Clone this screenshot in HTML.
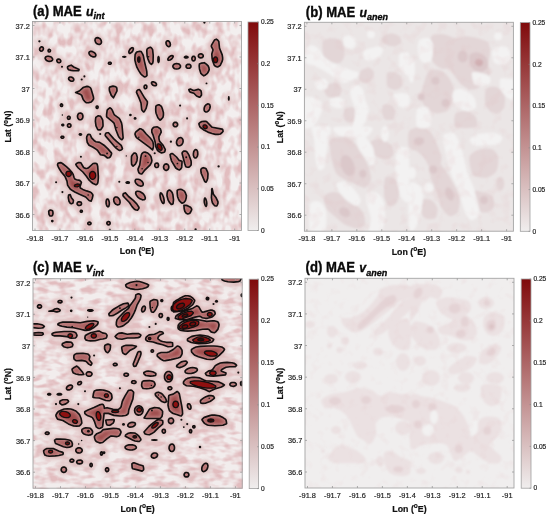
<!DOCTYPE html><html><head><meta charset="utf-8"><style>
html,body{margin:0;padding:0;background:#fff;width:550px;height:518px;overflow:hidden}
svg{display:block} .tk{font-family:"Liberation Sans", Arial, sans-serif;font-size:7.4px;fill:#1e1e1e;stroke:#1e1e1e;stroke-width:0.18px} .al{font-family:"Liberation Sans", Arial, sans-serif;font-size:8.8px;font-weight:bold;fill:#111;stroke:#111;stroke-width:0.2px} .ti{font-family:"Liberation Sans", Arial, sans-serif;font-size:13.8px;font-weight:bold;fill:#0a0a0a;stroke:#0a0a0a;stroke-width:0.35px}
</style></head><body>
<svg width="550" height="518" viewBox="0 0 550 518">
<defs><linearGradient id="cbg" x1="0" y1="1" x2="0" y2="0"><stop offset="0" stop-color="#f0eeee"/><stop offset="1" stop-color="#800a0b"/></linearGradient>
<filter id="bl1" x="-20%" y="-20%" width="140%" height="140%"><feGaussianBlur stdDeviation="2.2"/></filter>
<filter id="bl2" x="-20%" y="-20%" width="140%" height="140%"><feGaussianBlur stdDeviation="3.5"/></filter><filter id="bl3" x="-20%" y="-20%" width="140%" height="140%"><feGaussianBlur stdDeviation="1.2"/></filter><filter id="bl4" x="-5%" y="-5%" width="110%" height="110%"><feGaussianBlur stdDeviation="1.3"/></filter>
<filter id="motpa" color-interpolation-filters="sRGB" x="0" y="0" width="100%" height="100%"><feTurbulence type="fractalNoise" baseFrequency="0.13 0.085" numOctaves="2" seed="11"/><feColorMatrix type="matrix" values="0 0 0 0 0.885  0 0 0 0 0.74  0 0 0 0 0.75  3 0 0 0 -1.200"/></filter>
<filter id="motpc" color-interpolation-filters="sRGB" x="0" y="0" width="100%" height="100%"><feTurbulence type="fractalNoise" baseFrequency="0.085 0.17" numOctaves="2" seed="3"/><feColorMatrix type="matrix" values="0 0 0 0 0.885  0 0 0 0 0.74  0 0 0 0 0.75  3 0 0 0 -1.200"/></filter>
<filter id="motpb" color-interpolation-filters="sRGB" x="0" y="0" width="100%" height="100%"><feTurbulence type="fractalNoise" baseFrequency="0.09 0.09" numOctaves="2" seed="5"/><feColorMatrix type="matrix" values="0 0 0 0 0.885  0 0 0 0 0.74  0 0 0 0 0.75  4 0 0 0 -2.000"/></filter>
<filter id="motpd" color-interpolation-filters="sRGB" x="0" y="0" width="100%" height="100%"><feTurbulence type="fractalNoise" baseFrequency="0.1 0.1" numOctaves="2" seed="9"/><feColorMatrix type="matrix" values="0 0 0 0 0.885  0 0 0 0 0.74  0 0 0 0 0.75  4 0 0 0 -2.080"/></filter>
</defs>
<rect width="550" height="518" fill="#fff"/>
<clipPath id="clipa"><rect x="32.5" y="21.5" width="209.0" height="209.0"/></clipPath>
<rect x="32.5" y="21.5" width="209.0" height="209.0" fill="#f3efef"/>
<rect x="32.5" y="21.5" width="209.0" height="209.0" filter="url(#motpa)" opacity="1"/>
<g clip-path="url(#clipa)"><path d="M225.5 97.1 225.6 100.5 226.9 102.5 229.3 103.1 231.3 101.8 232.1 100.0 232.2 97.7 231.7 95.5 230.7 94.3 229.0 93.7 227.2 94.2 226.1 95.2ZM198.0 129.6 201.7 132.4 206.6 135.0 212.4 137.0 215.8 137.6 220.3 137.3 222.4 136.5 225.4 133.6 226.3 131.2 225.6 128.4 224.2 126.6 221.9 125.8 213.7 124.4 208.6 119.2 205.3 118.2 200.6 118.6 198.2 119.9 196.3 121.8 195.8 123.2 195.9 125.1ZM170.7 63.2 169.7 66.1 170.6 69.2 173.2 71.5 176.6 72.2 180.8 71.2 182.2 70.0 183.3 68.4 184.5 70.0 186.6 71.2 188.9 71.5 190.9 71.1 192.6 69.9 193.8 68.1 194.1 66.1 193.6 64.1 196.3 63.3 196.2 68.8 198.1 75.1 200.2 77.3 202.1 78.6 203.8 79.0 205.3 78.7 208.4 76.7 210.4 74.6 212.3 70.7 212.2 67.6 215.8 69.9 218.5 70.0 222.5 67.5 224.9 63.0 225.7 60.4 225.6 56.1 224.9 53.1 222.6 47.4 221.7 40.3 220.5 38.3 218.6 36.7 215.7 36.0 213.5 36.9 211.9 38.1 209.1 42.9 208.3 44.9 208.2 46.8 209.7 50.2 208.7 53.0 208.6 55.1 209.1 59.9 210.1 63.4 207.3 60.8 204.8 59.6 205.9 58.2 206.4 56.3 206.3 54.6 205.5 53.0 203.5 51.3 200.9 50.7 197.9 51.4 195.7 53.6 192.9 53.1 190.1 54.6 188.2 53.5 185.9 53.2 182.7 54.2 181.7 55.4 181.2 56.9 181.4 58.6 182.3 59.8 184.9 61.1 187.1 61.2 189.0 60.6 189.2 61.1 185.6 61.8 183.3 64.2 182.0 62.4 179.9 61.0 177.2 60.4 174.5 60.7 175.8 58.6 176.4 56.5 176.0 54.7 175.0 53.3 172.5 52.3 169.7 52.9 167.8 54.0 166.0 55.8 164.9 57.9 164.7 59.9 165.3 61.7 166.6 62.9 168.5 63.5ZM198.7 60.8 198.3 60.9 198.0 61.1 198.2 60.6ZM208.2 196.9 206.8 195.3 204.9 194.8 202.9 195.5 201.7 197.1 201.1 199.6 201.2 202.9 202.0 206.1 203.4 208.4 205.5 209.6 207.7 209.1 209.2 207.6 209.9 204.8 212.3 207.8 214.2 209.0 217.1 209.2 219.2 208.1 220.9 204.4 221.1 201.0 218.9 196.3 216.3 193.0 214.9 187.0 213.3 185.5 210.8 185.5 208.7 187.7ZM213.4 106.8 212.8 103.6 211.1 101.5 208.5 100.6 205.8 101.1 203.2 103.1 201.5 105.9 200.8 109.3 201.4 112.2 202.6 113.8 204.4 114.9 206.4 115.2 208.4 114.7 210.3 113.4 211.9 111.5 213.0 109.1ZM198.3 174.6 201.7 182.5 202.8 184.0 205.5 185.3 207.0 185.2 208.4 184.5 210.7 179.3 211.2 173.9 210.5 170.6 208.3 166.5 205.9 165.0 203.4 164.5 201.7 164.8 199.4 166.2 198.1 167.8 197.7 169.3ZM188.8 95.0 192.2 96.0 194.5 98.4 196.9 99.7 198.8 100.4 200.5 100.3 202.9 98.5 204.5 95.9 204.7 93.5 204.2 90.1 202.8 88.0 199.7 86.4 197.6 86.2 194.1 87.3 190.5 85.9 188.5 86.1 186.3 87.5 185.6 89.8 187.0 93.4ZM110.8 197.6 108.9 196.1 106.7 195.8 104.8 196.8 103.4 199.0 102.8 202.1 103.3 205.5 104.4 207.9 106.3 209.6 108.3 210.0 110.3 209.3 111.7 207.5 112.4 205.3 114.1 206.9 116.2 207.9 118.2 208.1 120.2 207.6 121.6 206.6 122.7 204.9 123.2 200.8 127.0 204.6 129.6 208.5 132.7 211.9 136.2 213.3 139.0 213.0 141.1 210.8 142.2 207.8 141.8 205.8 139.3 202.1 142.4 203.0 145.2 202.7 147.4 201.3 148.5 198.6 148.2 196.0 147.0 193.4 145.0 191.2 142.2 189.2 144.2 188.4 145.5 187.3 146.3 185.6 146.5 183.9 145.1 180.1 141.7 177.2 144.1 176.1 147.2 172.3 152.0 167.5 153.6 169.6 156.0 170.7 158.4 170.4 160.6 168.9 162.4 172.0 164.0 173.1 165.8 173.5 167.9 173.3 170.0 172.0 171.2 170.4 172.0 168.0 174.2 170.8 176.9 172.5 179.1 173.1 181.8 172.2 184.3 169.4 187.4 170.4 190.0 170.2 192.2 168.6 194.0 166.2 194.3 161.1 197.4 160.7 199.0 159.5 200.1 157.7 201.1 153.1 200.0 149.0 197.8 146.8 194.8 146.5 192.2 148.1 190.5 151.5 188.9 149.3 187.5 148.4 184.5 147.8 182.3 148.1 184.1 146.6 185.6 144.4 186.2 141.8 186.1 139.4 185.3 137.2 184.0 135.6 182.2 134.6 179.8 134.4 177.2 135.3 175.2 137.1 173.9 139.4 173.3 142.3 174.0 145.6 175.9 147.9 178.8 149.0 181.9 148.4 179.2 151.5 178.9 153.0 179.2 155.2 173.3 150.5 170.6 150.5 168.0 152.1 168.5 149.8 168.0 147.7 165.7 143.7 162.3 139.1 162.0 137.4 164.0 133.6 164.4 131.5 163.5 128.1 162.1 126.1 157.9 123.8 155.0 123.8 152.3 124.4 150.7 125.7 149.1 128.0 148.6 129.6 148.6 131.8 145.5 128.0 143.5 126.6 140.7 125.6 138.1 126.1 134.9 128.4 132.9 130.6 131.8 133.4 132.2 136.2 134.5 140.0 146.9 149.3 144.6 148.9 142.8 149.1 140.8 150.4 139.0 152.3 136.9 150.4 133.5 149.8 131.6 150.8 129.7 153.1 128.6 154.9 128.2 157.0 128.6 165.2 129.9 167.4 131.6 168.9 133.2 169.3 134.8 168.9 135.8 173.7 137.8 175.9 135.5 176.2 133.6 177.2 132.4 178.7 131.9 180.6 130.7 179.5 129.1 178.8 127.1 178.7 125.3 179.2 123.6 180.4 122.9 182.6 124.0 185.2 127.1 186.5 130.5 185.9 131.7 184.8 132.4 183.5 134.2 186.1 136.7 188.0 134.2 189.2 132.8 191.1 132.5 193.6 133.2 196.2 127.6 190.6 124.9 189.7 122.9 190.3 121.1 191.5 120.2 192.9 119.8 195.0 117.3 193.8 114.6 193.8 112.2 195.2ZM155.1 160.1 154.0 155.5 152.5 153.1 154.8 152.1 157.2 154.3 161.5 156.1 164.7 155.5 166.9 154.1 168.2 161.1 166.4 160.7 164.5 160.9 162.9 161.8 161.5 163.3 160.5 161.7 158.9 160.4 157.1 159.9ZM164.1 191.5 162.3 190.1 160.0 189.8 158.1 190.9 157.0 193.2 156.9 196.2 157.6 200.2 159.1 203.6 160.9 205.7 162.6 206.6 164.2 206.6 165.8 205.7 166.9 204.2 169.7 207.3 172.4 207.6 174.2 206.9 175.5 205.7 176.5 202.2 178.8 204.9 180.7 206.1 181.9 212.6 184.7 216.1 186.3 217.0 188.3 217.0 191.0 216.3 192.3 215.3 194.6 211.2 194.9 208.6 194.1 206.8 192.6 204.9 188.0 202.5 189.1 199.5 189.5 195.1 187.9 190.8 186.1 188.3 182.3 186.3 179.8 186.1 175.6 187.5 174.1 189.8 171.5 187.3 169.1 186.9 165.5 188.7ZM180.0 121.6 178.6 120.1 176.6 119.2 174.5 119.1 172.5 119.9 171.0 121.3 170.1 123.3 170.0 125.4 170.8 127.4 172.2 128.9 174.2 129.8 176.3 129.9 178.3 129.1 179.8 127.7 180.7 125.7 180.8 123.6ZM171.5 39.3 169.4 37.9 167.0 37.6 164.8 38.5 163.4 40.3 162.8 42.7 163.2 45.4 164.5 47.7 166.5 49.3 168.3 49.8 170.1 49.6 171.7 48.8 173.0 47.1 173.5 45.2 173.5 43.1 172.7 41.0ZM153.0 114.0 155.0 119.2 157.7 122.4 159.0 123.1 160.4 123.3 163.0 121.9 165.8 118.6 166.6 114.3 165.7 108.7 163.6 104.2 161.3 102.4 159.1 101.6 156.7 102.0 154.0 103.5 153.0 104.7 152.6 106.5ZM122.3 60.1 124.5 60.3 126.7 59.9 128.5 58.4 128.9 56.4 131.8 56.1 132.0 61.8 133.7 67.6 135.3 71.1 139.3 77.0 142.7 79.5 144.9 80.1 148.3 78.8 150.0 76.5 150.1 72.7 149.0 66.6 150.6 67.4 152.7 67.3 154.4 66.1 155.7 64.2 157.7 65.6 160.1 65.3 161.8 63.0 162.3 59.1 162.0 56.6 161.1 54.7 159.0 53.3 157.4 53.5 156.3 54.1 155.8 49.5 155.1 47.5 152.6 44.8 150.3 44.1 147.9 44.7 145.7 45.9 144.4 47.5 143.7 49.7 142.5 48.7 141.0 48.3 136.6 48.7 135.7 46.1 133.6 44.7 131.6 44.6 129.7 45.3 127.8 46.8 126.4 49.0 125.7 51.2 125.8 53.4 122.2 53.6 121.0 54.2 120.0 55.5 120.0 58.1 121.0 59.4ZM133.3 92.4 137.9 103.8 138.9 111.2 142.0 114.7 143.4 115.2 144.9 115.0 146.8 113.5 149.0 109.7 150.6 102.0 150.0 99.7 144.8 91.9 146.8 91.7 148.5 90.8 149.7 89.0 150.1 87.1 151.9 88.3 154.0 89.0 156.1 88.9 157.7 88.3 159.5 85.9 159.4 82.8 158.0 80.7 155.9 79.2 153.5 78.6 151.2 78.9 149.1 80.5 148.3 82.8 146.2 81.9 143.8 82.2 141.7 84.0 140.9 86.7 138.5 86.4 135.3 87.8 133.9 89.7ZM92.2 121.5 93.0 127.0 95.1 131.4 96.3 132.5 98.5 133.1 101.0 133.0 102.7 132.2 102.0 135.3 102.6 137.2 113.8 150.4 117.1 152.9 119.5 153.7 122.1 153.1 124.6 151.2 125.5 149.7 125.4 147.5 124.4 144.6 123.0 142.7 125.3 140.9 126.2 138.5 124.9 123.0 122.2 117.1 120.8 115.5 116.8 112.9 115.1 108.6 112.9 105.9 111.3 104.8 109.9 104.6 108.3 105.0 105.9 106.7 104.1 109.3 103.4 114.8 101.6 113.3 98.8 112.6 97.0 112.9 94.6 114.3 92.8 116.7ZM114.3 134.5 111.3 130.9 109.6 129.7 107.1 129.5 104.1 130.6 106.1 126.6 106.0 120.5 111.2 124.8ZM106.4 91.4 108.1 96.2 109.6 98.5 112.2 100.7 114.6 100.7 116.3 99.2 119.9 92.3 120.2 89.7 119.7 86.5 118.3 84.6 115.2 83.2 112.9 82.9 109.8 83.6 107.9 84.5 106.6 85.9 106.1 88.1ZM83.4 137.3 84.1 143.1 86.3 146.9 87.7 148.2 94.8 152.2 98.6 157.3 100.2 158.0 102.9 158.4 105.5 160.6 107.3 161.2 110.3 160.6 113.1 158.6 114.7 154.0 114.6 152.3 113.4 150.2 105.3 142.2 100.7 139.3 96.7 138.6 94.3 136.1 92.9 133.0 92.0 131.9 90.2 131.2 87.6 131.3 85.8 132.1 84.6 133.6 83.6 131.8 81.6 130.8 79.2 130.8 77.2 131.9 76.1 134.3 76.3 135.7 77.2 137.1 80.2 138.3 81.9 138.1ZM113.6 60.7 112.4 59.7 110.7 59.0 108.9 59.0 107.3 59.6 106.0 60.7 105.3 62.1 105.2 63.5 105.7 65.2 106.9 66.5 108.5 67.3 110.5 67.4 112.3 66.8 113.7 65.6 114.4 64.0 114.4 62.4ZM112.3 220.2 110.9 219.0 109.1 218.4 107.2 218.5 105.5 219.4 104.3 220.8 103.7 222.6 103.8 224.5 104.7 226.2 106.1 227.4 107.9 228.0 109.8 227.9 111.5 227.0 112.7 225.6 113.3 223.8 113.2 221.9ZM100.0 35.0 97.2 34.4 94.7 35.1 92.7 36.8 91.8 39.2 92.0 42.0 93.3 44.5 95.6 46.6 98.2 47.5 100.5 47.4 102.5 46.4 103.8 45.0 104.6 42.8 104.5 40.6 103.6 38.2 102.0 36.3ZM75.9 170.1 80.6 174.2 86.9 182.5 91.5 186.3 94.6 187.7 96.5 187.9 98.7 186.9 100.3 185.1 101.0 183.1 101.5 178.3 101.0 167.4 100.1 163.2 98.3 160.8 95.2 160.0 92.1 160.5 86.4 165.3 85.8 165.1 83.9 161.4 82.4 160.0 79.6 159.3 76.7 159.7 73.7 161.8 72.6 164.1 73.1 166.2ZM100.8 105.0 99.7 103.7 98.2 102.9 96.5 102.8 94.8 103.4 93.6 104.6 92.9 106.2 92.9 108.2 93.6 109.8 94.8 111.0 96.4 111.6 99.4 111.0 100.6 109.8 101.2 108.3 101.3 106.5ZM99.0 54.0 98.1 52.1 96.6 50.3 94.2 48.8 91.9 48.2 89.8 48.2 87.8 49.0 86.4 50.4 85.7 52.3 86.0 54.8 87.6 57.4 90.1 59.1 92.9 60.0 95.6 59.8 97.8 58.5 98.9 56.6ZM77.3 88.4 73.1 90.5 72.4 92.2 72.7 93.7 74.1 95.3 79.2 97.4 80.4 101.1 83.1 104.4 85.2 105.7 87.9 105.9 92.4 105.0 94.5 103.3 96.5 100.1 96.8 97.5 94.3 88.5 92.7 85.4 88.9 83.4 85.7 83.4 81.7 84.7ZM54.3 165.1 56.4 170.3 62.4 178.3 63.9 182.0 64.7 186.5 68.4 191.7 66.2 193.1 65.3 195.1 65.3 199.0 66.5 203.3 69.3 206.6 71.8 206.8 74.5 206.0 75.8 207.6 78.0 208.6 77.2 210.2 77.1 211.9 77.7 213.5 78.8 214.7 81.0 215.5 83.4 215.0 84.9 213.5 85.5 211.6 84.9 209.1 83.0 207.4 84.7 204.5 84.2 201.4 82.8 199.6 80.7 198.6 78.4 198.5 76.4 199.3 73.8 195.0 83.9 199.7 88.0 203.5 91.4 204.3 93.7 202.9 95.6 198.2 96.1 195.3 95.1 192.4 92.7 189.7 83.5 186.2 84.6 182.4 83.3 179.4 81.1 177.5 77.1 176.5 75.5 171.9 73.4 169.1 70.3 165.8 63.6 160.5 60.7 159.4 56.8 160.5 55.0 162.2ZM93.4 220.9 92.2 219.7 90.6 219.0 88.7 218.9 87.0 219.5 85.6 220.6 84.7 222.1 84.6 223.7 85.1 225.5 86.4 226.9 88.0 227.7 90.0 227.9 91.8 227.3 93.2 226.2 94.1 224.5 94.2 222.6ZM85.3 113.0 83.6 110.9 81.3 109.9 78.8 110.0 76.6 111.1 74.9 113.3 74.3 115.9 74.6 118.7 75.9 121.0 77.6 122.4 79.8 123.0 81.9 122.8 83.8 121.7 85.2 120.0 86.0 117.7 86.1 115.3ZM64.4 68.6 65.4 70.9 66.8 72.4 72.3 73.7 79.5 73.7 81.4 72.3 82.2 69.9 81.9 68.2 81.0 66.9 71.5 62.0 68.9 62.5 65.3 64.5 64.3 66.2ZM76.7 77.9 75.6 76.1 73.9 74.7 72.0 74.0 69.9 73.8 68.1 74.3 66.6 75.4 65.7 76.9 65.4 79.0 66.2 81.3 67.8 83.0 70.1 84.2 72.5 84.4 74.5 83.8 76.2 82.3 77.0 80.1ZM65.1 128.3 67.2 130.0 69.8 130.4 72.5 129.2 73.9 127.1 73.9 123.9 71.9 121.3 73.2 119.3 73.3 116.6 72.2 114.6 70.3 113.3 67.1 113.4 64.7 115.5 64.2 118.4 64.8 120.3 66.1 121.7 65.6 122.1 63.7 121.1 61.6 121.2 59.8 122.2 58.8 123.9 58.9 126.4 60.4 128.2 62.7 128.9ZM65.9 134.4 62.9 133.0 61.1 133.1 59.6 133.8 58.3 135.1 57.8 136.5 57.8 138.0 58.5 139.6 59.9 140.8 61.7 141.4 63.5 141.3 65.2 140.6 66.5 139.2 67.0 137.5 66.9 136.0ZM65.3 102.9 64.2 101.6 62.6 100.8 60.8 100.7 59.1 101.4 57.9 102.7 57.2 104.5 57.3 106.3 58.0 107.8 59.2 109.1 60.8 109.7 62.2 109.7 63.9 109.0 65.0 107.8 65.7 106.3 65.8 104.5ZM45.2 52.5 45.7 53.4 42.9 55.4 41.9 58.1 42.7 60.9 45.1 63.3 47.3 64.2 50.0 64.6 52.4 64.1 54.2 63.0 56.2 65.1 59.0 65.9 61.4 65.4 63.3 63.7 63.9 62.2 63.9 60.4 63.4 58.8 62.2 57.3 60.5 56.3 58.6 55.9 56.9 56.2 55.3 57.0 54.1 55.5 52.3 54.1 53.4 52.5 53.7 50.6 53.2 48.5 52.0 47.1 49.1 46.2 46.4 47.3 45.0 44.9 42.5 43.7 40.1 43.9 38.2 45.1 37.0 46.7 36.4 48.9 36.7 51.1 37.7 52.8 39.5 54.1 41.4 54.4 43.4 53.9ZM45.9 214.9 46.8 217.2 48.3 218.7 51.0 219.2 53.6 218.7 55.2 216.9 56.2 214.0 56.0 211.3 55.2 208.9 54.0 207.8 51.5 206.9 49.8 206.8 47.9 207.6 46.3 209.1 45.6 210.5Z" fill="#e2c6c6" filter="url(#bl2)"/><path d="M227.7 96.4 227.4 99.1 227.8 100.5 228.5 101.1 229.4 100.9 229.9 100.3 230.2 98.9 229.8 96.3 229.2 95.8 228.3 95.8ZM199.6 128.3 202.7 130.7 207.4 133.2 215.2 135.6 218.1 135.5 220.9 135.1 223.4 132.9 224.3 131.3 223.9 129.3 223.1 128.3 212.8 126.2 208.0 121.3 206.8 120.4 205.9 120.2 201.5 120.4 199.5 121.5 198.2 122.6 197.8 123.4 197.9 124.7 198.8 127.2ZM210.2 46.7 211.8 50.1 210.7 53.2 210.6 54.8 211.1 59.5 212.2 63.3 213.0 65.4 213.9 66.5 216.5 68.1 217.9 68.1 220.0 67.0 221.2 65.9 223.1 62.2 223.8 59.6 223.3 54.7 220.6 47.8 220.1 42.0 219.6 40.4 217.9 38.7 216.8 38.0 215.6 38.1 214.3 38.7 213.0 40.0 210.9 43.7 210.3 45.2ZM210.6 188.4 210.3 197.6 211.3 203.2 212.7 205.2 214.2 206.8 215.4 207.2 217.3 207.1 218.1 206.3 218.8 204.6 219.2 202.8 219.1 201.5 217.2 197.2 214.5 193.8 213.2 188.1 212.5 187.4 211.5 187.4ZM211.4 106.6 210.9 104.4 209.7 103.0 207.9 102.6 206.1 103.2 204.3 104.9 203.1 107.2 202.8 109.7 203.5 111.8 204.3 112.7 205.5 113.2 206.8 113.1 208.1 112.6 209.3 111.6 210.4 110.1 211.1 108.6ZM198.3 69.1 199.9 74.1 202.3 76.4 203.8 77.0 205.4 76.4 208.3 74.1 209.6 72.0 210.4 69.6 210.0 67.4 209.0 65.2 206.2 62.5 204.3 61.5 200.3 62.3 198.5 63.3 198.0 65.8ZM200.2 173.9 203.9 182.2 205.3 183.2 206.9 183.1 208.7 179.4 209.2 174.9 208.9 172.3 207.0 168.0 205.7 167.1 203.2 166.5 202.3 166.7 200.7 167.8 199.9 168.7 199.7 169.5ZM207.0 198.8 205.9 197.2 204.7 196.8 203.7 197.6 203.1 199.7 203.1 202.1 203.7 204.9 204.8 206.9 206.0 207.6 206.6 207.5 207.3 206.9 207.9 204.7 207.8 201.9ZM203.8 54.1 203.0 53.3 201.8 52.8 200.4 52.7 199.1 53.0 198.0 53.8 197.3 54.9 197.2 56.0 197.5 57.2 198.3 58.3 199.7 59.0 201.2 59.1 202.5 58.8 203.8 57.8 204.4 56.6 204.4 55.3ZM189.7 93.2 193.3 94.3 195.9 96.9 199.2 98.4 200.0 98.3 200.9 97.7 202.6 95.2 202.6 92.7 202.1 90.2 200.5 88.9 198.7 88.2 194.0 89.3 190.2 87.9 188.6 88.2 187.7 89.0 187.6 90.0 188.7 92.4ZM198.8 151.2 197.8 149.3 196.4 148.4 194.7 148.7 193.2 150.2 192.3 152.5 192.2 155.0 192.8 157.3 194.1 158.9 195.1 159.2 196.2 159.1 197.2 158.4 198.0 157.4 199.0 154.6ZM196.1 56.7 195.2 55.7 194.0 55.1 192.8 55.2 191.6 56.0 190.9 57.2 190.7 58.9 191.0 60.3 191.9 61.5 193.7 62.1 194.7 61.9 195.6 61.2 196.5 59.2ZM182.7 206.1 183.6 211.3 184.2 212.5 186.1 214.6 187.3 215.1 189.4 214.8 190.7 214.1 192.0 212.0 192.9 209.7 192.4 207.9 191.3 206.4 187.7 204.5 185.8 204.1 183.7 204.2 182.9 204.7ZM170.4 161.2 174.9 168.8 177.1 170.3 179.1 171.1 180.7 170.6 182.4 168.6 182.9 167.1 183.2 162.7 184.7 167.1 185.5 167.9 187.0 168.3 188.6 168.5 189.7 168.1 191.8 166.0 192.4 164.6 192.2 160.8 190.2 154.9 187.4 150.7 185.2 149.9 183.8 149.8 182.8 150.2 181.4 151.6 180.9 152.7 181.1 154.5 182.6 160.1 179.9 159.4 177.8 156.7 172.9 152.5 171.3 152.4 169.8 153.1 168.9 154.2 168.9 155.2ZM191.5 64.5 190.7 63.7 189.5 63.2 188.1 63.1 186.8 63.4 185.7 64.2 185.0 65.3 184.9 66.4 185.2 67.6 186.0 68.7 187.4 69.4 188.9 69.5 190.2 69.2 191.5 68.2 192.1 67.0 192.1 65.7ZM188.5 55.8 186.7 55.2 184.7 55.4 183.4 56.4 183.2 57.7 183.8 58.5 184.9 59.1 186.4 59.2 187.7 59.0 188.7 58.3 189.2 57.5 189.1 56.6ZM176.5 196.9 177.3 199.3 178.6 201.8 180.8 204.0 182.4 204.2 184.6 203.4 186.5 201.0 187.4 198.1 187.5 195.4 186.6 192.7 185.2 190.2 182.4 188.5 180.1 188.1 177.5 188.7 176.1 189.9 175.9 192.0ZM184.2 139.7 183.4 137.9 181.7 136.6 179.8 136.4 177.8 137.3 176.4 138.9 175.4 141.3 175.4 143.7 176.2 145.5 177.5 146.6 178.7 147.0 180.2 146.9 181.8 146.1 182.9 145.0 183.9 143.2 184.3 141.6ZM180.9 64.1 179.8 63.2 178.1 62.5 176.2 62.4 174.4 62.8 172.9 63.7 172.0 64.8 171.7 66.2 171.9 67.4 172.9 68.9 174.8 70.0 176.7 70.2 179.0 69.8 180.6 68.8 181.6 67.2 181.7 65.6ZM178.3 122.6 177.4 121.7 176.1 121.1 174.8 121.1 173.5 121.6 172.6 122.5 172.0 123.8 172.0 125.1 172.5 126.4 173.4 127.3 174.7 127.9 176.0 127.9 177.3 127.4 178.2 126.5 178.8 125.2 178.8 123.9ZM165.8 196.0 167.4 201.2 170.1 205.1 170.8 205.6 171.5 205.7 173.7 204.8 174.3 203.7 174.6 200.7 174.1 194.6 173.3 192.1 170.8 189.3 170.0 188.9 168.9 189.0 167.5 189.7 166.5 190.6 166.0 192.3ZM171.9 54.3 169.4 55.3 167.4 57.3 166.6 59.5 166.9 60.5 167.6 61.2 168.9 61.5 170.6 61.1 172.3 60.0 173.6 58.5 174.3 56.9 174.2 55.5 173.3 54.6ZM170.0 40.7 168.7 39.8 167.2 39.6 165.8 40.3 165.0 41.7 164.9 43.6 165.5 45.5 166.6 47.0 168.0 47.7 169.1 47.8 170.0 47.5 170.8 46.8 171.4 45.7 171.4 43.0ZM169.2 164.4 168.0 163.2 166.3 162.7 164.7 163.0 163.4 164.0 162.5 165.8 162.4 167.6 162.9 169.5 164.0 170.7 165.1 171.4 166.5 171.5 167.8 171.2 169.0 170.2 169.8 168.8 170.0 167.5 169.9 165.8ZM133.8 134.1 134.6 136.8 135.8 138.5 148.3 147.8 151.9 150.9 152.8 151.0 153.6 150.4 154.6 146.6 156.5 151.1 159.1 153.0 160.8 153.9 162.0 154.1 164.7 153.3 165.6 152.5 166.4 150.0 166.3 148.7 164.1 144.8 160.7 140.7 160.2 138.9 160.0 137.0 162.3 132.4 162.1 130.2 161.3 128.2 158.9 126.4 156.8 125.7 153.3 126.2 152.1 127.1 150.7 129.3 150.7 132.4 152.1 135.8 153.5 140.5 151.1 137.2 147.1 133.2 144.1 129.5 143.1 128.6 141.1 127.7 139.4 127.7 136.3 129.9 134.6 131.6ZM163.6 194.2 162.1 192.3 160.5 191.8 159.3 192.7 158.8 195.0 159.2 198.3 160.4 201.7 161.8 203.8 163.4 204.7 164.1 204.5 164.8 203.9 165.4 201.4 165.0 198.0ZM155.0 113.5 156.9 118.4 159.4 121.2 160.2 121.3 161.0 121.0 164.1 117.7 164.5 116.1 164.6 113.3 163.8 109.3 162.6 106.1 160.1 104.0 158.9 103.6 157.5 103.8 155.9 104.5 154.8 105.6 154.5 109.1ZM157.0 57.0 156.7 59.5 157.0 62.0 157.7 63.4 158.8 63.7 159.6 63.0 160.2 61.3 160.3 59.1 160.0 57.0 159.4 55.7 158.6 55.3 157.6 55.7ZM159.4 163.5 158.4 162.4 157.3 161.9 156.0 161.9 154.7 162.6 153.9 163.7 153.6 165.0 153.8 166.5 154.4 167.7 155.4 168.4 156.4 168.7 157.6 168.6 158.7 168.0 159.4 167.1 159.8 165.9 159.8 164.6ZM157.6 83.7 156.1 81.7 153.7 80.6 152.5 80.6 151.4 81.0 150.6 81.8 150.3 82.6 150.5 84.1 151.3 85.4 152.8 86.5 154.3 87.0 155.9 86.9 157.1 86.2 157.7 85.1ZM145.6 50.7 146.0 56.3 147.7 61.8 148.5 63.2 150.0 64.8 151.0 65.5 151.9 65.4 153.7 63.8 154.2 62.2 154.4 56.1 153.7 49.1 151.8 46.7 150.9 46.1 150.1 46.1 146.7 47.7 145.9 49.1ZM138.7 164.1 136.8 169.1 137.6 172.9 138.1 173.7 139.1 174.4 141.6 175.2 142.8 174.6 145.7 170.9 151.2 165.4 153.0 161.8 153.0 159.4 151.9 155.6 148.8 152.3 146.9 151.4 143.9 150.9 142.5 151.5 140.9 153.0 140.0 155.6ZM135.3 92.4 139.9 103.4 140.6 110.2 142.6 112.7 143.5 113.2 144.3 113.1 145.8 111.4 147.2 108.8 148.6 102.8 148.4 100.9 145.7 97.4 142.0 91.1 140.1 88.6 138.5 88.5 136.4 89.5 135.6 90.9ZM133.9 54.6 133.7 58.2 133.9 61.2 135.5 66.9 137.1 70.1 140.0 74.8 142.2 76.8 144.4 78.1 146.5 77.6 147.7 76.6 148.1 75.8 148.0 71.6 144.5 55.5 143.5 53.1 142.5 51.5 141.4 50.4 138.1 50.4 136.7 50.8 135.6 51.6 134.3 53.3ZM147.8 85.3 147.0 84.4 146.0 83.9 144.9 83.9 143.8 84.5 143.1 85.6 142.9 86.9 143.1 88.1 143.7 89.2 145.4 89.9 147.2 89.3 148.1 87.4ZM146.3 196.8 145.7 195.1 144.2 193.2 142.7 191.8 140.6 190.6 138.8 190.0 136.8 190.1 135.5 190.7 134.7 191.7 134.6 193.8 135.7 196.4 137.7 198.7 140.4 200.4 143.2 201.0 145.1 200.6 146.3 199.1ZM144.3 183.1 143.7 181.6 142.4 180.1 140.6 178.8 139.0 178.2 137.1 177.9 135.8 178.2 134.7 178.9 134.0 180.1 134.1 182.1 135.0 184.0 137.0 185.9 139.4 187.0 141.7 187.2 143.5 186.5 144.4 185.1ZM121.8 195.9 123.1 197.7 128.5 203.3 131.2 207.3 133.6 210.1 134.6 210.7 136.8 211.3 137.9 211.3 138.7 210.8 139.8 209.0 140.2 207.7 139.1 205.3 136.4 201.9 133.5 199.0 129.5 195.6 126.5 192.2 125.1 191.7 122.7 192.7 122.0 194.0ZM130.2 160.0 130.3 163.9 130.7 165.1 132.4 167.1 133.7 167.2 136.4 164.7 138.1 160.7 138.4 157.0 137.6 154.1 136.9 152.7 135.9 152.1 134.2 151.8 133.4 152.0 132.5 152.9 130.5 155.7ZM134.5 49.7 134.4 48.0 133.7 46.9 132.3 46.5 130.7 47.0 129.2 48.3 128.0 50.3 127.6 52.1 128.0 53.5 129.4 54.5 131.5 54.0 133.4 52.2ZM130.0 181.4 128.4 180.7 126.4 180.8 125.1 181.8 124.9 183.1 125.5 183.8 126.4 184.4 129.0 184.4 129.9 183.8 130.5 183.1 130.5 182.2ZM123.0 58.2 124.6 58.3 126.0 58.0 126.8 57.3 126.8 56.3 126.2 55.7 125.2 55.3 122.6 55.6 121.8 56.2 121.7 57.0 122.1 57.7ZM105.7 117.4 106.8 118.6 112.9 123.7 115.2 131.3 117.2 136.4 118.1 137.9 120.9 140.7 121.8 140.9 122.8 140.6 124.0 139.1 124.3 137.5 123.2 125.3 122.7 122.4 120.2 117.7 115.3 114.2 113.4 109.6 110.8 106.8 109.9 106.6 108.7 107.1 107.1 108.3 106.1 109.6 105.4 114.7ZM104.0 135.6 105.4 137.6 113.8 147.5 116.4 150.0 118.7 151.5 119.7 151.7 121.8 151.0 123.2 149.8 123.5 149.1 123.4 147.9 122.1 144.7 114.5 137.7 109.2 131.7 107.6 131.5 105.1 132.3 104.2 133.9ZM118.9 196.8 116.8 195.7 114.9 195.8 113.3 197.0 112.6 198.8 112.6 201.1 113.6 203.5 115.3 205.3 117.1 206.1 118.7 206.0 119.9 205.4 120.7 204.4 121.2 203.0 121.3 201.6 120.9 199.7 120.1 198.2ZM108.4 91.1 109.6 94.6 110.6 96.5 112.7 98.7 113.9 98.9 114.7 98.0 118.0 91.7 118.2 89.7 117.8 87.2 116.8 86.1 113.6 84.9 112.2 84.9 109.8 85.7 108.6 86.5 108.2 87.2ZM85.4 138.2 86.1 142.5 87.9 145.7 89.0 146.6 96.0 150.6 99.8 155.7 103.7 156.5 107.3 159.2 109.4 158.8 111.3 157.6 112.3 155.6 112.8 153.7 112.4 152.3 111.2 150.7 105.1 144.6 101.2 141.9 99.8 141.1 96.2 140.6 95.4 140.1 92.6 137.2 90.8 133.5 88.9 133.2 87.0 133.7 85.7 136.2ZM112.0 61.9 110.5 61.0 108.6 61.2 107.3 62.4 107.3 64.0 107.9 64.8 108.9 65.3 111.0 65.2 111.9 64.6 112.4 63.7 112.4 62.8ZM110.7 221.4 109.9 220.7 108.8 220.4 107.7 220.5 106.7 221.0 106.0 221.8 105.7 222.9 105.8 224.0 106.3 225.0 107.1 225.7 108.2 226.0 109.3 225.9 110.3 225.4 111.0 224.6 111.3 223.5 111.2 222.4ZM109.7 199.7 108.6 198.2 107.3 197.8 106.0 198.4 105.1 200.1 104.8 202.6 105.2 205.0 106.1 206.9 107.5 208.0 108.3 208.0 109.1 207.7 110.3 205.7 110.5 202.7ZM94.2 121.4 94.9 126.3 96.7 130.2 97.4 130.8 98.6 131.1 100.1 131.1 101.5 130.7 103.5 127.7 104.2 125.2 103.8 119.8 101.8 116.0 100.8 115.1 98.7 114.6 97.5 114.9 95.9 115.8 94.7 117.3ZM99.1 36.8 97.3 36.4 95.4 36.9 94.2 38.2 93.8 40.2 94.2 42.0 95.4 43.9 97.0 45.1 99.0 45.6 100.4 45.4 101.6 44.6 102.4 43.4 102.6 41.8 102.4 40.4 101.6 38.8 100.6 37.7ZM77.4 168.8 81.5 172.3 85.5 176.9 88.3 181.0 91.9 184.1 93.7 185.2 96.0 185.9 96.9 185.7 98.2 184.5 98.8 183.5 99.2 181.8 99.5 175.8 98.8 166.3 98.3 164.0 97.3 162.5 95.1 162.0 92.6 162.4 87.6 166.8 86.3 167.3 84.5 166.6 81.6 161.8 79.7 161.3 77.7 161.5 75.4 163.0 74.6 164.3 75.2 165.9ZM99.0 105.9 98.3 105.1 97.5 104.8 95.8 105.2 94.9 106.9 95.4 108.8 96.8 109.6 98.4 109.2 99.3 107.7ZM97.0 54.4 96.5 53.2 95.3 51.8 93.7 50.8 92.0 50.2 90.6 50.1 89.2 50.5 88.2 51.3 87.7 52.4 87.9 54.2 88.9 55.7 90.6 57.2 92.8 58.0 94.6 58.0 96.2 57.3 97.0 56.0ZM74.7 93.2 80.8 96.1 82.2 100.2 84.4 102.8 85.8 103.8 88.8 103.8 91.8 103.1 93.6 101.2 94.7 99.3 94.8 98.4 94.5 96.3 91.9 87.7 90.9 86.6 88.3 85.3 86.1 85.3 82.8 86.4 78.7 89.9 74.9 91.5 74.4 92.3ZM56.3 165.0 58.2 169.3 64.2 177.4 65.9 181.5 66.5 185.5 69.3 189.9 74.3 193.0 85.0 198.0 88.9 201.7 90.7 202.3 91.9 201.9 92.9 200.1 94.0 196.3 94.0 194.8 93.3 193.3 92.3 192.0 91.2 191.2 84.4 188.8 81.2 187.1 82.6 182.8 82.1 181.2 80.2 179.3 75.7 178.1 73.8 172.9 69.7 168.0 63.1 162.5 61.2 161.5 59.8 161.6 57.4 162.5 56.7 163.4ZM91.8 222.0 90.2 220.9 88.0 221.2 86.7 222.6 86.6 223.5 86.8 224.5 87.5 225.3 88.5 225.8 89.7 225.9 90.8 225.6 91.7 224.9 92.2 224.0 92.2 222.9ZM83.5 113.9 82.4 112.5 80.7 111.8 79.1 111.9 77.6 112.9 76.6 114.6 76.3 116.4 76.7 118.5 77.7 120.0 79.0 120.8 80.3 121.0 81.7 120.7 82.8 119.9 83.7 118.6 84.1 117.2 84.1 115.5ZM83.2 210.1 81.8 209.1 80.1 209.4 79.1 210.8 79.4 212.5 80.8 213.5 82.5 213.2 83.5 211.8ZM82.2 201.9 81.4 201.1 80.2 200.6 78.9 200.5 77.7 200.8 76.6 201.6 76.0 202.6 75.9 203.7 76.2 204.9 76.9 205.9 78.3 206.6 79.7 206.7 80.9 206.4 82.1 205.4 82.7 204.3 82.7 203.0ZM82.3 133.4 81.0 132.7 79.3 132.9 78.2 133.8 78.1 135.0 79.4 136.2 81.5 136.1 82.7 135.0 82.7 134.2ZM66.4 68.1 67.1 69.9 67.9 70.7 71.8 71.7 78.8 71.8 79.8 71.1 80.2 69.9 80.1 69.0 79.6 68.4 74.3 65.9 72.4 64.5 71.3 64.0 69.7 64.4 66.8 65.8 66.3 66.7ZM74.8 78.6 73.2 76.6 70.7 75.8 69.4 75.9 68.4 76.5 67.7 77.4 67.4 78.5 67.6 79.8 68.6 81.1 70.2 82.1 71.7 82.4 73.3 82.1 74.5 81.3 75.0 80.1ZM67.1 197.5 67.9 201.7 69.7 204.4 70.4 204.8 71.3 204.9 73.6 204.1 74.4 202.2 74.5 200.1 72.5 197.2 71.0 193.7 69.7 193.4 67.8 194.3 67.3 195.3ZM71.7 123.9 70.9 123.1 69.8 122.6 68.7 122.6 67.6 123.0 66.8 123.8 66.3 124.9 66.3 126.0 66.7 127.1 67.5 127.9 68.6 128.4 69.7 128.4 70.8 128.0 71.6 127.2 72.1 126.1 72.1 125.0ZM70.9 116.1 70.0 115.4 69.0 115.1 68.0 115.2 67.1 115.7 66.2 117.6 66.3 118.8 66.9 119.7 67.7 120.3 68.7 120.5 70.5 119.9 71.4 118.1ZM64.4 135.8 62.8 135.0 60.9 135.3 59.9 136.6 60.0 138.2 60.7 138.9 61.7 139.4 63.9 139.1 64.7 138.4 65.0 137.5 64.9 136.6ZM64.6 123.9 63.3 123.1 61.8 123.3 60.8 124.3 60.9 125.8 62.1 126.9 63.8 126.7 64.9 125.5ZM63.5 103.9 62.8 103.1 61.9 102.7 61.0 102.7 60.1 103.1 59.5 103.9 59.2 104.9 59.7 106.8 61.2 107.7 62.9 107.3 63.8 105.7ZM62.0 60.9 61.0 58.9 60.0 58.2 58.8 57.9 57.5 58.0 56.6 58.5 56.0 59.3 55.6 60.5 55.8 61.7 56.5 62.8 57.6 63.6 58.8 63.9 60.2 63.7 61.2 63.1 61.8 62.0ZM47.9 214.5 48.6 216.2 49.4 217.0 51.5 217.2 52.8 216.8 53.7 215.5 54.2 213.8 54.0 211.8 53.4 209.9 52.3 209.2 50.6 208.8 49.7 208.9 48.6 209.6 47.5 211.0ZM53.5 57.9 52.6 56.8 51.2 55.8 49.4 55.2 47.9 55.0 46.3 55.3 45.1 56.0 44.2 57.0 43.9 58.3 44.4 59.8 45.8 61.3 47.5 62.2 49.9 62.6 51.9 62.1 53.3 61.1 53.9 59.6ZM51.4 49.3 50.6 48.6 49.7 48.2 47.9 48.6 46.9 50.3 46.9 51.4 47.4 52.3 49.0 53.2 50.7 52.8 51.7 51.2ZM44.6 48.2 44.1 46.9 43.2 46.0 42.0 45.6 40.6 45.8 39.5 46.5 38.7 47.7 38.4 49.2 38.6 50.6 39.3 51.6 40.3 52.2 41.3 52.4 42.4 52.2 44.1 50.6 44.5 49.4Z" fill="#dcb8b8" filter="url(#bl1)"/><g fill="#dcb8b8" filter="url(#bl1)"><circle cx="39.4" cy="41.3" r="3.0"/><circle cx="62" cy="66.7" r="2.9"/><circle cx="84.4" cy="76.4" r="2.9"/><circle cx="81.7" cy="79.5" r="2.9"/><circle cx="148.6" cy="56.8" r="2.5"/><circle cx="206.5" cy="83.4" r="2.8"/><circle cx="204.4" cy="22.6" r="3.0"/><circle cx="62.4" cy="115" r="2.5"/><circle cx="107.1" cy="153.4" r="2.8"/><circle cx="100.2" cy="134" r="2.9"/><circle cx="80.9" cy="156.8" r="2.9"/><circle cx="116.9" cy="127.5" r="2.5"/><circle cx="130.4" cy="115" r="3.1"/><circle cx="135.1" cy="118.4" r="3.2"/><circle cx="116.9" cy="146.4" r="2.5"/><circle cx="138.8" cy="137.2" r="2.5"/><circle cx="154.7" cy="153.2" r="2.9"/><circle cx="145.5" cy="156.1" r="2.8"/><circle cx="142.1" cy="168.8" r="2.5"/><circle cx="148" cy="162.6" r="2.5"/><circle cx="170.9" cy="141.7" r="3.0"/><circle cx="126.3" cy="155.9" r="2.5"/><circle cx="180.1" cy="105.6" r="2.9"/><circle cx="187.1" cy="118.4" r="2.9"/><circle cx="186.2" cy="157.2" r="2.8"/><circle cx="177.4" cy="163.5" r="2.6"/><circle cx="88.1" cy="195.1" r="2.5"/><circle cx="56.1" cy="182.2" r="2.9"/><circle cx="62.4" cy="192.1" r="2.9"/><circle cx="52.3" cy="221.1" r="3.2"/><circle cx="119.3" cy="181.7" r="2.9"/><circle cx="109.8" cy="229.9" r="2.9"/><circle cx="218.6" cy="166.4" r="3.0"/><circle cx="195.6" cy="229.4" r="3.0"/></g><path d="M98.6 37.9 97.3 37.6 96.0 38.0 95.2 39.0 95.0 40.5 95.6 42.2 96.5 43.4 97.8 44.1 99.4 44.4 100.2 44.2 101.0 43.5 101.4 42.4 101.4 41.5 101.0 40.1 100.4 39.2 99.6 38.4ZM43.4 48.3 43.1 47.6 42.4 47.0 41.6 46.8 40.9 47.0 40.1 47.8 39.7 48.6 39.6 49.5 39.9 50.4 40.9 51.2 42.1 51.0 43.2 49.8ZM50.3 49.9 49.5 49.4 48.9 49.4 48.5 49.6 48.1 50.2 48.1 50.7 48.4 51.7 49.2 52.0 50.1 51.8 50.5 50.8ZM95.8 54.7 95.3 53.6 94.5 52.7 92.5 51.6 91.4 51.3 90.2 51.4 89.5 51.7 89.0 52.4 89.0 53.5 89.5 54.6 90.9 55.9 92.3 56.6 93.7 56.9 95.1 56.6 95.8 55.8ZM52.4 58.4 51.6 57.4 50.6 56.8 48.4 56.2 47.3 56.3 46.1 56.7 45.4 57.4 45.1 58.2 45.6 59.4 46.5 60.4 47.9 61.1 49.4 61.4 50.9 61.2 52.1 60.6 52.7 59.6ZM60.8 60.9 60.5 60.2 60.0 59.6 58.7 59.1 57.5 59.4 57.0 59.9 56.8 60.5 57.0 61.4 57.4 62.0 58.1 62.5 58.9 62.7 59.6 62.6 60.3 62.3 60.7 61.6ZM67.5 67.8 68.0 68.9 68.6 69.7 71.1 70.4 73.3 70.6 78.0 70.7 78.7 70.6 79.0 69.8 79.0 69.5 78.6 69.2 73.7 67.0 71.2 65.2 69.3 65.8 67.6 66.7ZM73.7 78.9 73.1 78.1 72.5 77.6 71.0 77.0 70.2 77.0 69.3 77.3 68.8 77.8 68.6 78.5 68.8 79.5 69.5 80.3 70.4 80.9 71.4 81.2 72.5 81.2 73.4 80.7 73.8 79.9ZM75.6 92.5 80.7 94.6 81.7 95.4 83.2 99.5 84.6 101.3 86.2 102.7 88.7 102.6 91.2 102.0 92.7 100.4 93.5 99.0 93.6 98.4 93.3 96.5 91.0 88.8 90.3 87.6 88.5 86.6 87.0 86.4 83.8 87.2 82.8 87.8 79.3 91.0ZM62.4 104.4 61.6 103.9 60.7 104.2 60.4 105.2 60.8 106.3 61.6 106.5 62.3 106.2 62.6 105.3ZM98.0 106.5 97.2 106.0 96.4 106.3 96.1 107.2 96.5 108.2 97.2 108.4 97.8 108.1 98.1 107.3ZM82.5 114.4 81.7 113.5 80.5 113.0 79.2 113.2 78.3 113.9 77.6 115.4 77.5 116.7 77.8 118.1 78.7 119.3 79.4 119.7 80.5 119.8 81.5 119.5 82.1 118.9 82.7 117.8 82.9 116.7 82.9 115.7ZM69.9 116.8 68.9 116.3 68.3 116.4 67.8 116.7 67.4 117.8 67.8 118.9 68.8 119.3 69.8 118.9 70.2 117.8ZM95.4 121.3 96.0 125.9 97.7 129.5 97.9 129.7 98.7 129.9 99.9 129.9 100.7 129.7 101.9 128.1 102.8 126.5 103.0 125.9 103.0 124.2 102.7 120.1 101.7 118.1 100.6 116.4 99.5 116.0 98.3 115.8 96.2 117.1 95.8 117.6 95.6 118.8ZM63.6 124.6 63.1 124.3 62.4 124.3 61.9 124.7 61.9 125.2 62.4 125.7 63.2 125.7 63.7 125.2ZM70.7 124.5 70.2 124.0 69.5 123.8 68.9 123.8 68.2 124.0 67.7 124.5 67.5 125.2 67.5 125.8 67.7 126.5 68.2 127.0 68.9 127.2 69.5 127.2 70.2 127.0 70.7 126.5 70.9 125.8 70.9 125.2ZM81.4 134.2 80.9 133.9 80.1 133.9 79.5 134.1 79.3 134.5 79.8 135.0 80.7 135.1 81.5 134.7ZM63.6 136.6 62.7 136.2 61.8 136.2 61.1 136.8 61.0 137.5 61.8 138.2 63.0 138.2 63.8 137.5 63.8 137.0ZM86.6 138.2 87.2 142.2 88.9 145.0 89.6 145.6 93.1 147.3 96.7 149.6 97.8 150.7 100.5 154.7 104.3 155.4 107.5 158.0 109.0 157.7 110.4 156.8 111.4 154.4 111.6 153.3 111.4 152.9 107.9 148.9 104.0 145.2 99.7 142.4 95.9 141.7 94.7 141.1 91.6 137.9 90.1 134.5 88.9 134.4 87.8 134.6 86.8 136.6ZM78.3 168.0 82.9 172.0 86.4 176.2 89.2 180.2 91.1 182.0 93.1 183.5 95.4 184.6 96.3 184.7 97.3 183.8 97.7 183.1 98.0 181.7 98.3 178.2 98.3 175.9 97.7 166.5 97.2 164.5 96.6 163.5 95.0 163.2 93.1 163.5 88.4 167.8 87.6 168.3 86.2 168.5 84.7 168.1 83.6 167.5 80.9 162.8 79.6 162.5 78.1 162.6 76.6 163.5 75.8 164.4 76.7 166.0ZM57.5 165.0 58.4 167.1 59.6 169.3 61.5 172.2 64.4 175.6 65.2 176.9 67.0 181.1 67.6 185.1 68.8 187.1 70.2 189.0 72.0 190.3 74.8 192.0 79.5 194.3 85.7 197.0 89.1 200.5 90.4 201.0 91.1 201.1 92.2 198.5 92.9 195.5 92.7 194.5 91.5 192.9 90.7 192.3 86.6 190.9 82.8 189.4 80.8 188.3 80.2 187.8 80.0 186.7 81.4 182.6 81.1 181.9 79.7 180.4 76.5 179.7 74.8 179.0 74.0 177.3 73.0 174.1 72.3 172.9 68.8 168.8 66.4 166.7 62.4 163.5 61.0 162.6 59.4 162.9 58.0 163.4 57.7 164.1ZM68.3 197.5 69.0 201.3 70.2 203.2 70.9 203.7 71.8 203.6 72.8 203.2 73.2 201.9 73.4 200.3 71.4 197.8 70.2 194.6 68.6 195.1ZM81.2 202.5 80.6 202.0 79.7 201.7 78.2 201.9 77.7 202.2 77.2 202.9 77.1 203.6 77.2 204.3 77.8 205.1 78.6 205.5 79.5 205.5 80.4 205.3 81.1 204.8 81.5 204.1 81.5 203.2ZM82.2 210.7 81.5 210.3 80.7 210.4 80.3 211.1 80.4 211.9 81.1 212.3 81.9 212.2 82.3 211.5ZM49.0 214.3 49.9 215.9 51.0 216.0 52.0 215.9 52.6 215.0 53.0 213.6 52.9 212.0 52.5 210.7 51.4 210.2 50.3 210.0 49.1 210.8 48.7 211.4ZM90.8 222.7 89.9 222.1 88.7 222.2 87.9 222.8 87.8 223.8 88.2 224.3 88.7 224.6 90.1 224.6 90.6 224.3 91.0 223.8 91.0 223.2ZM133.3 49.4 133.3 48.3 132.7 47.7 131.8 47.8 130.6 48.6 129.7 49.6 129.0 51.0 128.8 52.1 129.1 53.0 129.5 53.3 130.2 53.3 131.6 52.4 132.6 51.2ZM146.8 50.8 147.1 56.0 148.0 59.1 149.4 62.4 150.3 63.5 151.4 64.3 152.7 63.1 153.1 61.0 153.2 55.2 152.6 49.6 151.6 48.1 150.7 47.4 150.3 47.3 148.5 48.0 147.5 48.6 147.0 49.4ZM123.3 57.0 124.6 57.1 125.7 56.8 124.3 56.5 122.9 56.8ZM158.1 57.4 157.9 60.2 158.1 61.6 158.5 62.5 159.0 61.4 159.1 59.5 159.0 57.6 158.5 56.5ZM111.0 62.7 110.3 62.2 109.3 62.2 108.6 62.7 108.4 63.4 109.1 64.1 110.3 64.2 111.2 63.6 111.2 63.1ZM135.1 54.9 134.9 58.2 134.9 60.1 135.8 63.7 137.0 67.4 138.9 70.9 140.9 74.0 142.1 75.2 144.3 76.8 144.7 76.9 145.4 76.8 146.4 76.1 147.0 75.5 146.8 71.7 146.2 68.7 144.5 61.6 143.3 55.7 142.8 54.4 141.2 51.7 140.9 51.5 139.9 51.4 137.6 51.8 136.8 52.1 135.7 53.4ZM156.4 84.0 155.9 83.2 155.3 82.6 153.8 81.9 153.1 81.8 152.2 81.9 151.8 82.2 151.5 82.7 151.6 83.6 152.1 84.4 153.1 85.3 154.2 85.7 155.2 85.8 156.1 85.5 156.5 84.9ZM146.7 85.8 146.3 85.3 145.6 85.1 145.0 85.2 144.4 85.7 144.1 86.5 144.1 87.3 144.3 88.0 144.9 88.6 145.8 88.7 146.6 88.1 146.9 86.9ZM109.5 90.9 111.3 95.4 113.4 97.8 117.0 90.9 116.9 89.0 116.6 87.4 115.0 86.5 113.0 86.1 110.3 86.9 109.7 87.1 109.4 87.6 109.3 88.9ZM136.5 92.4 139.1 98.1 141.0 103.0 141.7 109.7 142.9 111.3 143.8 112.0 144.8 110.7 146.1 108.4 147.3 103.7 147.4 101.9 147.3 101.4 144.7 98.1 141.0 91.8 139.4 89.6 138.3 89.8 137.2 90.4 136.7 91.3ZM156.1 113.2 157.9 117.7 159.6 119.8 160.0 120.1 160.3 120.0 161.5 119.0 163.0 117.2 163.4 115.1 163.4 112.7 162.6 109.6 161.6 106.8 160.8 105.9 159.1 104.8 158.4 104.8 157.2 105.2 155.9 106.1 155.7 109.1 155.8 111.7ZM106.6 116.6 107.6 117.7 112.5 121.6 114.0 123.1 114.7 125.2 116.0 130.0 118.3 135.9 119.1 137.2 120.3 138.6 121.5 139.6 121.7 139.7 122.1 139.6 122.9 138.6 123.1 137.5 122.0 125.4 121.5 122.8 120.1 119.8 119.2 118.4 114.4 114.9 113.6 113.4 112.3 110.2 111.1 108.6 110.1 107.8 108.7 108.6 107.2 110.1 106.6 114.7ZM135.0 134.2 135.7 136.3 136.5 137.6 149.6 147.4 152.5 149.9 153.0 148.6 153.5 146.4 153.3 144.1 152.9 141.9 151.7 139.9 150.2 138.0 146.2 134.0 142.8 129.9 140.7 128.8 139.9 128.7 139.5 129.0 135.9 131.9 135.2 133.1ZM151.8 132.1 153.2 135.4 155.0 141.4 155.9 146.9 157.5 150.3 158.9 151.5 161.6 152.9 162.5 152.8 164.2 152.2 164.6 151.9 165.0 150.9 165.3 149.8 165.1 149.1 163.1 145.4 159.6 141.3 159.0 139.1 158.9 136.7 161.2 132.1 160.9 130.4 160.4 128.9 158.9 127.8 157.3 126.9 155.4 127.0 153.7 127.3 152.6 128.4 151.8 129.7ZM105.2 135.4 106.3 136.9 114.7 146.7 116.4 148.4 118.7 150.1 119.6 150.5 121.2 149.9 122.2 149.1 122.4 148.7 122.3 148.1 121.2 145.4 116.5 141.4 113.6 138.6 108.5 132.7 107.1 132.8 105.8 133.3 105.3 134.3ZM131.4 160.0 131.6 164.2 132.4 165.5 133.1 166.1 135.4 164.1 136.5 161.9 137.0 160.4 137.3 157.3 136.5 154.5 135.9 153.4 135.1 153.1 134.0 153.0 132.3 155.0 131.5 156.5ZM140.7 158.1 139.7 165.2 138.1 168.8 138.0 169.6 138.3 171.1 138.9 172.8 140.3 173.7 141.5 174.0 142.0 173.8 142.4 173.2 144.8 170.1 150.2 164.8 151.6 162.1 151.9 160.4 151.0 156.7 150.0 155.1 147.7 153.0 145.0 152.1 143.7 152.2 141.9 153.7 141.3 155.1ZM158.3 164.0 157.8 163.4 156.9 163.1 156.0 163.2 155.3 163.7 154.9 164.4 154.8 165.3 154.9 166.2 155.5 167.1 156.2 167.5 156.9 167.5 157.6 167.3 158.1 166.9 158.6 165.5ZM129.2 182.3 128.4 181.9 127.3 181.9 126.4 182.2 126.1 182.6 126.8 183.2 128.1 183.3 129.2 182.9 129.3 182.6ZM143.2 183.4 142.4 181.9 141.5 180.9 140.4 180.1 139.1 179.5 137.9 179.2 136.5 179.2 135.7 179.6 135.2 180.4 135.2 181.8 136.0 183.3 137.6 184.9 139.3 185.7 140.9 186.1 142.5 185.8 143.2 184.8ZM145.3 197.8 144.6 195.7 143.7 194.4 142.5 193.2 141.0 192.2 139.6 191.5 137.8 191.2 136.8 191.3 135.9 192.0 135.7 192.9 135.7 193.6 136.4 195.3 138.1 197.4 140.0 198.8 142.4 199.8 143.2 199.8 144.2 199.7 144.7 199.4 145.2 198.7ZM162.5 194.8 161.4 193.2 160.8 192.9 160.4 193.1 160.1 194.2 160.0 195.4 160.3 197.5 160.7 199.2 161.9 202.0 162.8 203.2 163.4 203.5 163.9 203.1 164.1 202.2 164.1 200.0 163.5 197.2ZM118.1 197.7 116.8 197.0 115.4 197.0 114.3 197.8 113.7 199.3 113.9 201.3 114.6 202.9 116.0 204.3 117.6 204.9 118.4 204.8 119.4 204.3 119.8 203.5 120.1 202.5 120.0 200.9 119.6 199.7 118.9 198.6ZM123.0 195.7 124.5 197.5 129.4 202.5 132.1 206.6 134.4 209.2 135.1 209.6 136.3 210.0 137.4 210.2 137.7 210.0 138.8 208.5 139.0 207.6 138.9 207.3 136.7 203.9 133.3 200.4 128.6 196.5 125.4 192.9 124.3 193.2 123.3 193.8 123.0 194.7ZM108.7 200.2 107.9 199.1 107.1 199.0 106.5 199.8 106.1 201.4 106.1 203.0 106.5 205.0 107.2 206.4 107.9 206.8 108.4 206.7 108.8 206.2 109.3 204.4 109.3 202.3ZM109.8 222.2 109.3 221.7 108.7 221.6 108.0 221.6 107.5 221.9 107.0 222.4 106.9 223.0 106.9 223.7 107.2 224.2 107.7 224.7 108.3 224.8 109.0 224.8 109.5 224.5 110.0 224.0 110.1 223.4 110.1 222.7ZM169.2 41.5 168.1 40.8 167.2 40.8 166.4 41.4 166.0 42.6 166.2 44.1 166.7 45.2 167.7 46.3 168.7 46.6 169.4 46.5 169.9 46.1 170.4 44.8 170.1 43.0ZM211.4 46.6 212.6 48.8 213.0 50.1 211.8 54.1 212.1 58.2 212.6 60.8 214.3 65.3 215.2 66.0 216.5 66.8 217.6 67.0 219.3 66.0 220.2 65.3 222.0 61.7 222.6 59.5 222.6 57.6 222.2 54.9 219.5 48.1 218.8 41.5 217.6 40.0 216.3 39.2 215.0 39.7 214.3 40.3 211.7 44.8 211.4 45.8ZM202.9 54.8 202.2 54.2 201.5 53.9 200.8 53.9 199.8 54.0 199.2 54.3 198.6 55.0 198.4 55.7 198.4 56.5 199.0 57.3 199.8 57.8 200.8 57.9 201.8 57.8 202.6 57.3 203.2 56.5 203.2 55.5ZM187.7 56.8 186.8 56.4 185.8 56.4 184.8 56.7 184.4 57.2 184.7 57.6 185.2 57.9 186.6 58.0 187.9 57.5 188.0 57.2ZM172.0 55.5 170.3 56.1 168.8 57.4 167.9 58.9 167.9 59.7 168.1 60.1 168.8 60.3 170.1 60.0 171.2 59.3 172.2 58.4 172.9 57.4 173.2 56.3 172.8 55.7ZM195.0 57.2 194.5 56.6 193.8 56.3 193.0 56.4 192.3 57.1 191.9 58.1 191.9 59.1 192.2 60.0 192.8 60.7 193.9 60.9 194.9 60.1 195.3 58.6ZM179.9 64.8 178.9 64.0 177.9 63.7 176.7 63.6 175.2 63.8 174.2 64.2 173.3 65.1 172.9 65.8 172.9 66.8 173.7 68.0 174.8 68.7 176.7 69.0 178.2 68.8 179.5 68.2 180.4 67.1 180.5 65.8ZM190.6 65.2 189.9 64.6 189.2 64.3 188.5 64.3 187.5 64.4 186.9 64.7 186.3 65.4 186.1 66.1 186.1 66.9 186.7 67.7 187.5 68.2 188.5 68.3 189.5 68.2 190.3 67.7 190.9 66.9 190.9 65.9ZM199.5 68.9 200.9 73.4 202.4 74.9 203.8 75.8 205.5 74.9 207.4 73.3 208.5 71.5 209.2 69.6 208.9 67.7 208.1 65.9 206.3 64.1 204.3 62.7 201.7 63.1 199.4 64.0 199.2 65.8ZM190.3 92.1 193.9 93.2 196.6 96.0 199.4 97.2 199.8 97.1 200.6 96.3 201.5 95.0 201.4 92.8 201.0 90.8 199.9 89.9 198.8 89.4 198.1 89.4 194.0 90.5 192.5 90.1 190.3 89.1 189.5 89.2 188.8 89.7 189.5 91.3ZM228.8 96.9 228.6 98.8 228.8 99.9 229.0 98.4ZM210.2 106.6 209.8 104.9 208.9 104.0 207.6 103.9 206.1 104.7 204.8 106.3 204.2 108.0 204.1 110.0 204.7 111.4 205.5 111.9 206.3 112.0 207.2 111.7 208.1 111.1 208.9 110.2 209.6 109.1 210.0 107.8ZM177.3 123.3 176.6 122.6 175.8 122.3 175.0 122.3 174.2 122.6 173.5 123.3 173.2 124.1 173.2 124.9 173.5 125.7 174.2 126.4 175.0 126.7 175.8 126.7 176.6 126.4 177.3 125.7 177.6 124.9 177.6 124.1ZM200.5 127.5 203.4 129.7 207.9 132.1 212.0 133.5 215.3 134.4 218.0 134.4 220.4 134.0 222.0 132.7 223.1 131.3 222.8 129.8 222.4 129.3 222.0 129.1 212.2 127.3 211.2 126.4 207.2 122.2 206.3 121.5 205.8 121.4 204.1 121.3 201.9 121.5 200.1 122.5 199.1 123.4 198.9 123.8 199.3 125.3 199.9 126.7ZM183.0 139.9 182.2 138.4 181.0 137.6 179.4 137.8 178.2 138.5 177.0 140.2 176.5 141.9 176.6 143.5 177.4 145.0 178.1 145.6 179.2 145.8 180.5 145.5 181.4 144.9 182.2 143.9 182.8 142.8 183.1 141.5ZM197.6 151.5 196.9 150.1 196.3 149.7 195.8 149.6 194.8 150.1 193.8 151.5 193.4 153.6 193.4 155.3 194.0 157.1 194.9 157.9 195.6 158.0 196.2 157.7 196.8 157.0 197.4 156.1 197.8 154.0ZM182.1 153.5 184.7 163.5 185.7 166.5 186.1 166.8 187.3 167.2 188.4 167.3 189.0 167.1 190.0 166.3 191.1 164.9 191.2 163.2 191.1 161.1 189.1 155.4 187.8 153.2 186.6 151.5 185.1 151.1 183.7 151.0 182.4 152.3 182.1 153.1ZM171.5 160.8 175.8 168.0 177.6 169.2 179.4 169.9 180.0 169.6 181.0 168.6 181.6 167.6 181.7 166.9 182.0 162.9 182.0 161.2 179.2 160.4 176.5 157.0 173.6 154.5 172.8 153.8 172.0 153.5 171.0 153.8 170.1 154.6 170.6 157.5ZM168.2 165.0 167.4 164.2 166.2 163.9 165.0 164.2 164.2 165.0 163.6 166.4 163.6 167.8 164.0 168.9 165.0 170.0 165.7 170.3 166.7 170.3 167.6 169.8 168.2 169.2 168.7 168.1 168.8 167.1 168.7 166.1ZM201.3 173.5 204.8 181.6 205.3 181.9 206.1 182.2 206.9 180.6 207.7 178.5 208.0 173.9 207.5 171.8 206.1 168.8 204.6 168.0 203.2 167.7 201.9 168.3 201.1 169.1 200.9 169.6 200.9 171.0ZM177.6 196.7 178.4 198.8 179.3 200.6 181.5 202.9 182.2 203.1 183.9 202.5 185.5 200.4 186.2 197.8 186.4 195.6 185.5 193.2 184.4 191.1 181.9 189.6 180.3 189.3 178.0 189.8 177.2 190.4 177.2 193.3ZM211.8 191.5 211.4 197.5 211.8 200.2 212.4 202.7 213.6 204.5 214.9 205.8 216.0 206.0 216.8 206.0 217.3 205.0 217.9 203.4 218.0 202.2 217.9 201.7 216.1 197.8 213.4 194.3 212.1 188.5 211.7 189.1ZM167.0 195.9 168.2 200.2 169.3 202.1 171.3 204.5 172.6 204.1 173.0 203.7 173.1 203.4 173.5 199.7 172.9 194.8 172.2 192.7 171.2 191.3 169.8 190.0 168.6 190.4 167.5 191.3 167.1 193.4ZM205.9 199.2 205.3 198.3 204.8 198.0 204.4 199.1 204.2 201.0 204.4 202.8 204.9 204.5 205.4 205.7 206.1 206.4 206.6 205.3 206.8 203.4 206.5 201.2ZM184.2 208.7 184.9 211.5 186.4 213.4 187.3 213.9 189.1 213.6 189.8 213.3 190.9 211.5 191.7 209.6 191.4 208.4 190.5 207.3 187.9 205.9 186.3 205.4 183.9 205.3Z" fill="#c28585"/><path d="M200.2 124.0 201.1 126.5 202.9 128.0 207.5 130.5 211.1 131.9 215.4 133.2 217.9 133.2 219.9 132.9 221.9 131.0 221.7 130.3 213.7 128.9 211.7 128.4 210.3 127.3 205.8 122.6 204.1 122.5 202.2 122.7ZM212.6 46.2 214.0 48.9 214.2 50.0 214.1 51.1 213.0 54.3 213.6 59.8 214.4 62.5 215.3 64.6 217.3 65.8 218.6 65.1 219.5 64.1 221.2 60.4 221.4 58.6 221.0 55.3 218.3 48.4 217.6 41.9 216.3 40.4 215.4 40.9 215.0 41.4 213.0 44.8ZM212.7 195.5 212.7 198.0 213.5 202.2 215.4 204.7 216.1 204.8 216.8 202.6 216.5 201.4 215.1 198.4ZM209.0 106.6 208.8 105.4 208.3 105.0 207.4 105.3 206.5 106.1 205.7 107.2 205.3 108.6 205.3 109.8 205.6 110.7 206.0 110.8 206.6 110.6 207.7 109.7 208.6 108.2ZM200.4 64.8 200.5 68.0 201.4 71.6 202.1 73.1 203.8 74.5 205.6 73.4 206.7 72.2 208.0 69.6 207.7 68.1 207.2 66.9 206.8 66.3 204.2 64.0 203.0 64.0ZM202.1 169.8 202.3 172.8 205.6 180.5 206.5 178.2 206.7 176.8 206.8 174.0 206.4 172.2 205.1 169.5 203.3 168.9ZM201.9 55.5 201.4 55.1 200.5 55.1 199.8 55.5 199.6 56.0 200.1 56.6 201.1 56.7 202.0 56.2ZM190.4 90.5 190.7 91.0 194.5 92.2 197.3 95.0 198.7 95.7 199.3 96.0 200.2 94.7 200.2 92.9 200.0 91.4 198.9 90.7 198.3 90.6 195.1 91.6 194.0 91.7 192.9 91.5ZM195.3 156.8 195.8 156.3 196.2 155.6 196.6 153.9 196.5 152.1 196.3 151.3 195.9 150.8 195.4 151.3 195.0 152.0 194.6 153.7 194.7 155.5 194.9 156.3ZM194.0 57.8 193.6 57.5 193.1 58.2 193.1 59.2 193.6 59.7 194.1 59.0ZM185.1 206.5 185.6 209.3 186.1 211.2 187.5 212.7 189.0 212.4 190.5 209.6 190.1 208.6 189.5 208.1 187.4 207.0 186.4 206.6ZM183.3 153.2 186.6 165.6 187.0 165.8 188.4 166.1 190.0 164.4 190.0 163.2 189.7 160.8 188.3 156.6 187.3 154.7 185.8 152.5 184.1 152.2ZM189.6 65.9 189.1 65.5 188.2 65.5 187.5 65.9 187.3 66.4 187.8 67.0 188.8 67.1 189.7 66.6ZM178.3 191.0 178.8 196.4 179.8 199.0 180.5 200.2 182.1 201.9 183.1 201.5 184.4 199.8 185.0 197.6 185.2 195.7 184.4 193.7 183.5 191.9 181.4 190.7 180.4 190.5ZM181.8 140.2 181.3 139.2 180.6 138.8 179.7 139.0 178.6 139.9 178.0 141.0 177.7 142.3 177.9 143.5 178.4 144.3 178.9 144.6 179.5 144.6 180.4 144.2 181.0 143.5 181.7 142.0ZM171.3 155.0 172.4 159.7 173.2 161.5 176.5 167.0 177.5 167.7 179.2 168.6 180.4 167.2 180.8 162.1 179.5 161.9 178.5 161.4 176.1 158.4 173.8 156.2 172.0 154.7ZM179.0 65.6 177.9 64.9 176.1 64.8 174.6 65.4 174.2 65.9 174.1 66.4 174.5 67.1 175.3 67.6 176.4 67.8 177.3 67.8 178.4 67.5 179.0 67.0 179.3 66.3ZM176.3 123.9 175.6 123.5 174.8 123.6 174.4 124.3 174.5 125.1 175.2 125.5 176.0 125.4 176.4 124.7ZM169.2 59.0 170.7 58.2 171.8 56.8 170.3 57.6ZM168.2 195.8 168.8 198.0 169.6 200.2 171.7 203.2 171.9 203.1 172.0 202.4 172.3 199.7 171.7 195.1 171.2 193.3 169.5 191.3 168.5 192.0ZM168.3 42.3 167.9 42.0 167.5 42.0 167.3 42.6 167.2 43.3 167.8 44.8 168.3 45.3 168.8 45.4 169.1 45.0 169.2 44.1 168.9 43.2ZM167.2 165.7 166.7 165.2 166.1 165.1 165.5 165.3 165.0 166.0 164.8 166.9 164.8 167.8 165.3 168.7 165.9 169.1 166.8 169.0 167.4 168.2 167.6 166.9ZM153.0 131.8 154.3 135.0 155.4 138.4 156.4 142.0 157.1 146.6 158.2 149.1 158.9 150.1 161.6 151.6 162.3 151.6 163.6 151.2 164.1 149.7 163.7 148.9 162.1 146.1 158.6 141.9 157.8 139.3 157.6 137.5 157.7 136.4 160.0 131.9 159.5 129.8 158.3 128.8 157.0 128.1 154.3 128.3 153.0 130.1ZM161.2 194.9 161.3 196.3 161.7 198.3 162.3 200.2 163.0 201.5 162.9 200.1 162.5 198.1 161.9 196.2ZM157.0 106.7 157.0 110.4 157.3 112.9 158.7 116.6 160.1 118.6 161.3 117.5 162.0 116.4 162.2 113.4 161.8 111.1 161.1 108.8 160.4 107.2 158.6 106.0ZM157.3 164.6 156.6 164.3 156.1 164.7 156.0 165.7 156.5 166.3 156.9 166.3 157.3 165.9 157.4 165.3ZM152.7 83.0 153.0 83.7 153.7 84.3 154.6 84.6 155.3 84.6 155.0 83.9 154.3 83.3 153.4 83.0ZM136.2 134.1 136.8 135.8 137.4 136.7 148.8 145.2 151.9 147.8 152.3 146.3 152.2 145.1 151.9 142.7 151.6 142.0 149.3 138.7 145.3 134.8 142.1 130.9 140.9 130.2 140.1 130.0 136.8 132.7ZM148.1 50.1 148.1 54.0 148.5 56.5 150.1 61.4 151.4 62.8 151.8 61.9 152.1 57.0 151.8 52.8 151.4 50.0 150.2 48.5 148.4 49.4ZM141.3 172.7 143.9 169.3 149.2 164.0 150.2 162.3 150.7 160.9 150.2 157.9 149.5 156.4 147.1 154.0 144.8 153.3 144.3 153.2 144.0 153.4 142.7 154.9 141.9 158.3 140.9 165.5 139.2 169.3 139.9 172.1ZM137.7 92.2 139.4 95.7 141.9 101.7 142.4 103.9 142.8 108.9 143.0 109.5 143.6 110.3 144.7 108.5 145.2 107.3 146.1 103.5 146.2 102.1 143.7 98.7 138.9 90.9 138.1 91.2ZM136.3 55.0 136.1 60.0 137.0 63.4 138.1 66.9 139.9 70.3 141.9 73.3 143.7 74.9 144.9 75.7 145.8 75.0 145.4 70.8 143.3 61.9 142.1 56.0 141.7 54.9 140.6 52.9 140.4 52.6 140.0 52.6 137.6 53.0 136.7 54.0ZM145.5 86.3 145.3 86.9 145.5 87.5 145.7 86.9ZM144.0 197.3 143.6 196.3 142.8 195.2 140.9 193.5 139.6 192.8 138.4 192.4 137.5 192.4 137.0 192.6 137.0 193.7 137.7 195.1 138.9 196.6 140.1 197.5 141.8 198.4 143.2 198.6 144.0 198.4ZM142.0 183.7 141.0 182.1 139.4 180.9 137.4 180.3 136.8 180.4 136.4 180.7 136.4 181.5 136.9 182.5 138.0 183.6 139.0 184.3 140.4 184.8 141.4 184.8 142.0 184.5ZM124.2 195.3 130.3 201.8 133.1 205.9 134.8 207.9 135.5 208.5 137.1 209.0 137.8 207.7 136.1 205.2 134.7 203.5 131.9 200.8 127.8 197.4 125.0 194.2 124.3 194.5ZM132.6 160.0 132.7 163.6 133.2 164.5 134.6 163.1 135.8 160.2 136.1 157.4 135.6 155.6 135.1 154.4 134.5 154.2 132.7 156.5ZM130.0 52.0 130.8 51.5 131.5 50.8 132.0 49.8 132.2 49.0 131.4 49.5 130.7 50.2 130.2 51.2ZM107.8 116.3 113.3 120.7 115.0 122.4 115.9 124.8 117.2 129.7 118.9 134.3 120.0 136.4 121.7 138.3 121.8 136.2 120.8 125.5 120.4 123.2 119.6 121.3 118.3 119.2 114.4 116.5 113.4 115.6 112.5 113.9 111.3 110.8 109.9 109.2 108.3 110.6 107.9 113.5ZM106.4 135.1 116.7 147.1 119.7 149.3 121.1 148.5 120.2 146.2 115.7 142.3 112.8 139.4 108.1 133.9 106.6 134.2ZM117.3 198.6 116.3 198.1 115.5 198.2 115.0 199.0 114.9 200.4 115.3 201.6 116.1 202.8 116.9 203.5 118.0 203.7 118.4 203.5 118.7 203.0 118.9 201.4 118.3 199.9ZM110.5 88.1 110.6 90.2 111.1 91.9 112.1 94.4 113.1 95.9 115.8 90.6 115.6 88.1 113.0 87.3ZM87.8 138.1 88.4 141.8 89.8 144.2 93.7 146.3 97.5 148.7 98.8 150.0 101.2 153.8 103.8 154.0 104.8 154.3 107.8 156.8 109.5 156.0 110.1 154.7 110.3 153.6 107.5 150.3 103.6 146.4 99.2 143.4 95.6 142.9 94.7 142.6 93.9 142.0 90.7 138.6 89.3 135.6 88.5 135.6 88.0 137.0ZM108.8 222.9 108.5 222.8 108.2 222.9 108.1 223.2 108.2 223.5 108.5 223.6 108.8 223.5 108.9 223.2ZM107.5 200.5 107.3 201.6 107.3 202.9 107.5 204.3 107.9 205.3 108.1 204.2 108.1 202.9 107.9 201.5ZM96.6 121.2 97.1 125.1 97.6 126.8 98.6 128.7 100.0 128.7 101.7 126.0 101.8 124.2 101.5 120.4 100.7 118.6 99.8 117.3 98.5 117.0 97.0 118.0 96.6 119.7ZM98.2 39.0 97.2 38.8 96.5 39.1 96.2 40.0 96.3 40.9 96.8 41.8 97.6 42.6 98.7 43.2 99.5 43.1 99.9 42.9 100.2 42.4 100.1 41.1 99.5 39.9ZM77.2 164.6 79.2 167.2 82.6 170.0 84.6 172.0 87.4 175.4 90.5 179.8 93.7 182.5 95.8 183.4 96.1 183.3 96.6 182.3 97.1 177.2 96.6 167.8 96.4 166.0 95.9 164.5 93.6 164.6 89.1 168.7 88.1 169.4 86.9 169.7 84.4 169.3 82.8 168.4 82.1 167.4 80.2 163.8 78.5 163.8ZM94.7 55.0 94.0 53.9 92.7 53.0 91.1 52.5 90.1 52.8 90.2 53.4 90.7 54.1 92.1 55.2 94.0 55.7 94.7 55.5ZM78.9 92.5 81.3 93.6 82.6 94.6 83.2 95.6 84.2 98.9 85.5 100.5 86.6 101.5 88.6 101.4 90.6 101.0 91.7 99.8 92.4 98.6 92.2 96.8 90.2 89.9 89.7 88.7 88.6 88.0 87.1 87.6 83.9 88.5 80.6 91.5ZM58.7 164.9 59.7 167.1 61.1 169.5 62.5 171.4 65.4 174.9 66.3 176.3 68.2 180.8 68.7 184.7 71.0 188.2 75.4 190.9 86.3 196.0 87.2 196.7 89.6 199.3 90.4 199.8 91.7 195.5 91.3 194.6 90.7 193.7 90.2 193.4 83.5 191.0 81.1 189.9 79.9 189.1 79.0 188.2 78.8 186.9 79.1 185.5 80.2 182.7 79.5 181.8 79.0 181.4 75.2 180.6 74.0 179.8 73.2 178.7 71.9 174.6 71.3 173.6 68.0 169.6 65.7 167.7 60.7 163.8 58.9 164.4ZM89.0 223.4 89.4 223.5 89.8 223.4 89.4 223.3ZM81.4 115.0 80.8 114.3 80.1 114.2 79.5 114.4 78.9 115.2 78.7 116.1 78.7 117.1 79.1 118.0 79.7 118.5 80.7 118.5 81.5 117.6 81.7 116.4ZM80.2 203.3 79.7 202.9 78.9 202.9 78.4 203.2 78.3 203.7 78.7 204.2 79.7 204.3 80.3 203.9ZM68.7 67.5 69.3 68.7 69.8 68.9 72.7 69.4 76.6 69.5 73.2 68.0 71.0 66.4ZM72.6 79.4 72.1 78.8 71.3 78.3 70.3 78.2 69.8 78.5 70.1 79.2 71.1 79.9 72.3 79.9 72.6 79.8ZM69.6 196.4 69.6 197.8 70.1 200.9 71.2 202.5 71.8 202.3 72.2 200.6 70.4 198.4ZM69.7 125.2 69.3 125.0 68.9 125.0 68.7 125.4 68.7 125.8 69.1 126.0 69.5 126.0 69.7 125.6ZM69.0 117.5 68.8 117.5 68.6 117.6 68.7 118.1 69.0 118.0ZM59.6 61.1 59.4 60.7 58.9 60.3 58.4 60.3 58.0 60.5 58.2 61.0 58.7 61.5 59.3 61.5ZM49.9 211.6 50.4 214.4 50.6 214.8 51.3 214.8 51.8 213.5 51.5 211.5 50.5 211.2ZM51.3 59.0 50.3 58.1 48.9 57.5 47.2 57.5 46.6 57.8 46.3 58.2 46.6 58.7 47.2 59.4 48.9 60.1 50.1 60.1 51.0 59.9 51.4 59.5ZM49.3 50.6 49.3 50.7 49.3 50.8 49.3 50.7ZM42.2 48.5 41.8 48.0 41.1 48.4 40.8 49.1 41.0 49.9 41.4 50.0 41.9 49.6 42.1 49.1Z" fill="#b67171" filter="url(#bl3)"/><path d="M201.6 124.4 202.1 125.8 203.6 127.0 206.0 128.4 209.6 130.2 215.6 132.0 219.4 131.8 220.1 131.2 213.5 130.1 211.2 129.5 209.5 128.2 205.4 123.8 202.7 123.8ZM213.8 46.0 215.1 48.5 215.4 49.9 215.3 51.4 214.2 54.4 214.7 58.9 215.2 61.1 216.2 63.7 217.3 64.5 218.3 63.8 218.9 62.8 220.1 60.0 220.2 58.7 219.8 55.6 217.1 48.6 216.5 42.5 216.1 41.9ZM214.1 199.0 214.6 201.7 215.5 203.0 215.6 202.4ZM206.4 109.4 207.4 108.0 207.8 106.4 206.8 107.8ZM203.5 170.2 203.2 170.4 203.5 172.4 205.5 176.9 205.6 174.8 205.5 173.3 204.3 170.5ZM201.6 65.6 201.7 67.9 202.6 71.2 202.9 72.2 203.9 73.1 205.4 72.0 206.0 71.1 206.8 69.4 206.6 68.5 205.9 67.1 203.7 65.2ZM196.6 92.4 198.0 93.9 199.0 94.5 199.1 93.9 198.9 92.1 198.4 91.8ZM186.5 207.9 187.1 210.4 187.9 211.4 188.3 211.4 189.2 209.5 188.9 209.1ZM184.6 153.4 187.4 164.1 187.6 164.8 188.0 164.8 188.8 164.0 188.6 161.1 186.7 156.0 185.1 153.5ZM179.5 191.9 180.1 196.6 181.3 199.3 182.4 200.5 183.4 199.1 183.9 196.7 183.9 195.7 182.6 192.7 180.5 191.7ZM172.9 157.0 173.9 160.3 177.2 165.9 177.6 166.4 179.0 167.2 179.3 166.5 179.6 163.1 178.3 162.7 177.5 162.2 175.2 159.2ZM179.2 143.4 179.9 143.0 180.5 142.0 180.7 140.8 180.4 140.0 179.7 140.4 179.1 141.4 178.9 142.6ZM175.4 66.3 176.7 66.6 178.0 66.3 176.7 66.0ZM169.4 195.7 170.2 198.6 171.0 200.3 171.0 198.5 170.5 195.3 170.3 194.2 169.6 193.1ZM166.2 166.3 166.0 167.1 166.2 167.9 166.4 167.1ZM154.1 130.5 154.2 131.5 155.5 134.6 156.4 137.6 156.5 136.3 156.8 135.3 158.7 131.7 158.5 130.6 158.1 130.2 156.7 129.3 154.8 129.5ZM157.8 142.8 158.2 146.3 159.5 149.0 162.0 150.4 162.7 150.3 162.8 149.8 161.1 146.8ZM158.2 107.4 158.3 112.1 159.1 114.4 160.2 116.9 160.8 116.1 160.9 115.6 161.0 113.4 160.9 112.4 159.6 108.1 158.5 107.3ZM137.4 134.1 138.1 135.7 138.6 136.2 151.0 145.4 150.6 142.8 149.7 141.3 148.0 139.1 144.4 135.6 141.3 131.8 140.4 131.3 138.0 133.2ZM149.3 50.3 149.5 55.6 150.8 59.7 150.8 55.3 150.3 50.4 149.9 49.9ZM140.4 169.5 140.9 171.3 143.0 168.5 148.3 163.3 149.4 161.2 149.5 160.8 149.4 160.0 148.7 157.3 147.7 156.1 146.4 155.0 144.6 154.5 143.8 155.3 143.1 158.5 142.1 165.8ZM137.5 55.2 137.3 59.8 138.9 65.6 140.2 68.4 142.4 72.0 143.1 72.9 144.6 74.1 144.1 70.1 142.1 62.2 140.8 55.8 139.8 53.8 138.2 54.1ZM141.2 96.7 143.4 102.5 143.9 107.5 145.0 102.3 142.8 99.5ZM138.2 193.6 138.9 194.7 140.1 196.0 141.5 197.0 142.8 197.4 142.1 196.3 140.9 195.0 139.5 194.0ZM137.7 181.6 139.0 182.9 140.7 183.6 139.4 182.3ZM133.0 203.5 134.8 206.0 136.3 207.5 134.8 205.5ZM133.8 162.0 134.6 160.2 134.8 158.8 134.9 157.5 134.5 156.1 133.9 157.0 133.8 157.4ZM109.0 115.8 114.1 119.8 116.0 121.9 117.0 124.5 118.3 129.3 120.4 134.7 119.5 124.7 118.9 122.8 117.4 120.0 113.6 117.4 112.4 116.3 111.4 114.4 110.4 111.6 109.8 110.8 109.4 111.3ZM114.8 143.1 117.5 146.2 119.7 147.9 119.0 146.7ZM116.2 199.3 116.1 200.2 116.4 201.1 116.9 202.0 117.6 202.5 117.7 201.6 117.4 200.7 116.9 199.8ZM111.7 88.9 112.0 90.8 113.0 93.4 114.6 90.5 114.5 89.0 113.0 88.5ZM89.0 137.9 89.5 141.4 90.7 143.5 94.3 145.3 98.3 147.8 99.7 149.3 101.9 152.6 105.0 153.1 106.2 153.9 108.0 155.4 108.6 155.2 109.0 153.7 106.2 150.6 102.8 147.3 98.7 144.5 95.4 144.1 93.8 143.4 92.4 142.2 90.3 140.0ZM97.8 121.2 98.3 125.3 99.4 127.6 100.5 125.5 100.6 124.2 100.3 120.7 99.1 118.3 98.7 118.3 98.0 118.7ZM97.4 40.0 97.5 40.7 97.9 41.3 98.4 41.8 99.0 42.0 98.9 41.3 98.5 40.7 98.0 40.2ZM78.9 164.9 79.7 166.0 80.3 166.6 79.4 164.9ZM85.0 170.7 88.3 174.7 91.0 178.6 94.0 181.3 95.5 182.0 95.9 177.2 95.5 169.7 95.0 165.6 94.0 165.8 90.0 169.5 88.8 170.4 87.0 170.9ZM60.1 165.2 61.0 167.0 62.7 169.6 66.3 174.1 67.3 175.7 69.3 180.5 69.9 184.2 71.9 187.3 74.1 188.8 76.8 190.3 86.9 195.0 88.0 195.9 89.9 197.8 90.5 195.6 89.8 194.5 85.0 192.9 81.8 191.5 79.5 190.3 78.5 189.4 77.8 188.3 77.6 186.6 78.0 185.0 78.9 182.9 78.6 182.5 74.7 181.7 73.2 180.7 72.1 179.2 70.6 174.6 69.1 172.7 67.1 170.5 65.8 169.3 60.9 165.4 60.5 165.1ZM81.5 92.3 82.7 93.0 83.7 94.0 84.3 95.1 85.3 98.3 87.0 100.3 89.3 100.1 90.0 99.9 90.3 99.6 91.2 98.1 90.3 94.4 88.7 89.5 87.3 88.8 84.7 89.5ZM80.2 115.4 79.9 116.4 80.2 117.4 80.5 116.4ZM70.8 67.8 70.8 67.8 71.0 67.9ZM48.4 58.7 48.9 58.8 49.4 58.9 48.9 58.8Z" fill="#aa5e5e" filter="url(#bl3)"/><path d="M203.5 125.2 205.4 126.5 206.8 127.3 204.8 125.1ZM216.7 51.5 215.6 54.6 216.1 59.2 217.3 62.7 218.8 59.5 218.8 58.7 218.5 55.9ZM203.0 66.7 203.2 68.1 204.1 71.2 204.5 70.8 205.4 69.3 204.9 68.0 203.4 66.6ZM181.0 193.4 181.4 195.9 182.2 198.1 182.6 196.1 181.5 193.7ZM177.7 164.0 177.8 164.1 178.1 164.7 178.2 164.2ZM155.6 130.8 155.5 131.1 156.4 133.1 157.3 131.5 157.2 131.2 156.4 130.7ZM138.9 134.2 139.5 135.1 148.0 141.4 147.0 140.1 143.4 136.5 140.5 132.9ZM143.4 166.1 147.2 162.4 148.1 160.6 147.4 158.0 145.8 156.3 145.0 156.0ZM139.0 55.3 138.7 59.2 139.1 61.3 140.5 65.9 142.6 69.6 140.8 62.5 139.6 56.6ZM97.9 145.8 100.2 147.6 102.7 151.3 105.3 151.8 101.6 148.2 98.2 145.9ZM88.1 172.1 89.5 174.0 92.1 177.7 94.4 179.7 94.5 176.0 94.0 167.7 90.6 170.9 89.4 171.7ZM65.3 170.7 67.9 174.0 69.1 176.1 70.7 180.1 71.2 183.8 71.5 184.3 72.9 186.3 76.4 188.5 76.2 186.4 77.0 183.7 73.9 182.8 72.5 182.0 71.9 181.4 70.8 179.7 69.4 175.3 67.3 172.7ZM83.8 92.1 84.8 93.1 85.4 94.1 86.5 97.7 86.9 98.2 87.5 98.9 89.3 98.6 89.8 98.0 87.6 90.4 87.2 90.2 85.2 90.8Z" fill="#9e4c4c" filter="url(#bl3)"/><path d="M98.6 37.9 97.3 37.6 96.0 38.0 95.2 39.0 95.0 40.5 95.6 42.2 96.5 43.4 97.8 44.1 99.4 44.4 100.2 44.2 101.0 43.5 101.4 42.4 101.4 41.5 101.0 40.1 100.4 39.2 99.6 38.4ZM43.4 48.3 43.1 47.6 42.4 47.0 41.6 46.8 40.9 47.0 40.1 47.8 39.7 48.6 39.6 49.5 39.9 50.4 40.9 51.2 42.1 51.0 43.2 49.8ZM50.3 49.9 49.5 49.4 48.9 49.4 48.5 49.6 48.1 50.2 48.1 50.7 48.4 51.7 49.2 52.0 50.1 51.8 50.5 50.8ZM95.8 54.7 95.3 53.6 94.5 52.7 92.5 51.6 91.4 51.3 90.2 51.4 89.5 51.7 89.0 52.4 89.0 53.5 89.5 54.6 90.9 55.9 92.3 56.6 93.7 56.9 95.1 56.6 95.8 55.8ZM52.4 58.4 51.6 57.4 50.6 56.8 48.4 56.2 47.3 56.3 46.1 56.7 45.4 57.4 45.1 58.2 45.6 59.4 46.5 60.4 47.9 61.1 49.4 61.4 50.9 61.2 52.1 60.6 52.7 59.6ZM60.8 60.9 60.5 60.2 60.0 59.6 58.7 59.1 57.5 59.4 57.0 59.9 56.8 60.5 57.0 61.4 57.4 62.0 58.1 62.5 58.9 62.7 59.6 62.6 60.3 62.3 60.7 61.6ZM67.5 67.8 68.0 68.9 68.6 69.7 71.1 70.4 73.3 70.6 78.0 70.7 78.7 70.6 79.0 69.8 79.0 69.5 78.6 69.2 73.7 67.0 71.2 65.2 69.3 65.8 67.6 66.7ZM73.7 78.9 73.1 78.1 72.5 77.6 71.0 77.0 70.2 77.0 69.3 77.3 68.8 77.8 68.6 78.5 68.8 79.5 69.5 80.3 70.4 80.9 71.4 81.2 72.5 81.2 73.4 80.7 73.8 79.9ZM75.6 92.5 80.7 94.6 81.7 95.4 83.2 99.5 84.6 101.3 86.2 102.7 88.7 102.6 91.2 102.0 92.7 100.4 93.5 99.0 93.6 98.4 93.3 96.5 91.0 88.8 90.3 87.6 88.5 86.6 87.0 86.4 83.8 87.2 82.8 87.8 79.3 91.0ZM62.4 104.4 61.6 103.9 60.7 104.2 60.4 105.2 60.8 106.3 61.6 106.5 62.3 106.2 62.6 105.3ZM98.0 106.5 97.2 106.0 96.4 106.3 96.1 107.2 96.5 108.2 97.2 108.4 97.8 108.1 98.1 107.3ZM82.5 114.4 81.7 113.5 80.5 113.0 79.2 113.2 78.3 113.9 77.6 115.4 77.5 116.7 77.8 118.1 78.7 119.3 79.4 119.7 80.5 119.8 81.5 119.5 82.1 118.9 82.7 117.8 82.9 116.7 82.9 115.7ZM69.9 116.8 68.9 116.3 68.3 116.4 67.8 116.7 67.4 117.8 67.8 118.9 68.8 119.3 69.8 118.9 70.2 117.8ZM95.4 121.3 96.0 125.9 97.7 129.5 97.9 129.7 98.7 129.9 99.9 129.9 100.7 129.7 101.9 128.1 102.8 126.5 103.0 125.9 103.0 124.2 102.7 120.1 101.7 118.1 100.6 116.4 99.5 116.0 98.3 115.8 96.2 117.1 95.8 117.6 95.6 118.8ZM63.6 124.6 63.1 124.3 62.4 124.3 61.9 124.7 61.9 125.2 62.4 125.7 63.2 125.7 63.7 125.2ZM70.7 124.5 70.2 124.0 69.5 123.8 68.9 123.8 68.2 124.0 67.7 124.5 67.5 125.2 67.5 125.8 67.7 126.5 68.2 127.0 68.9 127.2 69.5 127.2 70.2 127.0 70.7 126.5 70.9 125.8 70.9 125.2ZM81.4 134.2 80.9 133.9 80.1 133.9 79.5 134.1 79.3 134.5 79.8 135.0 80.7 135.1 81.5 134.7ZM63.6 136.6 62.7 136.2 61.8 136.2 61.1 136.8 61.0 137.5 61.8 138.2 63.0 138.2 63.8 137.5 63.8 137.0ZM86.6 138.2 87.2 142.2 88.9 145.0 89.6 145.6 93.1 147.3 96.7 149.6 97.8 150.7 100.5 154.7 104.3 155.4 107.5 158.0 109.0 157.7 110.4 156.8 111.4 154.4 111.6 153.3 111.4 152.9 107.9 148.9 104.0 145.2 99.7 142.4 95.9 141.7 94.7 141.1 91.6 137.9 90.1 134.5 88.9 134.4 87.8 134.6 86.8 136.6ZM78.3 168.0 82.9 172.0 86.4 176.2 89.2 180.2 91.1 182.0 93.1 183.5 95.4 184.6 96.3 184.7 97.3 183.8 97.7 183.1 98.0 181.7 98.3 178.2 98.3 175.9 97.7 166.5 97.2 164.5 96.6 163.5 95.0 163.2 93.1 163.5 88.4 167.8 87.6 168.3 86.2 168.5 84.7 168.1 83.6 167.5 80.9 162.8 79.6 162.5 78.1 162.6 76.6 163.5 75.8 164.4 76.7 166.0ZM57.5 165.0 58.4 167.1 59.6 169.3 61.5 172.2 64.4 175.6 65.2 176.9 67.0 181.1 67.6 185.1 68.8 187.1 70.2 189.0 72.0 190.3 74.8 192.0 79.5 194.3 85.7 197.0 89.1 200.5 90.4 201.0 91.1 201.1 92.2 198.5 92.9 195.5 92.7 194.5 91.5 192.9 90.7 192.3 86.6 190.9 82.8 189.4 80.8 188.3 80.2 187.8 80.0 186.7 81.4 182.6 81.1 181.9 79.7 180.4 76.5 179.7 74.8 179.0 74.0 177.3 73.0 174.1 72.3 172.9 68.8 168.8 66.4 166.7 62.4 163.5 61.0 162.6 59.4 162.9 58.0 163.4 57.7 164.1ZM68.3 197.5 69.0 201.3 70.2 203.2 70.9 203.7 71.8 203.6 72.8 203.2 73.2 201.9 73.4 200.3 71.4 197.8 70.2 194.6 68.6 195.1ZM81.2 202.5 80.6 202.0 79.7 201.7 78.2 201.9 77.7 202.2 77.2 202.9 77.1 203.6 77.2 204.3 77.8 205.1 78.6 205.5 79.5 205.5 80.4 205.3 81.1 204.8 81.5 204.1 81.5 203.2ZM82.2 210.7 81.5 210.3 80.7 210.4 80.3 211.1 80.4 211.9 81.1 212.3 81.9 212.2 82.3 211.5ZM49.0 214.3 49.9 215.9 51.0 216.0 52.0 215.9 52.6 215.0 53.0 213.6 52.9 212.0 52.5 210.7 51.4 210.2 50.3 210.0 49.1 210.8 48.7 211.4ZM90.8 222.7 89.9 222.1 88.7 222.2 87.9 222.8 87.8 223.8 88.2 224.3 88.7 224.6 90.1 224.6 90.6 224.3 91.0 223.8 91.0 223.2ZM133.3 49.4 133.3 48.3 132.7 47.7 131.8 47.8 130.6 48.6 129.7 49.6 129.0 51.0 128.8 52.1 129.1 53.0 129.5 53.3 130.2 53.3 131.6 52.4 132.6 51.2ZM146.8 50.8 147.1 56.0 148.0 59.1 149.4 62.4 150.3 63.5 151.4 64.3 152.7 63.1 153.1 61.0 153.2 55.2 152.6 49.6 151.6 48.1 150.7 47.4 150.3 47.3 148.5 48.0 147.5 48.6 147.0 49.4ZM123.3 57.0 124.6 57.1 125.7 56.8 124.3 56.5 122.9 56.8ZM158.1 57.4 157.9 60.2 158.1 61.6 158.5 62.5 159.0 61.4 159.1 59.5 159.0 57.6 158.5 56.5ZM111.0 62.7 110.3 62.2 109.3 62.2 108.6 62.7 108.4 63.4 109.1 64.1 110.3 64.2 111.2 63.6 111.2 63.1ZM135.1 54.9 134.9 58.2 134.9 60.1 135.8 63.7 137.0 67.4 138.9 70.9 140.9 74.0 142.1 75.2 144.3 76.8 144.7 76.9 145.4 76.8 146.4 76.1 147.0 75.5 146.8 71.7 146.2 68.7 144.5 61.6 143.3 55.7 142.8 54.4 141.2 51.7 140.9 51.5 139.9 51.4 137.6 51.8 136.8 52.1 135.7 53.4ZM156.4 84.0 155.9 83.2 155.3 82.6 153.8 81.9 153.1 81.8 152.2 81.9 151.8 82.2 151.5 82.7 151.6 83.6 152.1 84.4 153.1 85.3 154.2 85.7 155.2 85.8 156.1 85.5 156.5 84.9ZM146.7 85.8 146.3 85.3 145.6 85.1 145.0 85.2 144.4 85.7 144.1 86.5 144.1 87.3 144.3 88.0 144.9 88.6 145.8 88.7 146.6 88.1 146.9 86.9ZM109.5 90.9 111.3 95.4 113.4 97.8 117.0 90.9 116.9 89.0 116.6 87.4 115.0 86.5 113.0 86.1 110.3 86.9 109.7 87.1 109.4 87.6 109.3 88.9ZM136.5 92.4 139.1 98.1 141.0 103.0 141.7 109.7 142.9 111.3 143.8 112.0 144.8 110.7 146.1 108.4 147.3 103.7 147.4 101.9 147.3 101.4 144.7 98.1 141.0 91.8 139.4 89.6 138.3 89.8 137.2 90.4 136.7 91.3ZM156.1 113.2 157.9 117.7 159.6 119.8 160.0 120.1 160.3 120.0 161.5 119.0 163.0 117.2 163.4 115.1 163.4 112.7 162.6 109.6 161.6 106.8 160.8 105.9 159.1 104.8 158.4 104.8 157.2 105.2 155.9 106.1 155.7 109.1 155.8 111.7ZM106.6 116.6 107.6 117.7 112.5 121.6 114.0 123.1 114.7 125.2 116.0 130.0 118.3 135.9 119.1 137.2 120.3 138.6 121.5 139.6 121.7 139.7 122.1 139.6 122.9 138.6 123.1 137.5 122.0 125.4 121.5 122.8 120.1 119.8 119.2 118.4 114.4 114.9 113.6 113.4 112.3 110.2 111.1 108.6 110.1 107.8 108.7 108.6 107.2 110.1 106.6 114.7ZM135.0 134.2 135.7 136.3 136.5 137.6 149.6 147.4 152.5 149.9 153.0 148.6 153.5 146.4 153.3 144.1 152.9 141.9 151.7 139.9 150.2 138.0 146.2 134.0 142.8 129.9 140.7 128.8 139.9 128.7 139.5 129.0 135.9 131.9 135.2 133.1ZM151.8 132.1 153.2 135.4 155.0 141.4 155.9 146.9 157.5 150.3 158.9 151.5 161.6 152.9 162.5 152.8 164.2 152.2 164.6 151.9 165.0 150.9 165.3 149.8 165.1 149.1 163.1 145.4 159.6 141.3 159.0 139.1 158.9 136.7 161.2 132.1 160.9 130.4 160.4 128.9 158.9 127.8 157.3 126.9 155.4 127.0 153.7 127.3 152.6 128.4 151.8 129.7ZM105.2 135.4 106.3 136.9 114.7 146.7 116.4 148.4 118.7 150.1 119.6 150.5 121.2 149.9 122.2 149.1 122.4 148.7 122.3 148.1 121.2 145.4 116.5 141.4 113.6 138.6 108.5 132.7 107.1 132.8 105.8 133.3 105.3 134.3ZM131.4 160.0 131.6 164.2 132.4 165.5 133.1 166.1 135.4 164.1 136.5 161.9 137.0 160.4 137.3 157.3 136.5 154.5 135.9 153.4 135.1 153.1 134.0 153.0 132.3 155.0 131.5 156.5ZM140.7 158.1 139.7 165.2 138.1 168.8 138.0 169.6 138.3 171.1 138.9 172.8 140.3 173.7 141.5 174.0 142.0 173.8 142.4 173.2 144.8 170.1 150.2 164.8 151.6 162.1 151.9 160.4 151.0 156.7 150.0 155.1 147.7 153.0 145.0 152.1 143.7 152.2 141.9 153.7 141.3 155.1ZM158.3 164.0 157.8 163.4 156.9 163.1 156.0 163.2 155.3 163.7 154.9 164.4 154.8 165.3 154.9 166.2 155.5 167.1 156.2 167.5 156.9 167.5 157.6 167.3 158.1 166.9 158.6 165.5ZM129.2 182.3 128.4 181.9 127.3 181.9 126.4 182.2 126.1 182.6 126.8 183.2 128.1 183.3 129.2 182.9 129.3 182.6ZM143.2 183.4 142.4 181.9 141.5 180.9 140.4 180.1 139.1 179.5 137.9 179.2 136.5 179.2 135.7 179.6 135.2 180.4 135.2 181.8 136.0 183.3 137.6 184.9 139.3 185.7 140.9 186.1 142.5 185.8 143.2 184.8ZM145.3 197.8 144.6 195.7 143.7 194.4 142.5 193.2 141.0 192.2 139.6 191.5 137.8 191.2 136.8 191.3 135.9 192.0 135.7 192.9 135.7 193.6 136.4 195.3 138.1 197.4 140.0 198.8 142.4 199.8 143.2 199.8 144.2 199.7 144.7 199.4 145.2 198.7ZM162.5 194.8 161.4 193.2 160.8 192.9 160.4 193.1 160.1 194.2 160.0 195.4 160.3 197.5 160.7 199.2 161.9 202.0 162.8 203.2 163.4 203.5 163.9 203.1 164.1 202.2 164.1 200.0 163.5 197.2ZM118.1 197.7 116.8 197.0 115.4 197.0 114.3 197.8 113.7 199.3 113.9 201.3 114.6 202.9 116.0 204.3 117.6 204.9 118.4 204.8 119.4 204.3 119.8 203.5 120.1 202.5 120.0 200.9 119.6 199.7 118.9 198.6ZM123.0 195.7 124.5 197.5 129.4 202.5 132.1 206.6 134.4 209.2 135.1 209.6 136.3 210.0 137.4 210.2 137.7 210.0 138.8 208.5 139.0 207.6 138.9 207.3 136.7 203.9 133.3 200.4 128.6 196.5 125.4 192.9 124.3 193.2 123.3 193.8 123.0 194.7ZM108.7 200.2 107.9 199.1 107.1 199.0 106.5 199.8 106.1 201.4 106.1 203.0 106.5 205.0 107.2 206.4 107.9 206.8 108.4 206.7 108.8 206.2 109.3 204.4 109.3 202.3ZM109.8 222.2 109.3 221.7 108.7 221.6 108.0 221.6 107.5 221.9 107.0 222.4 106.9 223.0 106.9 223.7 107.2 224.2 107.7 224.7 108.3 224.8 109.0 224.8 109.5 224.5 110.0 224.0 110.1 223.4 110.1 222.7ZM169.2 41.5 168.1 40.8 167.2 40.8 166.4 41.4 166.0 42.6 166.2 44.1 166.7 45.2 167.7 46.3 168.7 46.6 169.4 46.5 169.9 46.1 170.4 44.8 170.1 43.0ZM211.4 46.6 212.6 48.8 213.0 50.1 211.8 54.1 212.1 58.2 212.6 60.8 214.3 65.3 215.2 66.0 216.5 66.8 217.6 67.0 219.3 66.0 220.2 65.3 222.0 61.7 222.6 59.5 222.6 57.6 222.2 54.9 219.5 48.1 218.8 41.5 217.6 40.0 216.3 39.2 215.0 39.7 214.3 40.3 211.7 44.8 211.4 45.8ZM202.9 54.8 202.2 54.2 201.5 53.9 200.8 53.9 199.8 54.0 199.2 54.3 198.6 55.0 198.4 55.7 198.4 56.5 199.0 57.3 199.8 57.8 200.8 57.9 201.8 57.8 202.6 57.3 203.2 56.5 203.2 55.5ZM187.7 56.8 186.8 56.4 185.8 56.4 184.8 56.7 184.4 57.2 184.7 57.6 185.2 57.9 186.6 58.0 187.9 57.5 188.0 57.2ZM172.0 55.5 170.3 56.1 168.8 57.4 167.9 58.9 167.9 59.7 168.1 60.1 168.8 60.3 170.1 60.0 171.2 59.3 172.2 58.4 172.9 57.4 173.2 56.3 172.8 55.7ZM195.0 57.2 194.5 56.6 193.8 56.3 193.0 56.4 192.3 57.1 191.9 58.1 191.9 59.1 192.2 60.0 192.8 60.7 193.9 60.9 194.9 60.1 195.3 58.6ZM179.9 64.8 178.9 64.0 177.9 63.7 176.7 63.6 175.2 63.8 174.2 64.2 173.3 65.1 172.9 65.8 172.9 66.8 173.7 68.0 174.8 68.7 176.7 69.0 178.2 68.8 179.5 68.2 180.4 67.1 180.5 65.8ZM190.6 65.2 189.9 64.6 189.2 64.3 188.5 64.3 187.5 64.4 186.9 64.7 186.3 65.4 186.1 66.1 186.1 66.9 186.7 67.7 187.5 68.2 188.5 68.3 189.5 68.2 190.3 67.7 190.9 66.9 190.9 65.9ZM199.5 68.9 200.9 73.4 202.4 74.9 203.8 75.8 205.5 74.9 207.4 73.3 208.5 71.5 209.2 69.6 208.9 67.7 208.1 65.9 206.3 64.1 204.3 62.7 201.7 63.1 199.4 64.0 199.2 65.8ZM190.3 92.1 193.9 93.2 196.6 96.0 199.4 97.2 199.8 97.1 200.6 96.3 201.5 95.0 201.4 92.8 201.0 90.8 199.9 89.9 198.8 89.4 198.1 89.4 194.0 90.5 192.5 90.1 190.3 89.1 189.5 89.2 188.8 89.7 189.5 91.3ZM228.8 96.9 228.6 98.8 228.8 99.9 229.0 98.4ZM210.2 106.6 209.8 104.9 208.9 104.0 207.6 103.9 206.1 104.7 204.8 106.3 204.2 108.0 204.1 110.0 204.7 111.4 205.5 111.9 206.3 112.0 207.2 111.7 208.1 111.1 208.9 110.2 209.6 109.1 210.0 107.8ZM177.3 123.3 176.6 122.6 175.8 122.3 175.0 122.3 174.2 122.6 173.5 123.3 173.2 124.1 173.2 124.9 173.5 125.7 174.2 126.4 175.0 126.7 175.8 126.7 176.6 126.4 177.3 125.7 177.6 124.9 177.6 124.1ZM200.5 127.5 203.4 129.7 207.9 132.1 212.0 133.5 215.3 134.4 218.0 134.4 220.4 134.0 222.0 132.7 223.1 131.3 222.8 129.8 222.4 129.3 222.0 129.1 212.2 127.3 211.2 126.4 207.2 122.2 206.3 121.5 205.8 121.4 204.1 121.3 201.9 121.5 200.1 122.5 199.1 123.4 198.9 123.8 199.3 125.3 199.9 126.7ZM183.0 139.9 182.2 138.4 181.0 137.6 179.4 137.8 178.2 138.5 177.0 140.2 176.5 141.9 176.6 143.5 177.4 145.0 178.1 145.6 179.2 145.8 180.5 145.5 181.4 144.9 182.2 143.9 182.8 142.8 183.1 141.5ZM197.6 151.5 196.9 150.1 196.3 149.7 195.8 149.6 194.8 150.1 193.8 151.5 193.4 153.6 193.4 155.3 194.0 157.1 194.9 157.9 195.6 158.0 196.2 157.7 196.8 157.0 197.4 156.1 197.8 154.0ZM182.1 153.5 184.7 163.5 185.7 166.5 186.1 166.8 187.3 167.2 188.4 167.3 189.0 167.1 190.0 166.3 191.1 164.9 191.2 163.2 191.1 161.1 189.1 155.4 187.8 153.2 186.6 151.5 185.1 151.1 183.7 151.0 182.4 152.3 182.1 153.1ZM171.5 160.8 175.8 168.0 177.6 169.2 179.4 169.9 180.0 169.6 181.0 168.6 181.6 167.6 181.7 166.9 182.0 162.9 182.0 161.2 179.2 160.4 176.5 157.0 173.6 154.5 172.8 153.8 172.0 153.5 171.0 153.8 170.1 154.6 170.6 157.5ZM168.2 165.0 167.4 164.2 166.2 163.9 165.0 164.2 164.2 165.0 163.6 166.4 163.6 167.8 164.0 168.9 165.0 170.0 165.7 170.3 166.7 170.3 167.6 169.8 168.2 169.2 168.7 168.1 168.8 167.1 168.7 166.1ZM201.3 173.5 204.8 181.6 205.3 181.9 206.1 182.2 206.9 180.6 207.7 178.5 208.0 173.9 207.5 171.8 206.1 168.8 204.6 168.0 203.2 167.7 201.9 168.3 201.1 169.1 200.9 169.6 200.9 171.0ZM177.6 196.7 178.4 198.8 179.3 200.6 181.5 202.9 182.2 203.1 183.9 202.5 185.5 200.4 186.2 197.8 186.4 195.6 185.5 193.2 184.4 191.1 181.9 189.6 180.3 189.3 178.0 189.8 177.2 190.4 177.2 193.3ZM211.8 191.5 211.4 197.5 211.8 200.2 212.4 202.7 213.6 204.5 214.9 205.8 216.0 206.0 216.8 206.0 217.3 205.0 217.9 203.4 218.0 202.2 217.9 201.7 216.1 197.8 213.4 194.3 212.1 188.5 211.7 189.1ZM167.0 195.9 168.2 200.2 169.3 202.1 171.3 204.5 172.6 204.1 173.0 203.7 173.1 203.4 173.5 199.7 172.9 194.8 172.2 192.7 171.2 191.3 169.8 190.0 168.6 190.4 167.5 191.3 167.1 193.4ZM205.9 199.2 205.3 198.3 204.8 198.0 204.4 199.1 204.2 201.0 204.4 202.8 204.9 204.5 205.4 205.7 206.1 206.4 206.6 205.3 206.8 203.4 206.5 201.2ZM184.2 208.7 184.9 211.5 186.4 213.4 187.3 213.9 189.1 213.6 189.8 213.3 190.9 211.5 191.7 209.6 191.4 208.4 190.5 207.3 187.9 205.9 186.3 205.4 183.9 205.3Z" fill="none" stroke="#141010" stroke-width="1.65" stroke-linejoin="round"/><path d="M140.0 59.5 139.9 58.2 139.6 57.3 139.1 56.8 138.6 56.8 137.9 57.7 137.6 59.5 137.9 61.3 138.6 62.2 139.0 62.2 139.6 61.7 139.9 60.8Z" fill="#300808" stroke="#141010" stroke-width="1.35" stroke-linejoin="round"/><path d="M217.6 59.8 217.4 58.7 217.0 57.7 216.3 57.1 215.5 56.9 214.7 57.1 214.0 57.7 213.6 58.7 213.4 59.8 213.6 60.9 214.0 61.9 214.7 62.5 215.5 62.7 216.3 62.5 217.0 61.9 217.4 60.9Z" fill="#7a0a0a" stroke="#141010" stroke-width="1.35" stroke-linejoin="round"/><path d="M161.4 146.0 160.4 144.6 158.9 143.8 157.8 143.9 157.2 144.7 157.1 146.1 157.6 147.7 158.8 149.4 160.1 150.2 160.8 150.3 161.4 150.1 162.0 149.3 162.1 147.9Z" fill="#800a0a" stroke="#141010" stroke-width="1.35" stroke-linejoin="round"/><path d="M207.0 127.9 207.2 127.2 207.1 126.5 206.7 125.8 206.0 125.2 205.2 124.9 204.4 124.9 203.7 125.2 203.2 125.7 203.0 126.4 203.1 127.1 203.5 127.8 204.2 128.4 205.0 128.7 205.8 128.7 206.5 128.4Z" fill="#800a0a" stroke="#141010" stroke-width="1.35" stroke-linejoin="round"/><path d="M71.3 173.8 71.1 172.8 70.5 171.9 69.6 171.3 68.6 171.1 67.6 171.3 66.7 171.9 66.1 172.8 65.9 173.8 66.1 174.8 66.7 175.7 67.6 176.3 68.6 176.5 69.6 176.3 70.5 175.7 71.1 174.8Z" fill="#8a0c0c" stroke="#141010" stroke-width="1.35" stroke-linejoin="round"/><path d="M80.0 184.9 79.7 184.4 79.0 184.1 77.0 184.0 75.1 184.8 74.6 185.3 74.4 185.9 74.7 186.4 75.4 186.7 77.4 186.8 79.3 186.0 79.8 185.5Z" fill="#7a0a0a" stroke="#141010" stroke-width="1.35" stroke-linejoin="round"/><path d="M95.7 175.4 95.5 173.9 94.8 172.6 93.8 171.7 92.6 171.4 91.4 171.7 90.4 172.6 89.7 173.9 89.5 175.4 89.7 176.9 90.4 178.2 91.4 179.1 92.6 179.4 93.8 179.1 94.8 178.2 95.5 176.9Z" fill="#8a0c0c" stroke="#141010" stroke-width="1.35" stroke-linejoin="round"/><g fill="#141010"><circle cx="39.4" cy="41.3" r="1.15"/><circle cx="62" cy="66.7" r="1.05"/><circle cx="84.4" cy="76.4" r="1.05"/><circle cx="81.7" cy="79.5" r="1.05"/><circle cx="148.6" cy="56.8" r="0.75"/><circle cx="206.5" cy="83.4" r="0.9500000000000001"/><circle cx="204.4" cy="22.6" r="1.15"/><circle cx="62.4" cy="115" r="0.75"/><circle cx="107.1" cy="153.4" r="0.9500000000000001"/><circle cx="100.2" cy="134" r="1.05"/><circle cx="80.9" cy="156.8" r="1.05"/><circle cx="116.9" cy="127.5" r="0.75"/><circle cx="130.4" cy="115" r="1.3499999999999999"/><circle cx="135.1" cy="118.4" r="1.45"/><circle cx="116.9" cy="146.4" r="0.75"/><circle cx="138.8" cy="137.2" r="0.75"/><circle cx="154.7" cy="153.2" r="1.05"/><circle cx="145.5" cy="156.1" r="0.9500000000000001"/><circle cx="142.1" cy="168.8" r="0.75"/><circle cx="148" cy="162.6" r="0.75"/><circle cx="170.9" cy="141.7" r="1.15"/><circle cx="126.3" cy="155.9" r="0.65"/><circle cx="180.1" cy="105.6" r="1.05"/><circle cx="187.1" cy="118.4" r="1.05"/><circle cx="186.2" cy="157.2" r="0.9500000000000001"/><circle cx="177.4" cy="163.5" r="0.85"/><circle cx="88.1" cy="195.1" r="0.75"/><circle cx="56.1" cy="182.2" r="1.05"/><circle cx="62.4" cy="192.1" r="1.05"/><circle cx="52.3" cy="221.1" r="1.3800000000000001"/><circle cx="119.3" cy="181.7" r="1.05"/><circle cx="109.8" cy="229.9" r="1.05"/><circle cx="218.6" cy="166.4" r="1.15"/><circle cx="195.6" cy="229.4" r="1.15"/></g></g>

<rect x="32.5" y="21.5" width="209.0" height="209.0" fill="none" stroke="#a4a4a4" stroke-width="0.9"/>
<text x="35.00" y="240.50" text-anchor="middle" class="tk">-91.8</text>
<text x="59.96" y="240.50" text-anchor="middle" class="tk">-91.7</text>
<text x="84.92" y="240.50" text-anchor="middle" class="tk">-91.6</text>
<text x="109.89" y="240.50" text-anchor="middle" class="tk">-91.5</text>
<text x="134.85" y="240.50" text-anchor="middle" class="tk">-91.4</text>
<text x="159.81" y="240.50" text-anchor="middle" class="tk">-91.3</text>
<text x="184.77" y="240.50" text-anchor="middle" class="tk">-91.2</text>
<text x="209.74" y="240.50" text-anchor="middle" class="tk">-91.1</text>
<text x="234.70" y="240.50" text-anchor="middle" class="tk">-91</text>
<text x="29.80" y="28.60" text-anchor="end" class="tk">37.2</text>
<text x="29.80" y="60.10" text-anchor="end" class="tk">37.1</text>
<text x="29.80" y="91.60" text-anchor="end" class="tk">37</text>
<text x="29.80" y="123.10" text-anchor="end" class="tk">36.9</text>
<text x="29.80" y="154.60" text-anchor="end" class="tk">36.8</text>
<text x="29.80" y="186.10" text-anchor="end" class="tk">36.7</text>
<text x="29.80" y="217.60" text-anchor="end" class="tk">36.6</text>
<path d="M35.00 230.5v-2M35.00 21.5v2M59.96 230.5v-2M59.96 21.5v2M84.92 230.5v-2M84.92 21.5v2M109.89 230.5v-2M109.89 21.5v2M134.85 230.5v-2M134.85 21.5v2M159.81 230.5v-2M159.81 21.5v2M184.77 230.5v-2M184.77 21.5v2M209.74 230.5v-2M209.74 21.5v2M234.70 230.5v-2M234.70 21.5v2M32.5 25.50h2M241.5 25.50h-2M32.5 57.00h2M241.5 57.00h-2M32.5 88.50h2M241.5 88.50h-2M32.5 120.00h2M241.5 120.00h-2M32.5 151.50h2M241.5 151.50h-2M32.5 183.00h2M241.5 183.00h-2M32.5 214.50h2M241.5 214.50h-2" stroke="#9a9a9a" stroke-width="0.8" fill="none"/>
<text x="137.00" y="254.00" text-anchor="middle" class="al">Lon (<tspan font-size="6.6" dy="-3.4">o</tspan><tspan dy="3.4">E)</tspan></text>
<text transform="translate(10.90,126.50) rotate(-90)" text-anchor="middle" class="al">Lat (<tspan font-size="6.6" dy="-3.4">o</tspan><tspan dy="3.4">N)</tspan></text>
<text transform="translate(33.00,15.80) scale(0.95,1)" class="ti">(a) MAE<tspan dx="4.5" font-style="italic" style="font-size:13px">u</tspan><tspan font-style="italic" style="font-size:9.5px" dy="3.6">int</tspan></text>
<rect x="248.0" y="22.0" width="10.50" height="208.50" fill="url(#cbg)" stroke="#a0a0a0" stroke-width="0.8"/>
<text x="260.90" y="24.20" class="tk" style="font-size:6.6px">0.25</text>
<text x="260.90" y="65.90" class="tk" style="font-size:6.6px">0.2</text>
<text x="260.90" y="107.60" class="tk" style="font-size:6.6px">0.15</text>
<text x="260.90" y="149.30" class="tk" style="font-size:6.6px">0.1</text>
<text x="260.90" y="191.00" class="tk" style="font-size:6.6px">0.05</text>
<text x="260.90" y="232.70" class="tk" style="font-size:6.6px">0</text>
<path d="M258.5 22.00h-1.5M258.5 63.70h-1.5M258.5 105.40h-1.5M258.5 147.10h-1.5M258.5 188.80h-1.5M258.5 230.50h-1.5" stroke="#888" stroke-width="0.6"/>
<clipPath id="clipb"><rect x="304.4" y="22.3" width="209.0" height="208.89999999999998"/></clipPath>
<rect x="304.4" y="22.3" width="209.0" height="208.89999999999998" fill="#ebe6e6"/>
<g clip-path="url(#clipb)"><g filter="url(#bl4)"><g fill="#e3d6d7"><path d="M323.3 40.3 325.4 39.4 328.5 38.6 334.4 38.2 338.9 39.5 341.0 40.8 342.5 42.3 343.4 44.7 344.2 48.2 344.6 54.5 344.1 56.8 343.1 59.2 341.8 61.3 340.5 62.6 338.9 63.2 336.7 63.3 332.4 62.6 328.0 60.0 324.3 56.5 323.4 54.7 322.8 52.5 322.2 46.4 322.4 41.8Z"/><path d="M383.1 36.2 386.8 34.3 391.2 33.2 395.6 34.2 399.3 36.2 400.3 37.5 401.5 40.9 401.4 42.3 400.5 43.4 398.9 44.7 395.3 46.3 391.2 46.2 387.2 45.3 384.2 43.5 382.1 41.3 381.9 38.7 382.4 37.3Z"/><path d="M360.8 70.7 362.4 69.5 367.1 67.8 368.9 67.6 370.4 68.3 372.0 69.6 373.3 71.2 374.0 72.7 373.8 74.5 373.1 76.9 370.9 80.8 369.4 81.7 367.4 82.5 363.8 82.9 360.8 81.4 359.5 80.1 358.8 78.8 358.8 77.1 359.9 72.4Z"/><path d="M387.2 72.7 388.7 71.9 390.9 71.8 393.4 72.2 396.9 73.3 400.4 75.4 401.4 76.8 402.1 81.9 401.9 84.8 401.4 86.9 400.2 88.1 398.2 89.2 394.3 90.0 390.4 88.8 388.4 87.5 387.2 85.9 386.6 83.1 386.6 75.2Z"/><path d="M344.6 109.2 346.2 108.2 350.9 107.1 352.7 107.2 354.0 108.1 355.2 109.7 356.7 113.3 356.3 117.6 355.6 119.9 354.7 121.4 353.3 122.1 349.2 122.6 347.6 122.4 345.2 120.3 343.6 117.3 343.4 115.5 343.9 110.8Z"/><path d="M383.1 105.2 384.6 104.6 389.4 104.7 391.2 105.2 392.5 106.2 393.8 107.8 395.3 111.3 395.3 113.2 394.1 117.9 393.2 119.4 391.6 120.0 386.8 119.9 385.1 119.4 384.0 118.4 383.1 116.8 382.1 113.3 382.0 108.9 382.4 106.7Z"/><path d="M326.3 84.9 328.3 84.1 334.3 82.8 336.5 82.9 338.1 83.8 339.7 85.4 340.9 87.2 341.5 88.9 341.4 90.8 340.8 93.3 339.7 95.6 338.5 97.1 336.4 97.7 330.4 97.6 328.3 97.1 326.9 96.0 325.7 94.4 324.3 91.0 324.6 87.7 325.3 86.1Z"/><path d="M431.3 36.2 433.5 34.8 436.9 34.2 440.5 34.1 443.5 34.2 446.4 34.9 453.0 37.5 455.7 38.2 458.1 38.0 463.4 36.6 465.8 36.2 468.5 36.4 475.3 37.5 480.6 38.9 486.3 41.0 488.1 42.3 489.1 44.3 490.0 49.8 489.8 55.1 488.1 64.6 488.5 67.1 490.0 72.5 490.1 74.7 489.2 76.7 487.6 79.0 482.3 84.5 477.8 87.9 475.9 88.9 474.0 89.4 469.7 89.4 467.8 88.9 463.6 86.3 459.7 82.9 458.1 81.1 453.6 74.7 450.7 69.7 449.6 68.7 448.0 68.5 443.5 68.9 441.5 68.7 437.2 66.2 433.3 62.6 430.8 58.0 429.8 55.2 429.3 52.4 429.5 43.9 430.2 39.3Z"/><path d="M429.3 70.7 431.9 69.7 435.3 69.6 438.8 70.0 441.5 70.7 443.7 72.1 446.0 74.2 449.6 78.8 452.1 83.5 453.1 86.3 453.6 88.9 453.6 92.1 452.4 100.1 451.6 103.1 450.5 105.4 447.2 109.9 445.5 111.3 443.4 112.3 437.8 113.4 435.4 113.3 432.9 112.4 427.2 109.0 425.2 107.2 423.8 105.1 422.6 102.5 421.2 97.1 421.2 94.4 422.4 87.9 425.7 77.2 427.5 73.2Z"/><path d="M486.1 88.9 488.0 87.6 490.8 86.8 493.8 86.6 496.2 86.9 498.3 88.1 500.8 90.2 502.9 92.7 504.3 95.0 504.9 97.7 505.0 101.2 504.3 107.2 503.3 109.1 499.8 112.5 498.2 113.3 496.4 113.4 491.8 112.3 490.1 111.3 487.1 107.8 485.9 105.4 485.1 103.1 484.8 99.9 485.2 91.6Z"/><path d="M455.7 113.3 457.9 112.0 461.3 111.3 465.0 111.1 467.8 111.3 470.1 112.2 472.5 113.7 474.6 115.6 475.9 117.3 476.7 119.5 477.3 122.5 477.2 125.2 475.9 127.0 472.0 127.8 465.8 128.2 459.6 128.0 455.7 127.0 454.3 124.4 454.1 120.2 454.6 116.1Z"/><path d="M330.4 139.2 333.0 138.0 337.0 137.2 341.3 136.9 344.6 137.1 347.2 137.9 350.0 139.4 354.7 143.2 356.7 145.7 361.1 152.5 366.2 161.5 368.9 167.6 369.7 170.5 371.0 177.1 370.9 179.7 370.0 182.0 368.5 184.6 366.7 186.8 364.9 187.9 362.8 187.6 354.7 183.8 346.8 180.8 340.2 177.0 336.5 173.7 335.3 171.6 333.2 166.0 331.2 157.5 329.6 144.7 329.6 141.4Z"/><path d="M371.0 141.2 372.8 140.4 375.5 139.6 378.6 139.1 381.1 139.2 383.6 140.1 386.6 141.6 389.3 143.5 391.2 145.3 392.3 147.5 393.1 150.5 393.5 153.3 393.2 155.4 391.9 156.8 389.8 158.2 387.3 159.1 385.1 159.5 382.7 159.1 376.9 156.7 374.9 155.4 373.6 153.7 372.4 151.5 371.0 147.3 370.3 143.9 370.4 142.3Z"/><path d="M324.3 196.0 326.0 194.4 328.7 193.1 331.8 192.2 334.4 191.9 336.8 192.3 339.5 193.3 344.6 196.0 347.0 197.6 359.2 207.9 361.3 210.1 362.8 212.2 364.7 218.5 365.1 222.0 364.9 224.4 363.7 225.9 361.5 227.2 359.0 228.1 356.7 228.4 354.1 228.0 347.4 225.7 344.6 224.4 342.1 222.7 329.9 212.3 327.8 210.2 326.3 208.1 324.4 201.9 324.0 198.4Z"/><path d="M385.1 177.7 386.6 176.5 388.9 176.4 391.3 176.9 393.2 177.7 396.8 180.9 398.4 183.3 399.3 185.8 399.4 189.3 399.0 194.1 398.3 198.8 397.3 202.0 395.7 203.9 393.4 205.4 391.0 206.2 389.2 206.1 387.7 204.7 386.2 202.2 384.9 199.1 384.1 196.0 383.9 186.3 384.4 181.1Z"/><path d="M409.0 131.1 411.2 129.3 414.6 127.9 418.3 127.1 421.2 127.0 423.7 127.7 426.6 129.2 431.3 133.1 433.0 135.6 434.7 138.9 438.6 148.1 440.9 154.7 441.5 157.4 441.5 160.0 440.3 165.7 439.4 167.6 437.8 168.8 435.6 169.6 433.2 170.0 431.3 169.6 429.8 167.9 425.2 159.5 421.3 155.1 417.1 151.3 410.4 148.8 409.0 147.3 408.3 144.0 408.0 139.2 408.2 134.4Z"/><path d="M429.3 165.5 431.0 164.1 433.8 163.3 436.9 163.0 439.4 163.5 441.4 165.1 443.5 167.8 449.5 176.8 455.7 187.9 459.2 197.2 459.7 200.0 459.7 203.0 458.6 209.8 457.7 212.2 456.2 213.8 454.0 215.2 451.6 216.1 449.6 216.2 447.7 215.1 445.4 213.1 441.5 208.1 440.4 205.2 437.4 193.9 431.3 179.7 429.5 172.0 429.0 168.1Z"/><path d="M469.9 155.4 471.6 153.7 474.3 151.8 480.0 149.3 486.3 148.6 489.7 148.7 492.2 149.3 494.1 150.6 495.9 152.6 497.4 155.0 498.2 157.4 498.3 160.5 498.0 164.6 497.3 168.7 496.2 171.6 494.4 173.6 491.7 175.5 488.7 176.9 486.1 177.7 483.2 177.8 479.7 177.5 476.3 176.8 473.9 175.7 472.4 173.8 471.3 171.0 469.9 165.5 469.2 160.2 469.3 157.5Z"/><path d="M473.9 191.9 475.0 190.8 477.2 190.8 479.8 191.3 487.4 193.4 490.3 194.6 492.2 196.0 493.3 198.1 494.0 200.9 494.3 203.9 494.2 206.1 493.3 207.9 491.8 209.8 489.9 211.3 488.1 212.2 485.9 212.5 482.9 212.4 480.1 211.7 478.0 210.2 476.5 206.5 475.0 200.9 474.0 195.4Z"/><ellipse cx="500.3" cy="183.8" rx="4" ry="7"/><path d="M421.2 200.0 423.1 199.3 426.0 199.1 429.0 199.4 431.3 200.0 433.1 201.4 435.0 203.5 436.5 206.0 437.4 208.1 437.5 210.5 437.2 213.6 436.5 216.5 435.4 218.3 433.4 219.0 430.4 219.2 427.4 218.9 425.2 218.3 423.6 216.9 422.1 214.8 420.2 210.2 419.9 204.7 420.3 201.8Z"/></g><g fill="#dbc8ca"><path d="M469.9 54.5 471.3 53.5 473.5 52.7 476.0 52.3 478.0 52.4 480.0 53.1 484.6 56.0 486.1 57.5 487.1 59.5 487.8 62.0 488.2 64.6 488.1 66.6 487.2 68.1 485.6 69.7 483.7 71.0 482.0 71.7 480.2 71.7 477.8 71.3 473.9 69.7 471.5 67.0 469.9 63.6 469.3 58.9 469.4 56.3Z"/><ellipse cx="462.7" cy="56.5" rx="5" ry="6"/><ellipse cx="435.4" cy="80.8" rx="4" ry="4"/><ellipse cx="445.5" cy="103.1" rx="4" ry="4"/><ellipse cx="421.2" cy="97" rx="3.5" ry="3.5"/><ellipse cx="347.6" cy="165.5" rx="6.5" ry="11" transform="rotate(-20 347.6 165.5)"/><ellipse cx="362.8" cy="173.7" rx="3.5" ry="4"/><ellipse cx="344.6" cy="212.2" rx="6" ry="4.5" transform="rotate(30 344.6 212.2)"/><ellipse cx="419.1" cy="141.2" rx="5" ry="4"/><ellipse cx="433.3" cy="169.6" rx="4" ry="4"/><ellipse cx="449.6" cy="194" rx="4" ry="7" transform="rotate(-20 449.6 194)"/><ellipse cx="484" cy="200" rx="4" ry="4"/></g><g fill="#d0afb2"><ellipse cx="479" cy="62.6" rx="4" ry="3.5" transform="rotate(20 479 62.6)"/></g><g fill="#f3f2f2"><path d="M306.0 48.4 307.1 46.9 308.7 46.0 310.6 45.5 312.1 45.3 315.1 46.2 318.2 48.4 322.7 55.5 324.3 57.5 326.4 59.1 332.0 62.4 336.8 64.7 352.7 70.7 357.9 72.1 358.8 72.7 358.8 73.7 358.4 75.2 356.7 77.8 355.5 78.6 347.7 82.1 344.6 82.9 343.2 82.7 340.0 81.6 336.7 79.6 330.4 74.7 322.3 69.7 314.1 65.6 307.4 63.9 306.0 62.6 305.4 59.7 305.3 55.5 305.5 51.3Z"/><path d="M343.6 37.2 344.7 36.4 346.3 35.7 349.6 35.2 352.4 36.3 354.7 38.2 355.6 41.2 355.7 44.3 355.3 45.4 353.6 47.7 352.7 48.4 349.7 48.8 346.6 48.4 345.7 47.7 344.8 46.7 343.6 44.3 343.2 40.6 343.2 38.6Z"/><ellipse cx="371" cy="34.2" rx="4" ry="4"/><path d="M362.8 52.4 363.7 51.3 365.2 50.1 368.9 48.4 377.0 46.4 379.1 46.3 380.5 46.8 381.8 47.9 382.7 49.2 383.1 50.4 381.7 54.0 379.1 57.5 375.1 59.4 370.9 60.5 367.6 60.5 366.0 60.1 364.9 59.5 363.2 56.1 362.8 54.0Z"/><path d="M304.0 99.1 305.4 97.1 307.6 96.5 312.1 97.1 316.4 98.6 318.7 99.8 320.2 101.1 321.1 102.7 322.3 107.1 322.3 109.2 321.7 111.5 319.4 117.1 316.9 121.4 313.7 125.7 312.1 127.0 307.7 128.8 305.5 128.7 304.0 127.0 303.4 121.6 303.2 113.2 303.4 104.6Z"/><path d="M316.2 80.8 317.8 80.0 322.5 78.9 324.3 78.8 325.6 79.4 326.8 80.5 328.3 82.9 327.9 86.0 327.2 87.8 326.3 88.9 322.9 90.0 319.2 90.0 318.0 89.4 316.8 88.3 315.2 85.9 315.1 83.2 315.5 81.8Z"/><path d="M350.7 86.9 351.7 85.9 353.4 85.2 356.7 84.9 359.9 86.3 361.6 87.5 362.8 88.9 363.5 90.9 364.9 99.1 368.3 106.9 368.9 109.2 368.4 114.4 366.9 119.4 364.2 123.7 362.4 125.7 360.8 127.0 358.9 127.6 356.3 127.9 354.0 127.7 352.7 127.0 352.6 125.3 354.7 117.3 355.0 109.5 354.7 107.2 353.9 104.9 350.7 97.1 350.2 91.6 350.3 88.8Z"/><path d="M399.3 54.5 400.4 53.4 402.2 52.7 407.5 52.3 408.4 52.9 409.0 54.5 409.3 58.6 409.4 70.9 409.0 74.7 408.0 75.6 406.4 75.0 403.4 72.7 401.1 70.2 400.0 68.4 399.3 66.6 399.0 64.0 398.9 56.8Z"/><path d="M393.2 95.0 394.5 94.1 399.3 93.1 403.3 93.0 407.7 93.9 409.0 95.0 409.6 97.5 409.6 104.9 409.0 107.2 407.6 108.0 403.2 107.7 399.8 106.6 396.5 104.3 395.3 103.1 393.5 98.9 393.0 96.6Z"/><path d="M330.4 99.1 331.9 98.3 336.6 97.1 338.5 97.1 340.2 97.6 343.6 99.9 344.6 101.1 344.9 102.5 344.3 106.0 343.6 107.2 342.3 107.8 340.3 108.2 336.5 108.2 333.1 107.1 330.4 105.2 329.9 103.9 329.8 100.3Z"/><path d="M419.1 40.3 421.1 38.9 424.1 38.1 427.1 37.9 429.3 38.2 430.7 39.4 431.9 41.4 432.8 43.9 433.3 46.3 432.9 53.7 432.2 57.8 431.3 60.5 429.7 61.9 427.4 62.7 425.0 62.9 423.2 62.6 421.7 61.4 420.2 59.4 418.9 56.9 418.1 54.5 417.8 47.1 418.2 43.0Z"/><path d="M492.2 50.4 493.5 48.9 495.7 47.6 500.3 46.3 504.7 46.6 506.9 47.3 508.4 48.4 509.4 50.4 510.1 53.2 510.5 56.2 510.4 58.5 509.5 60.3 508.0 62.2 506.1 63.7 504.3 64.6 502.0 64.8 499.0 64.5 496.2 63.8 494.2 62.6 493.1 60.2 492.3 56.6 491.9 53.0Z"/><ellipse cx="411.5" cy="69.7" rx="3.5" ry="13"/><path d="M471.9 72.7 473.2 72.0 477.9 72.3 482.2 73.2 487.4 74.8 489.1 75.8 490.0 77.3 490.5 79.4 490.5 81.4 490.1 82.9 488.7 83.9 486.5 84.9 482.0 85.9 477.6 85.6 475.4 85.0 473.9 83.9 472.9 81.6 471.7 74.8Z"/><path d="M453.6 91.0 455.4 89.9 458.2 89.1 461.3 88.7 463.8 89.0 466.3 90.3 472.0 94.9 473.9 97.1 475.0 99.4 475.8 102.3 476.2 105.2 475.9 107.2 474.6 108.6 472.5 110.0 470.0 110.9 467.8 111.3 465.5 110.9 462.6 109.8 457.7 107.2 454.6 104.5 453.3 102.8 452.6 101.1 452.3 95.8 452.7 93.0Z"/><path d="M500.3 78.8 501.8 78.2 504.1 78.2 508.4 78.8 511.6 78.9 513.1 79.4 514.0 80.8 514.5 84.5 514.5 95.7 514.0 99.1 512.6 99.9 510.5 99.4 508.2 98.3 504.8 95.6 501.3 91.0 500.3 88.9 499.8 86.5 499.7 80.6Z"/><path d="M417.1 109.2 419.0 107.7 422.0 106.9 425.1 106.8 427.3 107.2 428.7 108.4 429.9 110.6 431.3 115.3 431.1 121.6 430.4 124.9 429.3 127.0 426.8 128.0 423.1 128.5 419.4 128.2 417.1 127.0 416.2 123.6 416.0 118.2 416.3 112.8Z"/><ellipse cx="498.2" cy="36.2" rx="4" ry="4"/><path d="M312.1 127.0 315.6 126.1 321.3 125.8 326.9 126.1 330.4 127.0 331.1 129.1 328.3 139.2 325.0 165.0 324.3 167.6 323.1 169.0 321.3 169.9 319.5 170.2 318.2 169.6 317.3 167.7 316.4 164.5 315.2 157.4 314.1 139.2 311.4 129.0Z"/><path d="M334.4 127.0 341.3 126.4 352.6 126.2 363.9 126.4 371.0 127.0 372.8 128.5 372.2 130.8 368.9 135.1 365.2 137.7 360.8 139.2 358.6 139.1 350.7 137.1 340.9 135.9 338.5 135.1 336.3 133.4 334.0 130.9 332.9 128.5Z"/><path d="M356.7 139.2 358.0 138.0 360.3 137.1 362.8 136.7 364.9 137.1 366.9 138.7 371.5 144.5 373.0 147.3 373.9 150.6 375.0 158.7 375.0 161.5 374.5 163.2 373.4 164.6 372.2 165.4 371.0 165.5 369.7 164.3 364.9 157.4 360.0 151.3 358.8 149.3 357.0 144.0 356.5 141.1Z"/><path d="M336.5 183.8 337.7 182.7 339.8 181.9 342.4 181.5 344.6 181.8 346.9 183.1 352.6 187.7 354.7 189.9 358.5 195.1 360.0 197.9 360.8 200.0 360.5 201.8 359.5 203.8 358.1 205.3 356.7 206.1 355.1 205.8 352.9 204.8 348.6 202.0 344.3 198.2 340.5 193.9 339.1 191.5 336.7 185.7Z"/><path d="M366.9 193.9 368.3 192.8 370.5 192.0 373.0 191.6 375.0 191.9 377.0 193.1 379.4 195.0 381.6 197.5 383.1 200.0 384.0 203.3 385.1 212.3 385.1 216.2 384.7 220.2 383.8 224.9 382.6 229.2 381.1 232.0 378.5 233.1 374.7 233.5 371.1 233.1 368.9 232.0 368.7 229.6 370.5 221.8 370.9 218.3 370.2 215.0 366.9 204.1 366.3 198.4 366.4 195.7Z"/><path d="M397.3 149.3 398.9 147.8 401.3 147.1 403.7 147.0 407.6 147.9 408.5 149.6 409.0 153.4 409.3 162.8 409.5 191.2 409.0 200.0 407.6 202.5 405.4 202.0 403.1 200.1 401.4 198.0 400.2 195.4 399.1 191.6 397.3 183.8 396.0 175.9 395.3 167.6 395.8 157.7 396.4 152.7Z"/><path d="M310.1 204.1 311.9 201.9 314.8 201.1 317.9 201.3 320.2 202.0 322.0 203.5 323.9 206.0 325.4 209.1 326.3 212.2 326.5 216.6 326.3 222.6 325.6 228.4 324.3 232.0 321.4 233.6 317.1 234.4 312.8 233.9 310.1 232.0 309.1 226.6 308.9 218.2 309.3 209.6Z"/><ellipse cx="385" cy="134" rx="4" ry="8"/><path d="M443.5 135.1 445.3 133.8 448.2 133.0 451.3 132.7 453.6 133.1 455.3 134.7 456.9 137.3 459.7 143.2 461.9 150.0 467.8 173.7 473.9 187.9 480.1 212.2 480.0 214.2 478.7 216.1 476.4 218.1 473.8 219.7 471.9 220.3 470.3 219.7 468.7 218.2 465.8 214.2 463.6 208.5 457.7 187.9 451.6 175.7 448.3 164.8 445.1 150.5 443.3 140.6 443.1 137.3Z"/><path d="M469.9 139.2 470.9 137.9 475.4 135.0 478.0 134.1 486.1 133.1 494.2 133.1 496.8 133.7 499.3 134.7 501.3 135.9 502.3 137.1 502.2 138.7 501.3 140.8 499.8 142.8 498.2 144.2 495.9 144.8 492.6 145.1 479.6 145.7 476.3 145.7 473.9 145.3 472.3 144.2 470.9 142.5 470.0 140.7Z"/><path d="M409.0 185.8 410.5 182.9 412.7 182.3 415.2 182.9 418.8 184.9 420.7 186.7 422.3 189.2 423.2 191.9 423.3 196.0 422.8 201.6 421.2 212.2 420.0 216.5 416.6 225.6 415.1 228.4 413.6 230.1 411.7 231.3 410.1 231.1 409.0 228.4 408.5 220.2 408.3 207.2 408.4 194.2Z"/><ellipse cx="428.3" cy="188" rx="5" ry="5"/><ellipse cx="412" cy="173" rx="4" ry="6"/></g></g></g>
<rect x="304.4" y="22.3" width="209.0" height="208.89999999999998" filter="url(#motpb)" opacity="0.15"/>
<rect x="304.4" y="22.3" width="209.0" height="208.89999999999998" fill="none" stroke="#a4a4a4" stroke-width="0.9"/>
<text x="306.90" y="241.20" text-anchor="middle" class="tk">-91.8</text>
<text x="331.86" y="241.20" text-anchor="middle" class="tk">-91.7</text>
<text x="356.82" y="241.20" text-anchor="middle" class="tk">-91.6</text>
<text x="381.79" y="241.20" text-anchor="middle" class="tk">-91.5</text>
<text x="406.75" y="241.20" text-anchor="middle" class="tk">-91.4</text>
<text x="431.71" y="241.20" text-anchor="middle" class="tk">-91.3</text>
<text x="456.67" y="241.20" text-anchor="middle" class="tk">-91.2</text>
<text x="481.64" y="241.20" text-anchor="middle" class="tk">-91.1</text>
<text x="506.60" y="241.20" text-anchor="middle" class="tk">-91</text>
<text x="301.70" y="29.40" text-anchor="end" class="tk">37.2</text>
<text x="301.70" y="60.88" text-anchor="end" class="tk">37.1</text>
<text x="301.70" y="92.37" text-anchor="end" class="tk">37</text>
<text x="301.70" y="123.85" text-anchor="end" class="tk">36.9</text>
<text x="301.70" y="155.33" text-anchor="end" class="tk">36.8</text>
<text x="301.70" y="186.82" text-anchor="end" class="tk">36.7</text>
<text x="301.70" y="218.30" text-anchor="end" class="tk">36.6</text>
<path d="M306.90 231.2v-2M306.90 22.3v2M331.86 231.2v-2M331.86 22.3v2M356.82 231.2v-2M356.82 22.3v2M381.79 231.2v-2M381.79 22.3v2M406.75 231.2v-2M406.75 22.3v2M431.71 231.2v-2M431.71 22.3v2M456.67 231.2v-2M456.67 22.3v2M481.64 231.2v-2M481.64 22.3v2M506.60 231.2v-2M506.60 22.3v2M304.4 26.30h2M513.4 26.30h-2M304.4 57.78h2M513.4 57.78h-2M304.4 89.27h2M513.4 89.27h-2M304.4 120.75h2M513.4 120.75h-2M304.4 152.23h2M513.4 152.23h-2M304.4 183.72h2M513.4 183.72h-2M304.4 215.20h2M513.4 215.20h-2" stroke="#9a9a9a" stroke-width="0.8" fill="none"/>
<text x="408.90" y="254.70" text-anchor="middle" class="al">Lon (<tspan font-size="6.6" dy="-3.4">o</tspan><tspan dy="3.4">E)</tspan></text>
<text transform="translate(282.80,127.25) rotate(-90)" text-anchor="middle" class="al">Lat (<tspan font-size="6.6" dy="-3.4">o</tspan><tspan dy="3.4">N)</tspan></text>
<text transform="translate(305.80,16.60) scale(0.95,1)" class="ti">(b) MAE<tspan dx="4.5" font-style="italic" style="font-size:13px">u</tspan><tspan font-style="italic" style="font-size:9.5px" dy="3.6">anen</tspan></text>
<rect x="520.3" y="22.6" width="9.70" height="208.70" fill="url(#cbg)" stroke="#a0a0a0" stroke-width="0.8"/>
<text x="532.40" y="24.80" class="tk" style="font-size:6.6px">0.25</text>
<text x="532.40" y="66.54" class="tk" style="font-size:6.6px">0.2</text>
<text x="532.40" y="108.28" class="tk" style="font-size:6.6px">0.15</text>
<text x="532.40" y="150.02" class="tk" style="font-size:6.6px">0.1</text>
<text x="532.40" y="191.76" class="tk" style="font-size:6.6px">0.05</text>
<text x="532.40" y="233.50" class="tk" style="font-size:6.6px">0</text>
<path d="M530.0 22.60h-1.5M530.0 64.34h-1.5M530.0 106.08h-1.5M530.0 147.82h-1.5M530.0 189.56h-1.5M530.0 231.30h-1.5" stroke="#888" stroke-width="0.6"/>
<clipPath id="clipc"><rect x="33.0" y="278.7" width="209.2" height="209.5"/></clipPath>
<rect x="33.0" y="278.7" width="209.2" height="209.5" fill="#f2eded"/>
<rect x="33.0" y="278.7" width="209.2" height="209.5" filter="url(#motpc)" opacity="1"/>
<g clip-path="url(#clipc)"><path d="M245.2 292.9 244.3 291.7 242.6 290.8 241.1 290.8 239.5 291.7 238.4 293.2 238.1 295.0 238.3 296.8 239.2 298.4 241.7 299.6 244.3 298.7 245.7 296.0ZM107.1 318.0 109.8 319.0 114.0 318.7 113.2 323.1 113.4 326.1 115.3 329.1 118.0 330.2 115.9 331.2 113.4 333.5 112.1 335.3 111.9 336.8 113.1 339.2 115.8 341.4 118.1 342.1 122.1 342.4 127.6 341.1 134.3 341.1 139.3 340.6 141.1 339.9 142.5 338.7 142.6 340.3 143.3 341.7 146.4 344.2 152.4 345.1 165.5 349.2 160.7 349.4 156.7 350.8 156.3 349.0 155.2 347.7 153.7 346.8 151.7 346.6 150.1 347.2 148.8 348.3 148.0 349.9 147.9 351.6 148.5 353.2 149.6 354.5 151.7 355.4 154.0 355.1 154.3 357.3 155.6 359.1 158.8 361.6 162.5 363.6 165.8 363.7 176.3 361.7 173.7 364.6 173.4 366.4 174.0 368.4 175.3 369.6 177.8 370.6 180.0 370.8 182.0 370.3 181.9 371.9 182.4 373.6 185.0 375.9 182.0 378.6 180.5 380.8 180.3 383.9 181.3 386.0 185.8 388.8 195.8 390.0 202.8 392.1 205.7 393.4 201.1 395.8 197.6 399.2 197.2 401.0 197.6 403.5 198.3 404.9 199.6 406.1 201.9 406.6 205.7 406.3 210.1 404.9 213.0 403.4 216.5 400.5 217.6 398.4 216.7 395.4 215.5 393.8 214.0 393.0 215.9 392.0 222.8 389.8 225.5 388.3 227.2 386.5 229.5 388.7 233.2 389.5 236.4 388.9 238.6 387.2 240.4 388.5 242.4 388.5 243.8 387.8 245.0 386.4 245.6 384.0 245.4 381.6 244.4 379.8 242.6 378.5 240.1 378.6 237.9 380.9 234.6 379.4 230.8 379.6 228.4 380.8 226.9 383.0 223.8 380.7 219.4 378.8 225.5 378.2 227.2 377.6 228.6 375.9 229.2 373.7 228.8 371.5 227.5 370.2 234.9 369.9 236.6 369.5 239.2 367.2 239.8 365.8 239.7 364.5 238.8 363.0 236.7 361.2 233.4 359.7 224.8 359.3 219.8 359.9 216.9 361.0 220.6 358.4 225.1 354.1 226.9 351.6 227.7 349.5 226.9 347.1 223.7 344.4 220.6 343.5 215.5 342.9 216.7 340.5 216.8 338.7 216.1 337.2 214.2 335.8 216.9 335.0 220.0 331.9 221.4 329.2 222.2 325.3 221.7 322.4 220.6 320.2 219.1 319.0 215.8 317.9 218.2 314.8 218.3 313.0 217.8 310.7 216.0 308.3 211.7 306.8 209.5 306.9 203.5 308.7 201.1 304.7 199.4 303.5 197.4 302.8 197.9 299.9 197.0 297.8 191.7 293.5 188.2 292.6 184.3 292.7 175.2 297.4 171.5 300.1 170.6 301.6 170.1 303.6 168.6 305.6 168.1 308.8 169.2 312.5 172.9 315.0 172.2 318.2 171.4 316.0 169.8 314.6 167.8 314.3 165.7 315.1 164.9 312.6 163.1 310.9 161.0 310.3 158.7 310.8 161.1 304.7 163.9 304.2 165.7 302.0 165.6 298.9 163.5 296.8 161.1 296.5 159.0 297.6 155.5 296.4 152.4 296.6 149.4 298.0 147.7 299.5 146.9 301.3 146.7 303.7 144.2 302.9 141.4 303.9 143.3 300.1 144.2 296.5 143.9 294.0 142.2 292.1 147.1 290.6 150.4 288.8 151.3 287.2 151.8 285.2 151.6 283.8 150.6 282.4 144.0 279.5 138.0 278.0 135.5 278.1 129.3 279.4 123.4 282.5 122.6 284.1 122.6 285.9 123.5 288.4 125.2 290.0 129.2 291.6 133.7 292.4 132.7 294.0 132.2 297.1 129.8 300.6 127.3 299.9 122.3 300.9 116.6 303.7 110.8 307.4 107.4 310.5 105.9 312.7 105.8 315.5ZM176.4 322.2 175.2 324.1 174.8 326.9 175.0 329.4 176.2 331.3 180.6 333.6 188.8 334.3 185.0 337.0 184.3 338.6 184.2 340.6 184.6 342.1 185.8 343.4 191.2 345.8 189.1 347.4 188.2 350.0 188.8 353.5 190.8 356.0 194.3 358.6 205.2 362.2 210.2 362.7 214.7 362.2 212.5 363.9 210.5 367.2 206.9 368.2 203.0 371.3 202.2 373.4 203.0 375.9 200.8 374.9 197.8 374.3 199.6 372.6 200.5 370.3 200.3 368.1 199.0 366.4 197.1 365.2 194.9 364.6 189.7 364.7 190.5 362.4 189.4 359.9 186.8 358.0 183.6 358.0 185.1 354.8 185.3 350.4 184.5 348.1 181.9 344.7 178.6 343.0 175.8 343.1 175.2 341.0 173.3 339.6 166.8 339.2 161.6 337.8 165.0 336.1 166.4 334.4 166.2 331.7 164.3 329.4 161.4 328.5 159.0 328.5 153.8 331.1 147.8 332.0 144.1 334.8 142.6 332.3 139.4 330.5 133.4 330.4 127.5 331.0 121.3 329.8 125.4 328.2 130.7 323.9 135.0 318.1 138.4 310.8 139.6 313.6 142.0 315.0 143.6 315.0 145.2 314.4 146.6 313.3 147.9 311.4 148.9 313.7 151.0 315.1 153.7 315.5 156.0 314.3 156.1 317.3 157.8 319.7 159.4 320.5 161.0 320.7 164.0 319.5 165.0 322.0 166.9 323.4 168.8 323.5 170.6 322.7 171.8 321.1 172.2 318.9 173.5 321.1ZM207.6 332.9 206.2 332.6 204.2 332.2 207.0 332.2ZM219.8 282.0 222.2 283.6 226.8 284.8 232.9 285.3 239.0 284.7 241.3 283.9 242.8 282.4 244.7 278.4 244.7 276.1 242.9 273.8 239.8 273.1 227.1 273.0 221.1 273.4 218.9 274.7 218.0 276.8 218.3 279.2ZM202.9 426.1 206.4 428.0 209.7 428.7 215.0 429.0 223.4 428.4 226.5 427.3 228.7 425.9 229.7 424.2 229.7 421.9 228.1 417.4 223.3 414.1 218.1 412.4 211.5 411.9 203.0 414.5 201.0 415.9 199.3 417.8 198.8 419.4 199.1 421.2 200.9 424.1ZM211.0 295.9 209.7 294.8 208.1 294.2 206.4 294.3 204.8 295.1 203.7 296.4 203.1 298.0 203.2 299.7 204.0 301.3 205.3 302.4 206.9 303.0 208.6 302.9 210.2 302.1 211.3 300.8 211.9 299.2 211.8 297.5ZM211.1 465.6 210.4 462.7 208.5 460.7 205.8 460.0 203.2 460.7 200.8 462.8 199.0 466.0 198.5 469.2 199.2 472.1 200.6 473.7 202.5 474.6 204.5 474.7 206.4 474.1 208.2 472.7 209.8 470.6 210.8 468.2ZM189.6 426.5 188.1 427.3 186.9 428.6 186.3 430.2 186.3 432.2 187.0 433.9 188.2 435.2 189.8 436.0 191.3 436.0 193.7 434.6 194.7 433.0 194.9 431.0 197.4 429.3 198.1 427.8 198.2 426.1 197.6 424.5 196.5 423.3 193.7 422.5 190.9 423.6 190.0 424.9ZM56.7 422.2 61.6 423.4 67.0 426.8 71.9 428.7 78.8 429.2 79.0 432.9 81.7 436.3 84.1 437.5 87.5 438.5 91.3 438.0 92.1 441.0 93.3 443.1 95.1 444.5 98.6 445.9 101.4 446.0 104.1 445.4 111.7 439.2 117.4 439.7 120.7 438.6 122.3 437.1 123.6 438.9 128.8 441.7 125.2 442.7 122.8 444.7 121.9 447.1 122.5 449.7 124.1 451.4 126.3 452.5 129.1 453.2 132.3 453.2 136.4 452.0 138.9 449.7 139.5 447.1 138.6 444.7 141.5 443.9 143.9 440.6 144.0 438.6 142.9 436.3 145.5 437.5 149.6 437.9 148.8 439.2 148.8 440.8 149.6 442.1 150.8 443.0 155.2 443.4 158.8 442.6 159.6 441.6 160.1 440.2 159.8 438.6 159.0 437.6 156.8 436.7 152.8 436.6 156.2 434.5 159.0 431.7 159.9 434.2 161.7 435.8 164.1 436.3 166.5 435.5 168.2 433.4 168.6 430.9 167.6 427.9 165.0 426.2 166.0 423.9 167.6 425.7 169.7 426.7 171.8 426.8 174.0 426.0 175.7 424.5 176.6 422.4 176.8 419.8 176.0 417.6 180.2 419.2 182.8 418.7 184.5 417.0 185.5 415.1 185.5 409.8 188.2 412.1 191.3 412.2 193.6 410.1 194.2 406.6 192.8 402.9 189.9 400.6 188.1 400.4 186.5 400.9 185.3 401.9 184.5 403.4 182.6 393.8 181.6 391.5 178.5 388.6 176.7 388.3 175.0 389.0 174.5 386.1 172.2 384.0 173.9 382.3 175.0 380.3 175.6 378.1 175.6 375.3 174.6 372.1 172.6 369.7 169.5 368.3 166.0 368.7 163.3 370.8 161.6 374.3 161.3 377.6 162.1 380.6 163.8 383.1 166.3 384.8 165.1 386.4 164.8 388.0 165.6 390.8 167.6 392.4 166.2 393.7 164.0 391.4 159.9 389.3 157.7 389.0 155.4 389.7 157.4 387.3 158.3 385.3 158.3 383.7 157.5 381.3 155.3 378.8 157.4 378.0 158.7 376.2 159.1 373.5 158.4 371.6 154.0 368.8 147.4 367.8 142.7 369.4 140.9 371.2 140.6 372.9 140.9 374.8 143.4 377.7 140.9 378.8 139.1 381.0 137.9 379.1 136.2 377.9 133.9 377.5 131.4 377.9 129.8 378.9 128.8 380.3 128.4 381.9 128.6 383.5 130.4 385.8 133.2 386.7 136.2 386.3 138.5 384.5 138.5 386.7 139.2 388.5 140.8 390.6 142.3 391.5 147.7 391.9 153.2 390.9 152.1 393.6 152.9 397.2 159.7 404.0 162.7 405.4 164.9 405.7 166.5 412.0 169.5 415.0 166.9 416.5 165.4 419.1 164.6 418.2 165.7 414.3 165.6 410.4 163.7 407.5 160.9 405.4 157.4 404.6 153.1 404.6 148.2 406.3 146.0 408.7 144.2 405.1 141.2 403.1 137.5 402.8 134.3 404.2 136.0 399.5 136.8 392.2 135.6 389.5 132.7 387.2 130.9 386.8 128.5 387.1 126.6 387.9 125.5 389.0 120.2 398.2 118.2 405.3 117.1 406.5 106.7 404.5 106.3 403.8 111.2 403.5 113.0 402.3 114.4 400.5 115.1 398.7 115.1 396.6 114.5 393.2 113.4 391.4 111.0 389.4 108.5 388.1 103.5 386.9 98.8 386.8 95.1 387.3 91.9 389.1 90.7 391.6 89.7 397.3 90.2 398.9 91.7 400.2 99.6 401.5 84.0 408.3 82.1 409.8 81.5 412.0 79.1 409.5 76.8 407.8 72.2 406.1 68.9 405.7 71.5 403.0 71.8 401.6 71.6 400.2 70.4 398.3 68.7 396.9 64.0 396.5 64.8 393.9 63.5 391.6 61.7 390.7 59.5 390.4 57.1 390.7 55.3 391.6 54.1 393.3 54.1 395.3 55.7 397.3 58.7 398.2 56.9 400.1 56.5 403.0 57.3 405.3 59.7 407.3 55.4 410.0 53.4 412.8 52.7 415.3 54.2 419.8 55.5 421.4ZM149.5 421.7 141.4 430.0 140.9 432.0 141.4 434.2 137.4 430.9 133.8 429.7 137.0 427.7 138.6 424.7 138.0 421.6 136.7 420.3 135.1 419.5 132.7 419.1 130.1 419.5 127.9 420.4 126.0 421.9 124.7 424.1 124.7 426.6 126.0 428.7 128.1 429.9 124.2 431.9 123.5 429.5 121.2 426.7 119.0 425.7 115.4 425.2 117.2 421.9 117.4 419.0 122.6 419.1 127.5 418.1 130.6 415.8 131.7 412.7 133.1 415.5 135.7 417.6 138.2 418.3 140.9 418.0 141.7 420.1 143.9 421.3ZM107.0 416.5 108.0 416.6 107.0 416.7ZM95.9 430.5 95.7 430.6 95.6 430.3ZM92.6 426.1 90.1 425.0 84.5 424.8 85.0 422.2 84.0 417.1 90.1 419.9ZM190.9 471.3 189.2 469.9 187.2 469.3 185.1 469.4 183.1 470.3 181.6 471.9 180.9 474.0 181.0 476.0 181.9 477.9 183.6 479.4 185.6 480.1 187.9 480.0 189.9 479.1 191.4 477.5 192.1 475.4 191.9 473.2ZM177.0 444.3 175.2 442.1 172.9 441.0 170.3 441.1 168.1 442.3 166.5 444.6 165.9 447.7 166.4 450.7 167.9 453.0 169.7 454.3 171.6 454.7 173.5 454.4 175.5 453.3 176.8 451.5 177.6 449.2 177.7 446.7ZM157.7 450.4 155.8 449.8 153.5 449.9 151.3 450.7 149.5 452.2 148.3 454.3 148.0 456.3 148.5 458.1 149.8 459.9 151.9 461.0 154.5 461.2 157.3 460.4 159.3 458.8 160.6 456.5 160.7 454.1 159.6 451.8ZM131.2 471.6 141.0 474.2 143.6 474.0 145.5 472.6 146.7 470.4 146.8 468.1 146.2 465.1 144.3 463.0 135.7 459.9 133.5 459.6 131.5 460.1 129.5 461.7 128.7 464.3 129.3 469.3 130.2 470.8ZM118.7 349.8 119.5 353.3 120.6 355.3 122.9 356.9 125.1 357.6 127.6 357.1 131.6 353.1 134.5 351.7 130.3 362.6 130.2 365.5 131.2 368.0 132.8 369.2 135.8 369.5 138.1 368.3 142.2 360.1 144.2 353.8 143.8 351.1 142.8 349.3 141.0 348.3 138.9 348.3 139.6 346.0 138.7 344.0 136.6 343.0 132.4 342.2 124.5 342.4 120.8 343.8 119.5 344.8 118.6 347.0ZM130.3 371.5 128.6 370.4 126.8 370.0 123.2 370.7 121.8 371.9 121.0 373.4 120.8 375.0 121.4 376.9 122.9 378.5 124.9 379.3 127.3 379.4 129.2 378.7 130.7 377.4 131.6 375.5 131.4 373.4ZM119.0 361.5 115.7 360.1 112.1 360.9 110.8 362.2 110.1 363.6 110.1 365.2 110.7 366.7 112.1 368.1 114.0 368.8 116.2 368.9 118.3 368.1 119.7 366.7 120.3 364.8 120.1 363.1ZM50.1 337.3 54.2 339.0 63.7 339.4 61.0 340.7 59.6 342.2 58.9 344.6 59.4 346.6 60.9 348.6 62.8 349.8 66.7 350.8 69.5 350.6 73.4 349.6 75.2 347.7 76.1 344.5 74.8 341.3 77.7 340.3 80.1 336.7 80.2 334.9 79.2 332.2 83.2 333.2 82.0 335.4 81.8 338.9 82.9 341.5 85.1 343.1 89.5 344.0 93.7 344.0 104.5 341.9 102.9 342.9 102.0 344.2 101.4 348.6 103.1 353.1 105.3 355.1 107.6 355.9 109.7 355.3 112.1 352.6 113.3 349.8 113.7 345.6 113.2 343.6 110.9 341.7 107.7 340.9 109.0 339.6 110.1 337.1 110.3 335.2 109.7 333.5 107.3 330.7 103.6 329.9 100.8 328.2 98.8 327.7 100.8 324.8 101.3 322.7 101.1 320.9 99.3 319.0 95.1 317.7 90.2 317.8 80.2 319.5 72.3 319.0 62.6 319.0 57.3 320.3 55.2 322.3 54.6 325.1 55.8 327.1 58.9 328.7 53.7 329.5 50.0 331.2 49.1 332.6 48.8 334.6 49.1 336.0ZM111.3 467.1 110.1 465.6 108.3 464.7 106.3 464.6 104.4 465.4 103.1 466.8 102.3 468.9 102.4 471.0 103.2 472.7 104.5 474.1 106.3 474.8 107.9 474.8 109.8 474.0 111.1 472.6 111.8 470.8 111.9 468.9ZM105.1 450.9 104.0 449.5 102.2 448.7 100.3 448.8 98.7 449.8 97.7 451.4 97.3 453.4 97.6 455.4 98.6 457.1 101.3 458.3 102.8 458.1 104.3 457.2 105.7 454.2ZM87.0 313.7 90.8 314.3 94.3 313.5 96.1 311.2 95.8 308.7 94.3 307.3 92.0 306.6 89.1 306.5 86.5 307.3 85.0 308.7 84.6 310.6 85.2 312.4ZM94.9 462.7 93.9 461.3 92.3 460.3 90.4 460.2 88.7 461.0 87.4 462.4 86.8 464.3 86.9 466.4 87.7 468.1 88.9 469.2 90.4 469.8 91.9 469.8 93.5 469.0 94.7 467.7 95.3 466.1ZM70.9 359.7 72.2 361.7 74.7 363.5 70.6 366.2 69.0 368.5 69.0 370.5 69.8 373.1 71.8 375.8 77.5 377.6 81.8 378.0 84.5 377.6 86.3 378.8 88.7 379.4 91.9 378.8 94.3 376.9 95.1 375.0 95.2 373.2 94.6 371.6 93.3 370.1 91.4 368.9 89.0 368.6 86.8 368.9 84.8 370.1 79.1 363.7 81.5 363.6 84.4 364.1 86.9 366.7 90.0 368.4 91.7 368.4 93.3 367.5 94.8 365.0 95.1 362.6 92.5 359.1 93.0 356.8 92.8 355.1 90.3 351.8 88.4 350.9 83.2 350.2 76.8 350.3 74.6 350.9 72.4 352.3 71.0 354.2 70.6 357.0ZM74.4 464.8 75.9 466.1 77.9 467.0 80.2 467.1 82.3 466.6 83.9 465.7 85.2 464.1 85.7 462.2 85.5 460.4 83.7 458.2 81.1 457.0 78.4 456.9 76.0 457.8 74.3 456.4 72.0 455.9 68.7 456.9 67.4 458.3 66.8 459.9 66.9 461.8 67.6 463.3 68.9 464.5 70.7 465.2 72.5 465.3ZM42.2 456.9 44.7 458.5 48.9 459.4 57.2 459.0 61.6 458.2 64.7 457.1 66.0 455.6 66.4 453.1 65.5 450.6 68.1 450.7 72.6 449.4 72.8 452.1 74.5 454.6 77.1 456.0 80.3 456.1 82.5 455.3 84.3 453.7 85.3 451.8 85.4 449.6 84.1 446.8 81.7 445.1 78.5 444.6 75.5 445.5 75.5 443.1 74.9 441.2 73.3 438.7 71.9 437.6 64.4 436.0 56.0 436.0 52.9 437.3 51.5 439.2 51.6 441.9 53.0 445.4 45.8 445.5 43.6 446.6 41.2 448.8 40.5 450.3 40.5 451.9ZM72.4 382.1 70.4 381.8 68.2 382.2 66.0 383.4 64.4 385.0 63.5 386.8 63.3 388.8 63.8 390.5 65.3 392.2 68.3 393.2 71.6 392.4 74.6 390.0 75.7 386.6 78.2 387.8 81.2 387.5 83.7 385.5 84.7 382.8 84.5 381.1 83.6 379.8 82.4 378.8 80.5 378.3 78.4 378.6 76.4 379.7 75.0 381.5 74.5 383.5ZM68.7 466.6 67.2 464.9 65.1 464.0 62.8 463.9 60.7 464.8 59.0 466.3 58.1 468.4 58.0 470.7 58.9 472.8 60.4 474.5 62.5 475.4 64.8 475.5 66.9 474.6 68.6 473.1 69.5 471.0 69.6 468.7ZM51.0 307.6 47.7 308.2 46.1 309.5 45.8 312.0 47.2 313.9 48.7 314.4 53.0 314.3 56.5 315.1 61.2 314.0 62.9 312.2 63.4 309.8 62.6 307.9 60.1 306.1 62.7 305.5 64.5 304.0 65.2 301.9 64.8 299.8 63.5 298.3 61.4 297.4 59.2 297.3 57.2 297.9 55.4 299.5 54.8 301.5 55.2 303.6 57.1 305.4 53.7 306.0ZM52.5 391.5 49.7 390.4 46.4 391.1 44.6 393.2 44.5 394.6 44.9 396.1 46.2 397.4 48.0 398.1 50.0 398.2 52.0 397.5 53.2 396.4 53.9 394.6 53.7 393.0ZM51.3 430.5 50.0 429.5 48.2 428.8 44.5 429.4 43.1 430.5 42.3 431.8 42.1 433.4 42.5 435.0 43.8 436.5 45.6 437.4 47.7 437.6 49.9 437.0 51.4 435.8 52.3 434.1 52.3 432.3ZM29.1 337.0 31.2 337.9 38.6 338.5 42.4 338.4 44.5 337.4 45.9 336.0 46.4 334.6 46.1 332.1 44.8 330.4 47.3 327.4 47.5 325.8 46.9 324.4 43.7 321.9 39.3 320.9 32.5 320.6 29.5 321.5 28.2 323.2 27.8 325.5 28.3 328.5 30.0 330.4 28.5 331.6 27.9 333.3 28.0 335.3ZM43.9 303.7 42.4 302.3 40.6 301.6 38.7 301.5 36.8 302.1 35.3 303.4 34.5 305.0 34.3 306.7 34.9 308.7 36.2 310.2 38.2 311.2 40.3 311.3 42.2 310.7 43.7 309.4 44.6 307.6 44.7 305.5Z" fill="#e2c6c6" filter="url(#bl2)"/><path d="M243.4 293.8 242.8 293.1 242.0 292.8 241.2 292.9 240.5 293.6 240.1 295.7 240.4 296.7 241.0 297.4 242.2 297.6 243.3 296.8 243.7 295.4ZM243.3 381.7 242.5 380.7 241.5 380.4 240.5 380.7 239.8 381.6 239.4 382.9 239.4 384.4 239.9 385.6 240.7 386.4 242.1 386.5 243.2 385.4 243.6 383.5ZM221.4 280.8 223.1 281.8 227.8 283.0 233.8 283.3 238.5 282.8 240.3 282.2 241.1 281.3 242.4 278.9 242.8 276.5 241.8 275.4 239.5 275.1 227.2 275.0 221.5 275.4 220.4 276.0 219.9 277.2 220.5 279.4ZM206.4 376.5 208.6 377.0 213.6 377.3 225.9 376.0 226.6 375.4 227.1 374.3 227.0 372.3 226.2 371.7 222.6 370.5 225.4 368.8 227.1 368.2 229.8 367.8 235.4 367.8 237.4 366.3 237.7 364.9 235.5 362.7 233.1 361.7 226.2 361.2 221.1 361.7 219.3 362.2 214.5 364.7 211.8 368.8 207.8 370.0 204.5 372.5 204.2 373.3 204.4 374.4 205.3 375.6ZM236.8 382.6 235.8 381.9 234.3 381.4 232.6 381.3 231.1 381.6 230.0 382.1 229.1 383.0 228.7 384.1 228.8 385.2 229.7 386.5 231.1 387.2 233.1 387.5 235.1 387.2 236.5 386.5 237.4 385.2 237.5 383.8ZM204.1 424.6 206.5 425.9 208.8 426.6 214.9 427.0 220.7 426.7 223.9 426.2 226.6 425.0 227.7 424.0 227.8 422.3 227.3 420.2 226.5 418.6 222.4 415.9 219.1 414.6 211.9 413.9 207.6 415.0 203.8 416.4 201.3 418.4 200.8 419.5 201.0 420.5 202.6 422.9ZM191.0 353.2 194.3 356.4 198.0 357.8 206.6 360.4 212.8 360.6 215.5 359.5 220.0 356.3 224.2 352.1 225.5 350.1 225.6 349.0 224.8 347.7 222.8 346.2 218.9 345.3 215.0 344.8 208.1 344.8 198.5 345.5 194.9 346.2 190.8 348.5 190.4 349.3 190.2 350.7 190.4 352.1ZM182.9 384.8 186.3 386.8 193.2 387.4 198.4 388.6 205.1 390.8 208.0 392.4 209.4 392.8 210.5 392.6 215.1 390.1 221.9 388.1 224.8 386.2 225.6 385.0 225.3 384.2 224.0 383.2 219.2 380.8 206.4 379.6 204.9 379.2 200.2 376.8 194.2 376.1 188.3 376.9 185.5 378.0 183.4 380.0 182.4 381.5 182.2 383.5ZM172.0 304.9 170.9 305.6 170.1 307.5 170.2 309.8 170.9 311.4 173.6 313.1 175.5 313.2 178.7 312.7 175.1 315.2 174.3 317.2 174.4 319.2 175.1 319.7 176.9 320.3 181.0 320.9 178.0 323.4 176.9 325.4 177.0 329.1 178.8 330.7 181.7 331.8 187.9 332.3 196.1 331.6 202.8 330.3 207.4 330.2 208.1 330.5 210.5 333.0 214.4 333.8 215.2 333.7 216.4 332.8 218.9 330.0 219.8 327.5 220.2 324.9 219.5 322.2 218.2 320.8 213.6 319.6 206.8 320.2 200.1 318.9 195.5 318.3 199.4 317.5 201.9 318.8 206.1 319.5 210.8 318.7 213.1 317.7 215.3 315.6 216.2 314.2 216.2 312.3 215.7 310.9 215.2 310.2 213.2 309.3 210.9 308.8 203.9 310.7 202.5 310.8 199.9 306.3 198.4 305.2 197.2 304.8 195.7 305.1 190.5 308.0 193.9 305.0 195.3 302.6 195.9 300.5 195.8 299.6 194.7 298.2 191.0 295.4 189.1 294.8 186.0 294.5 182.8 295.5 173.9 300.6 172.4 302.3ZM200.9 404.4 205.6 404.3 211.1 402.3 215.3 398.8 215.6 397.8 215.1 396.6 213.7 395.0 210.0 394.2 207.7 394.8 203.8 396.4 200.6 398.8 199.4 400.2 199.2 401.5 199.6 403.1 200.2 404.1ZM186.6 341.4 189.0 342.9 192.6 344.0 198.7 344.8 205.9 344.6 209.9 344.0 212.5 343.1 214.2 341.3 214.9 339.5 214.7 338.8 214.0 338.1 208.4 335.2 202.6 334.0 198.9 333.8 191.8 335.2 188.0 337.1 186.4 338.7 186.2 340.0ZM209.4 297.1 207.8 296.2 206.0 296.7 205.1 298.3 205.6 300.1 207.2 301.0 209.0 300.5 209.9 298.9ZM209.1 465.6 208.5 463.5 207.2 462.3 205.5 462.0 203.4 463.0 201.7 464.8 200.7 467.3 200.6 469.8 201.4 471.7 202.4 472.5 203.6 472.8 204.9 472.6 206.2 471.8 207.3 470.8 208.4 469.1 208.9 467.5ZM196.3 367.0 194.5 366.5 191.9 366.4 189.8 366.8 187.3 367.6 185.6 368.6 184.5 369.7 183.9 371.0 184.0 372.3 184.5 373.2 185.6 374.0 188.5 374.8 191.9 374.6 195.1 373.6 197.5 372.0 198.5 370.2 198.1 368.4ZM195.8 425.4 194.2 424.5 192.5 424.9 191.6 426.5 192.0 428.2 193.6 429.1 195.3 428.7 196.2 427.1ZM192.6 429.7 191.9 428.8 190.9 428.4 189.9 428.5 189.0 429.1 188.4 430.1 188.3 431.4 188.5 432.5 189.2 433.5 190.7 434.0 192.2 433.3 192.9 431.7ZM190.8 403.5 189.4 402.6 188.1 402.4 186.9 403.1 186.2 404.5 186.2 406.3 186.8 408.1 188.0 409.6 189.4 410.4 191.2 410.0 192.2 408.3 192.0 405.8ZM189.3 472.5 188.5 471.8 187.1 471.3 185.7 471.3 184.4 471.9 183.4 472.8 182.9 474.1 182.9 475.3 183.4 476.6 184.4 477.5 185.7 478.1 187.3 478.1 188.6 477.5 189.7 476.4 190.1 475.1 190.0 473.7ZM176.3 367.9 178.4 368.7 179.8 368.8 184.8 366.9 186.2 365.9 187.9 363.9 188.5 362.8 188.4 361.8 187.1 360.5 185.9 359.9 183.4 360.1 180.8 360.8 175.8 364.9 175.5 366.7ZM154.7 396.3 161.3 402.6 164.4 403.7 167.0 402.8 167.0 405.9 168.1 410.5 168.9 411.9 170.5 413.2 173.3 414.8 180.5 417.2 181.8 417.0 182.8 415.9 183.5 414.7 183.8 413.2 183.0 406.1 180.4 393.5 179.6 392.1 178.4 390.8 177.3 390.3 176.5 390.4 172.7 393.0 169.5 393.8 168.2 394.4 167.6 395.5 167.4 399.6 166.3 397.2 163.5 393.6 161.6 392.3 159.0 391.1 157.1 391.2 154.5 392.5 154.1 394.3ZM156.5 357.1 159.9 360.0 163.8 361.8 171.3 360.8 179.2 358.9 181.2 357.9 182.9 355.2 183.3 353.1 183.1 349.8 181.9 347.8 180.4 346.0 178.2 344.9 176.8 344.9 172.6 348.5 168.4 350.8 167.0 351.2 161.0 351.4 157.2 352.8 156.4 353.6 156.0 354.9 156.1 356.2ZM175.1 445.2 174.0 443.7 172.3 442.9 170.5 443.1 169.0 444.3 168.1 446.0 167.9 448.3 168.5 450.4 169.6 451.9 170.9 452.6 172.1 452.7 173.4 452.3 174.6 451.3 175.3 450.0 175.7 448.3 175.7 446.8ZM174.0 418.3 172.8 417.2 171.3 416.8 169.8 416.9 168.5 417.7 167.6 419.0 167.2 420.5 167.4 422.3 168.2 423.6 169.5 424.5 170.9 424.8 172.2 424.7 173.5 423.9 174.4 422.7 174.8 421.2 174.7 419.7ZM144.5 339.8 145.7 341.3 147.4 342.4 152.9 343.1 157.0 344.5 162.3 345.8 167.7 347.8 172.6 347.5 173.4 347.1 173.8 346.3 173.8 342.9 173.1 341.7 171.1 341.2 166.6 341.2 163.9 340.6 161.3 339.9 159.1 338.4 160.2 336.3 163.8 334.5 164.5 333.8 164.5 332.8 163.8 331.5 161.7 330.6 159.5 330.4 154.2 333.1 149.5 333.6 148.1 334.1 145.1 336.7 144.5 338.3ZM172.6 372.7 171.0 371.0 168.6 370.3 166.4 370.8 164.4 372.6 163.5 374.9 163.3 377.9 164.1 380.3 165.9 382.3 167.5 383.0 169.5 383.0 171.1 382.3 172.6 380.8 173.4 379.1 173.7 376.7 173.5 374.8ZM172.5 386.7 170.7 385.5 168.4 385.8 167.5 386.5 166.9 387.3 167.0 389.2 167.7 390.1 168.8 390.8 170.1 390.9 171.4 390.6 172.4 389.8 173.0 388.8 173.0 387.7ZM169.8 317.3 169.1 316.6 168.3 316.3 167.4 316.4 166.6 317.1 166.1 318.0 166.0 319.2 166.3 320.3 167.0 321.2 168.4 321.5 169.6 320.7 170.2 319.1ZM166.1 429.3 165.1 428.4 164.0 428.1 162.9 428.2 161.8 429.0 161.2 430.0 161.0 431.3 161.3 432.6 161.9 433.6 162.9 434.2 163.9 434.3 164.9 434.1 165.8 433.4 166.6 431.4ZM144.4 434.9 146.1 435.5 148.9 435.9 151.4 435.1 154.8 433.0 163.7 424.7 164.1 423.1 163.9 420.6 163.1 419.6 161.5 418.9 162.5 417.9 163.3 416.2 163.8 412.9 163.7 411.1 162.2 408.9 160.2 407.3 158.3 406.8 154.4 406.4 149.3 408.0 148.1 409.2 143.3 416.8 142.9 417.8 143.0 418.5 144.3 419.4 146.4 419.7 155.5 419.8 149.2 424.6 143.2 431.0 142.9 431.8 143.0 432.8ZM163.6 299.5 162.3 298.5 160.7 298.8 159.7 300.1 160.0 301.7 161.3 302.7 162.9 302.4 163.9 301.1ZM163.1 313.5 162.2 312.6 161.0 312.3 159.9 312.4 158.7 313.2 158.1 314.2 157.9 315.6 158.2 317.0 158.9 317.9 159.9 318.6 160.9 318.7 161.9 318.5 162.9 317.8 163.7 315.8ZM149.1 308.2 149.9 311.1 150.7 312.7 152.8 313.5 153.9 313.4 154.5 313.0 157.0 309.7 158.9 305.5 158.9 302.1 158.1 299.4 156.0 298.5 153.6 298.4 151.2 299.3 149.6 300.4 149.0 301.2 148.7 303.0ZM156.8 452.1 155.6 451.8 153.9 451.9 152.3 452.4 151.1 453.4 150.4 454.5 150.0 455.8 150.2 457.1 151.0 458.2 152.5 459.0 154.4 459.2 156.1 458.7 157.7 457.6 158.6 456.2 158.7 454.6 158.2 453.3ZM153.7 441.4 157.4 441.1 158.0 440.4 158.0 439.5 157.3 438.9 155.1 438.6 152.3 438.7 151.0 439.2 150.7 440.1 151.1 440.9ZM142.9 374.2 143.9 375.5 145.4 376.6 150.3 377.3 156.0 376.6 156.8 375.5 157.1 373.7 156.5 372.5 153.8 370.9 150.5 370.1 147.5 369.8 145.1 370.5 143.1 371.5 142.6 372.5ZM140.6 386.8 141.7 388.7 142.8 389.6 146.1 390.0 149.4 389.7 152.5 389.1 153.8 388.4 156.0 385.6 156.3 384.3 155.2 381.4 153.5 380.2 150.3 379.4 143.5 379.7 141.9 380.6 140.9 381.9 140.4 384.9ZM154.2 349.5 152.6 348.6 150.8 349.1 149.9 350.7 150.4 352.5 152.0 353.4 153.8 352.9 154.7 351.3ZM125.4 287.7 127.5 288.9 130.7 289.9 135.9 290.7 139.0 290.6 143.7 289.7 148.1 288.0 149.4 286.7 149.8 284.8 149.4 284.0 148.6 283.5 143.3 281.4 138.6 280.1 135.9 280.0 129.8 281.4 125.3 283.5 124.7 284.1 124.5 284.9 124.7 286.2ZM146.6 307.8 146.2 306.1 145.2 305.1 143.9 304.9 142.4 305.6 141.2 307.0 140.5 308.8 140.4 310.7 141.1 312.3 141.8 312.9 142.8 313.1 144.6 312.4 146.1 310.4ZM132.3 469.9 141.5 472.3 142.5 472.3 143.8 471.4 144.8 469.9 144.4 465.9 143.8 465.1 142.7 464.5 139.7 463.7 134.9 461.7 132.9 461.7 131.2 462.8 130.7 464.1 131.2 468.5 131.6 469.3ZM143.4 407.3 141.8 405.6 139.8 404.8 137.7 404.8 135.7 405.7 134.2 407.3 133.4 409.9 133.6 412.2 134.6 414.2 136.3 415.7 138.2 416.3 139.9 416.2 141.9 415.3 143.3 413.8 144.1 411.7 144.2 409.4ZM137.0 351.3 132.2 363.1 132.1 365.0 133.0 367.1 133.9 367.5 135.3 367.6 136.5 367.1 137.5 365.6 141.9 355.4 142.1 353.0 141.2 350.6 140.5 350.3 139.1 350.3ZM108.5 316.6 110.2 317.0 113.4 316.8 124.3 310.2 116.4 318.5 115.6 320.1 115.1 324.2 115.3 325.5 116.0 326.8 117.8 328.2 121.7 327.6 124.4 326.4 129.2 322.6 133.7 316.4 136.0 311.7 138.1 305.7 141.4 299.5 142.2 296.3 141.9 294.5 140.7 293.4 139.0 292.6 136.0 293.4 134.7 294.5 134.0 298.1 129.7 303.9 128.8 302.4 128.0 302.0 123.8 302.5 118.3 305.0 112.8 308.4 109.8 311.0 107.8 313.2 107.8 315.1ZM124.3 436.7 125.5 437.8 132.1 441.1 135.7 442.3 139.8 442.6 141.3 441.3 142.1 439.8 142.1 439.1 141.5 437.8 139.3 434.8 136.5 432.6 134.8 431.8 130.5 431.7 127.8 432.1 124.7 434.2 124.2 435.4ZM117.5 339.9 121.9 340.4 127.4 339.1 134.2 339.1 139.0 338.6 139.9 338.3 140.9 337.4 142.0 335.8 142.1 335.0 140.9 333.5 138.8 332.4 132.7 332.5 127.3 333.0 122.0 331.8 119.0 332.1 117.6 332.5 116.3 333.5 114.7 335.0 113.9 336.2 114.1 337.1 115.0 338.3ZM120.7 349.6 121.4 352.5 122.0 354.0 123.9 355.2 126.1 355.6 127.0 355.1 130.4 351.5 135.8 348.7 137.3 347.1 137.6 346.1 136.9 345.2 132.9 344.3 125.8 344.2 123.3 344.9 121.1 346.0 120.6 347.3ZM135.9 444.9 134.3 444.1 132.0 443.6 127.6 443.9 126.0 444.6 124.7 445.5 124.0 446.6 123.9 447.9 125.1 449.7 127.6 450.8 130.7 451.2 133.8 450.9 136.2 449.7 137.4 448.3 137.3 446.4ZM136.4 380.4 134.4 379.5 132.0 379.8 130.6 381.2 130.4 382.0 130.6 383.0 131.4 384.0 132.6 384.6 134.2 384.7 135.6 384.4 136.6 383.6 137.2 382.6 137.1 381.5ZM134.8 421.5 133.5 421.2 131.7 421.2 128.5 422.3 127.3 423.4 126.7 424.5 126.6 425.7 126.9 426.7 128.1 427.8 130.2 428.3 132.5 428.0 134.7 427.1 136.1 425.6 136.7 424.1 136.2 422.6ZM86.3 416.2 91.1 418.2 91.9 418.9 93.9 423.3 95.3 427.5 98.4 429.6 99.3 429.7 100.7 429.4 102.4 428.6 103.5 427.5 104.1 425.4 104.6 420.7 105.4 424.4 106.1 425.7 107.2 426.2 109.3 426.5 111.4 425.7 114.4 423.4 115.3 421.1 115.3 419.1 114.7 418.6 113.7 418.4 110.1 418.5 105.6 418.9 104.7 419.6 105.2 414.5 108.3 414.5 113.7 416.5 119.7 417.2 125.5 416.7 128.0 415.5 129.3 414.0 130.0 410.0 134.0 399.2 134.8 393.0 134.4 391.3 133.3 390.0 131.5 388.9 129.6 388.9 127.5 389.8 125.0 393.5 121.6 400.0 120.0 406.1 118.9 407.5 117.7 408.5 112.6 407.9 107.8 406.5 105.4 406.7 103.9 403.7 103.2 403.1 102.4 402.9 98.9 403.8 93.5 406.5 88.1 408.5 84.3 410.4 83.8 411.0 83.5 411.9 83.9 414.3ZM128.8 372.9 126.8 372.0 124.4 372.4 122.9 373.8 122.9 375.6 123.8 376.7 125.0 377.3 126.6 377.4 128.0 377.0 129.1 376.2 129.6 375.2 129.6 374.1ZM95.2 442.1 99.1 443.9 102.6 443.8 103.9 443.2 107.5 439.8 110.8 437.4 111.8 437.2 116.5 437.8 119.2 437.1 120.4 436.3 121.2 435.0 122.2 432.5 122.1 431.1 120.1 428.3 117.8 427.5 113.1 427.2 102.8 428.5 100.2 431.0 96.0 432.7 93.4 435.8 93.2 437.2 93.6 439.2 94.3 441.1ZM117.6 362.9 115.7 362.1 113.6 362.4 112.2 363.7 112.2 365.3 113.0 366.3 114.1 366.8 115.5 366.9 116.8 366.6 117.8 365.9 118.3 364.9 118.3 363.9ZM95.1 398.9 99.0 399.1 105.6 401.6 108.3 401.9 110.5 401.7 112.1 400.3 113.1 398.5 112.7 394.1 112.0 392.8 110.7 391.6 108.7 390.3 107.0 389.8 102.2 388.8 97.9 388.8 95.8 389.2 93.9 390.0 93.2 390.7 91.7 396.7 91.8 397.6 92.2 398.2ZM103.5 349.1 104.4 351.3 105.3 352.7 107.1 353.7 108.4 353.7 109.9 352.2 111.1 350.2 111.7 346.5 111.5 344.6 110.0 343.4 108.2 342.9 105.1 343.8 104.1 344.5 103.7 345.3 103.3 347.4ZM109.5 468.0 108.7 467.1 107.6 466.6 106.5 466.6 105.3 467.3 104.6 468.2 104.3 469.5 104.4 470.8 105.0 471.9 105.9 472.6 106.9 472.8 107.9 472.7 108.9 472.1 109.9 470.2ZM83.7 338.5 84.6 340.3 86.0 341.3 89.8 342.1 95.2 341.8 106.4 339.3 107.6 338.0 108.3 335.4 107.6 333.8 106.3 332.4 102.8 331.8 99.9 330.0 98.0 329.8 90.3 331.5 85.9 333.7 84.6 334.6 84.2 335.3ZM103.3 451.8 102.6 451.0 101.6 450.7 100.6 450.9 99.8 451.6 99.3 452.7 99.3 454.0 99.7 455.2 100.4 456.0 101.9 456.3 103.2 455.4 103.7 453.7ZM57.0 325.5 59.2 326.7 61.8 327.4 66.7 328.2 73.4 328.9 84.9 331.5 87.1 331.6 89.5 331.2 91.3 330.4 94.1 328.9 96.4 327.2 98.5 325.2 99.2 323.4 99.3 322.0 99.0 321.2 98.3 320.7 93.8 319.6 87.0 320.3 80.3 321.5 72.2 320.9 62.7 320.9 59.8 321.5 57.6 322.4 56.6 324.2ZM87.9 311.9 90.0 312.3 92.4 312.1 93.9 311.3 94.2 310.1 93.6 309.2 92.1 308.6 90.1 308.5 88.4 308.7 87.1 309.3 86.6 310.2 86.8 311.2ZM81.0 432.4 83.4 435.1 85.8 436.0 88.5 436.5 90.9 436.0 93.0 434.9 93.6 433.7 93.8 431.6 93.0 429.7 90.7 427.3 88.9 426.8 85.6 426.7 83.5 427.2 81.1 428.7 80.6 430.4ZM93.1 463.5 92.4 462.6 91.4 462.2 90.4 462.3 89.5 462.9 88.9 463.9 88.8 465.2 89.0 466.3 89.7 467.3 91.2 467.8 92.7 467.1 93.4 465.5ZM72.8 374.1 76.1 375.3 81.5 376.0 84.3 375.6 85.0 374.5 85.5 375.7 86.5 376.7 87.6 377.2 89.1 377.4 90.7 377.2 92.0 376.4 92.9 375.3 93.2 373.9 92.9 372.7 92.0 371.6 90.7 370.8 89.1 370.6 87.5 370.8 86.2 371.6 85.3 372.7 85.0 374.1 83.5 371.6 80.5 368.0 78.2 365.5 76.9 364.9 75.6 365.2 73.5 366.4 71.0 368.7 70.9 369.8 71.4 371.5 72.1 373.2ZM72.8 359.2 74.2 360.8 76.0 361.8 81.6 361.6 85.4 362.4 88.0 365.0 90.7 366.5 91.9 366.1 93.1 363.8 92.8 362.4 90.4 359.6 91.0 356.9 90.8 355.7 89.3 353.6 87.9 352.9 82.1 352.1 76.9 352.3 75.4 352.7 73.7 353.8 72.9 354.9 72.6 357.1ZM82.8 460.0 80.4 458.9 77.7 459.2 76.5 459.9 75.8 460.8 75.5 461.9 75.6 462.9 76.5 464.1 78.0 464.9 79.9 465.1 81.5 464.8 82.9 463.9 83.7 462.6 83.6 461.3ZM82.4 448.0 81.4 447.1 79.8 446.6 78.1 446.6 76.6 447.1 75.4 448.2 74.7 449.3 74.6 450.7 74.9 452.0 75.9 453.2 77.7 454.1 79.5 454.2 81.4 453.7 82.7 452.5 83.4 451.1 83.3 449.6ZM57.6 420.4 62.4 421.6 67.8 425.0 71.6 426.5 74.2 427.1 77.9 427.3 79.9 427.0 81.7 425.4 82.9 423.2 82.9 421.5 82.1 417.8 80.9 414.8 79.7 413.0 76.5 410.0 70.8 407.9 64.0 407.9 59.4 409.7 57.1 411.2 55.3 413.6 54.7 415.3 55.8 418.6 56.7 419.9ZM80.9 380.4 78.8 380.6 77.0 382.0 76.5 383.9 76.8 384.8 77.5 385.5 78.7 385.9 80.0 385.8 81.2 385.2 82.2 384.2 82.7 383.0 82.6 381.9 82.0 381.0ZM51.4 335.8 54.5 337.0 60.0 337.0 65.9 337.6 70.1 339.2 72.3 339.4 76.0 339.0 77.4 337.6 78.2 335.7 77.4 333.0 76.0 331.5 72.3 330.4 68.3 330.3 58.2 330.8 53.4 331.7 51.7 332.4 51.1 333.0 50.8 334.6ZM74.3 458.9 72.4 457.9 70.2 458.3 68.9 459.8 69.0 461.7 69.8 462.6 71.0 463.2 72.2 463.3 73.6 462.9 74.5 462.1 75.0 461.1 75.0 460.0ZM61.1 345.7 63.2 347.8 66.1 348.7 68.2 348.8 72.6 347.7 73.7 346.2 74.1 344.4 73.3 342.6 71.8 341.2 68.9 340.8 66.1 340.7 63.7 341.6 61.6 342.8 61.0 344.1ZM71.7 384.0 70.5 383.8 69.0 384.1 66.5 385.7 65.7 386.9 65.3 388.1 65.5 389.3 66.1 390.3 67.4 391.0 69.2 391.1 70.8 390.6 72.5 389.3 73.5 387.8 73.7 386.2 73.1 384.9ZM55.4 444.8 64.5 448.2 67.6 448.7 71.0 447.9 72.6 447.2 73.3 445.9 73.6 443.7 73.3 442.6 72.3 440.6 71.3 439.5 70.3 439.1 64.2 438.0 57.4 437.9 54.7 438.5 53.4 439.8 54.0 443.0 54.7 444.3ZM58.8 403.8 59.7 404.9 61.4 406.0 63.5 406.0 65.9 405.2 67.6 404.2 69.5 402.5 69.8 401.3 68.8 399.5 67.7 398.7 62.6 398.7 60.5 399.5 58.9 400.6 58.5 401.8ZM67.0 467.6 66.0 466.5 64.6 465.9 63.1 465.9 61.7 466.5 60.6 467.5 60.0 468.9 60.0 470.4 60.6 471.8 61.6 472.9 63.0 473.5 64.5 473.5 65.9 472.9 67.0 471.9 67.6 470.5 67.6 469.0ZM43.9 455.8 45.5 456.7 49.1 457.4 58.1 456.8 63.7 455.4 64.3 454.5 64.4 452.9 64.0 451.8 63.3 451.3 59.6 450.2 54.3 447.7 51.2 447.3 47.2 447.3 44.8 448.2 43.3 449.4 42.5 450.5 42.6 452.4ZM62.7 300.3 60.8 299.3 58.6 299.5 57.1 300.6 56.9 302.3 57.5 303.3 58.6 303.9 60.0 304.1 61.4 303.9 62.5 303.3 63.1 302.3 63.2 301.2ZM61.9 392.9 60.0 392.4 57.7 392.6 56.3 393.4 56.0 394.7 56.7 395.5 57.9 396.1 59.4 396.2 61.1 396.0 62.2 395.4 62.8 394.7 62.7 393.7ZM52.0 309.3 48.0 310.3 47.7 311.1 48.0 312.0 48.7 312.4 53.2 312.3 57.2 313.1 60.4 312.2 61.0 311.4 61.4 310.1 61.2 309.3 60.4 308.7 58.7 307.7 57.7 307.4 54.4 307.9ZM51.3 393.0 49.7 392.4 47.8 392.6 46.6 393.6 46.6 394.8 47.1 395.6 48.2 396.1 50.6 396.0 51.4 395.5 51.9 394.6 51.8 393.8ZM49.8 431.8 48.0 430.8 45.8 431.0 44.3 432.3 44.2 433.9 44.8 434.8 45.8 435.4 47.2 435.6 48.6 435.4 49.6 434.8 50.3 433.8 50.3 432.8ZM31.5 328.7 38.4 329.3 42.7 329.1 43.7 328.7 44.7 327.8 45.4 326.9 45.5 326.2 43.9 324.4 42.0 323.5 37.1 322.6 31.5 322.8 30.7 323.1 30.2 323.7 29.8 325.8 30.1 327.8 30.7 328.4ZM30.5 335.5 31.5 335.9 35.1 336.3 41.8 336.5 44.1 335.1 44.5 333.8 43.9 332.2 42.7 331.6 38.4 331.3 32.9 331.8 30.9 332.2 30.1 332.7 29.8 334.1ZM42.2 304.8 40.4 303.6 39.1 303.5 37.9 303.8 37.0 304.5 36.4 305.5 36.3 306.5 36.5 307.6 37.3 308.6 38.5 309.2 39.9 309.3 41.1 309.0 42.1 308.1 42.7 307.1 42.7 305.9Z" fill="#dcb8b8" filter="url(#bl1)"/><g fill="#dcb8b8" filter="url(#bl1)"><circle cx="71.5" cy="297.6" r="2.9"/><circle cx="71.2" cy="310.8" r="3.1"/><circle cx="87.7" cy="317.1" r="2.5"/><circle cx="72.2" cy="326.6" r="2.8"/><circle cx="136.5" cy="285.1" r="2.9"/><circle cx="119.9" cy="308.1" r="2.8"/><circle cx="152.3" cy="307.4" r="2.5"/><circle cx="155.7" cy="323.9" r="2.9"/><circle cx="149.4" cy="327" r="2.9"/><circle cx="207.5" cy="298.6" r="2.5"/><circle cx="216.5" cy="301.3" r="3.4"/><circle cx="213.5" cy="304" r="2.9"/><circle cx="94.1" cy="355.5" r="2.9"/><circle cx="85" cy="391.2" r="2.9"/><circle cx="56" cy="404.1" r="3.0"/><circle cx="78.3" cy="404.1" r="2.9"/><circle cx="151.4" cy="385.5" r="2.5"/><circle cx="119.9" cy="388.2" r="2.9"/><circle cx="151.9" cy="410.5" r="2.8"/><circle cx="158.4" cy="395" r="2.5"/><circle cx="161.1" cy="397" r="2.5"/><circle cx="238.3" cy="372.6" r="2.9"/><circle cx="209.2" cy="398.3" r="2.5"/><circle cx="88.4" cy="431.2" r="3.1"/><circle cx="81.6" cy="440.4" r="2.5"/><circle cx="78.7" cy="444" r="2.5"/><circle cx="123.5" cy="424.4" r="3.2"/><circle cx="104" cy="452.8" r="3.2"/><circle cx="181.4" cy="419.7" r="2.9"/><circle cx="187.2" cy="424.1" r="2.9"/><circle cx="183.8" cy="427.1" r="2.8"/><circle cx="200" cy="447.1" r="3.0"/></g><path d="M61.8 301.1 60.6 300.5 59.4 300.5 58.3 301.0 58.0 301.8 58.2 302.3 59.0 302.8 60.6 302.9 61.4 302.6 61.9 302.1 62.0 301.6ZM41.2 305.5 40.7 305.0 39.9 304.7 38.5 304.9 37.6 305.8 37.5 306.4 37.6 307.0 38.2 307.7 38.9 308.1 39.7 308.1 40.5 307.9 41.1 307.5 41.5 306.9 41.5 306.1ZM48.9 311.2 53.9 311.2 56.3 311.9 57.0 311.9 59.7 311.2 60.2 310.1 58.2 308.8 57.0 308.6 54.8 309.0 52.1 310.6ZM57.9 324.7 59.7 325.6 62.0 326.2 66.9 327.1 73.6 327.8 80.4 329.2 85.1 330.4 86.3 330.5 89.6 329.9 93.5 327.8 97.4 324.6 98.0 323.1 98.1 322.1 97.8 321.8 96.3 321.3 93.8 320.8 87.2 321.4 80.3 322.7 72.2 322.1 62.8 322.1 60.2 322.7 58.3 323.4 57.9 324.1ZM31.9 327.6 38.4 328.2 41.8 328.0 43.2 327.6 44.3 326.4 42.7 325.0 40.9 324.5 37.1 323.8 32.6 323.8 31.4 324.1 31.1 324.9 31.2 327.2ZM31.3 334.6 36.3 335.2 41.2 335.3 42.3 335.0 43.3 334.1 42.8 332.9 38.4 332.5 31.3 333.3 31.0 333.9ZM52.2 334.9 54.7 335.9 60.0 335.9 66.9 336.6 70.4 338.0 71.5 338.2 75.4 338.0 76.4 337.0 77.0 335.7 76.6 334.3 75.8 332.8 73.5 331.8 71.2 331.5 64.1 331.5 56.1 332.2 53.8 332.8 52.3 333.4 52.0 334.1ZM62.2 345.2 63.7 346.7 65.5 347.3 67.5 347.6 69.9 347.3 71.9 346.7 72.6 345.7 72.9 344.6 72.3 343.4 71.3 342.3 69.9 342.1 66.8 341.9 64.9 342.4 62.5 343.6 62.2 344.3ZM74.0 358.9 75.0 359.9 76.3 360.7 81.7 360.4 85.4 361.1 86.5 361.7 88.7 364.1 90.9 365.3 91.5 364.5 91.9 363.5 91.8 363.1 89.3 360.0 89.2 359.2 89.8 356.8 89.8 356.2 88.8 354.8 88.1 354.2 87.7 354.0 83.0 353.3 76.3 353.6 74.9 354.4 74.0 355.3 73.8 357.1ZM73.6 373.1 75.8 374.0 79.0 374.6 81.6 374.8 83.8 374.4 82.6 372.3 80.9 370.3 78.4 367.4 76.8 366.1 74.2 367.4 72.1 369.2 72.1 369.7 72.5 371.1 73.1 372.6ZM80.6 381.5 79.3 381.7 78.2 382.4 77.7 383.5 77.8 384.0 78.1 384.4 78.8 384.7 79.5 384.7 80.3 384.4 81.0 383.8 81.4 383.2 81.5 382.4 81.2 381.9ZM71.3 385.1 70.2 385.0 69.3 385.2 67.6 386.2 67.0 386.9 66.5 387.9 66.5 388.8 66.9 389.4 67.9 389.9 69.1 389.9 70.3 389.5 71.4 388.8 72.2 387.8 72.5 386.6 72.2 385.7ZM61.3 394.0 60.1 393.6 58.9 393.6 57.8 393.8 57.2 394.3 57.5 394.6 58.2 394.9 59.9 395.0 61.4 394.6 61.6 394.3ZM50.5 393.9 49.7 393.6 48.9 393.6 48.0 393.8 47.7 394.3 48.4 394.9 49.5 395.0 50.6 394.6 50.7 394.3ZM59.9 403.4 61.9 404.9 63.2 404.8 65.8 403.9 67.5 402.7 68.6 401.5 68.2 400.7 67.3 399.8 65.2 399.7 62.8 399.8 61.1 400.5 59.9 401.3 59.7 402.3ZM57.6 419.1 62.9 420.5 68.4 423.9 71.0 425.0 73.6 425.9 76.7 426.1 79.4 425.9 80.8 424.6 81.8 423.0 81.5 420.7 81.0 418.2 79.8 415.3 78.8 413.8 75.9 411.0 73.4 409.9 70.7 409.0 67.5 408.9 64.2 409.0 61.1 410.2 58.3 411.6 56.8 413.4 55.9 415.2 56.1 416.4 56.9 418.0ZM82.1 431.9 83.2 433.4 84.0 434.0 86.1 434.8 88.4 435.3 90.4 434.9 92.1 434.1 92.5 432.8 92.6 431.7 92.4 431.0 91.6 429.7 90.2 428.3 88.8 428.0 85.7 427.9 84.0 428.3 82.0 429.4 81.8 430.9ZM48.9 432.6 47.8 432.0 46.6 432.0 45.5 432.6 45.3 433.4 45.6 433.9 46.2 434.3 47.8 434.4 48.5 434.1 49.0 433.6 49.1 433.1ZM55.7 443.6 63.5 446.7 66.8 447.5 69.6 447.1 71.8 446.3 72.2 445.6 72.4 443.8 71.7 441.8 70.5 440.5 68.9 440.0 65.0 439.3 60.2 439.0 56.7 439.1 55.7 439.4 54.6 440.1 54.7 441.0 55.2 442.6ZM81.5 448.8 80.6 448.1 79.7 447.8 78.7 447.8 77.4 448.1 76.7 448.6 76.0 449.4 75.8 450.4 76.0 451.4 76.9 452.4 78.0 452.9 79.3 453.0 80.6 452.7 81.5 452.0 82.2 450.9 82.1 449.7ZM44.9 455.1 46.7 455.8 49.2 456.2 55.3 455.9 58.8 455.5 61.9 454.8 63.0 454.4 63.2 453.5 63.1 452.6 62.8 452.4 59.2 451.3 53.2 448.6 51.1 448.5 47.3 448.5 46.6 448.6 45.5 449.2 44.2 450.2 43.6 450.9 44.0 453.0ZM73.4 459.7 72.3 459.1 70.9 459.3 70.1 460.0 70.0 461.0 70.5 461.7 71.1 462.0 71.9 462.1 72.9 461.9 73.4 461.5 73.8 460.9 73.8 460.2ZM81.9 460.8 81.1 460.3 80.2 460.1 78.4 460.2 77.7 460.5 77.0 461.2 76.7 461.7 76.7 462.3 77.3 463.2 78.1 463.7 79.6 463.9 80.8 463.8 81.8 463.3 82.4 462.5 82.5 461.7ZM66.0 468.2 65.3 467.5 64.3 467.1 63.3 467.1 62.3 467.5 61.6 468.2 61.2 469.2 61.2 470.2 61.6 471.2 62.3 471.9 63.3 472.3 64.3 472.3 65.3 471.9 66.0 471.2 66.4 470.2 66.4 469.2ZM126.4 287.0 128.0 287.8 130.1 288.6 134.7 289.4 137.7 289.5 142.6 288.7 145.9 287.7 147.9 286.7 148.5 285.6 148.6 284.9 146.9 284.0 142.0 282.2 139.4 281.5 136.8 281.2 133.5 281.7 130.2 282.5 126.7 284.1 125.7 284.9 125.8 285.8ZM109.4 315.7 111.7 315.8 113.5 315.4 117.6 313.0 121.6 310.3 126.3 307.6 127.9 306.3 128.8 305.3 128.2 303.6 127.8 303.1 127.5 303.1 123.5 303.8 118.9 306.1 114.4 308.8 112.2 310.3 109.2 313.3 108.9 313.7 108.9 314.4ZM87.8 310.5 89.5 311.1 91.0 311.1 92.3 310.9 93.0 310.4 91.8 309.8 89.8 309.7 88.5 309.9 87.8 310.3ZM128.7 308.0 128.0 308.9 125.0 311.2 123.0 313.1 118.8 317.5 117.0 319.7 116.4 322.3 116.3 324.8 117.0 326.2 117.8 326.9 118.5 327.0 120.3 326.7 122.4 326.1 123.7 325.4 128.3 321.8 131.1 318.2 132.6 315.8 134.1 312.8 135.2 310.4 137.0 305.2 140.3 299.1 140.8 297.0 141.0 295.7 140.5 294.8 138.7 293.8 137.2 294.1 135.8 294.9 135.5 297.6 135.0 298.7 132.5 302.3 129.9 305.7ZM84.9 338.4 85.8 339.9 87.7 340.5 90.5 340.9 95.1 340.7 100.5 339.3 102.9 339.0 105.9 338.2 106.6 337.4 107.1 335.6 106.6 334.5 105.7 333.5 102.4 332.9 99.4 331.1 98.1 331.0 90.7 332.7 87.5 334.2 85.4 335.5 85.0 336.9ZM117.9 338.8 121.9 339.2 127.3 338.0 134.1 338.0 138.0 337.6 139.6 337.1 140.4 336.2 140.9 335.2 139.6 334.1 138.7 333.6 138.1 333.6 132.7 333.6 127.3 334.2 121.9 332.9 119.9 333.1 118.6 333.4 117.7 333.9 116.3 335.1 115.1 336.5 116.5 338.0ZM104.6 348.8 105.9 351.6 107.0 352.4 107.8 352.7 108.9 351.5 110.0 349.8 110.4 347.4 110.5 345.2 109.4 344.5 108.0 344.1 106.4 344.6 105.2 345.2 104.8 345.6 104.6 346.7ZM121.7 347.9 122.3 351.4 122.9 353.1 124.4 354.1 125.8 354.5 129.7 350.6 134.7 348.0 136.4 346.3 131.9 345.3 126.1 345.3 123.7 346.0 121.9 346.9ZM137.9 352.1 133.2 364.0 133.3 364.8 133.7 366.1 134.7 366.4 135.5 366.3 136.0 365.8 137.9 361.8 140.3 356.2 141.0 353.8 140.9 352.5 140.5 351.5 138.7 351.6ZM116.8 363.8 115.6 363.3 114.4 363.4 113.5 363.9 113.3 364.7 113.6 365.2 114.2 365.6 115.2 365.7 116.0 365.6 116.6 365.3 117.1 364.8 117.1 364.3ZM91.6 372.8 90.8 372.2 90.0 371.9 89.1 371.8 87.9 371.9 87.2 372.3 86.5 373.0 86.2 373.8 86.3 374.6 87.0 375.6 87.9 376.1 89.1 376.2 90.3 376.1 91.2 375.6 91.9 374.6 92.0 373.6ZM128.0 373.8 126.7 373.2 125.3 373.3 124.2 374.0 124.0 375.0 124.4 375.6 125.1 376.0 126.2 376.2 127.1 376.1 127.8 375.7 128.4 375.1 128.4 374.4ZM135.6 381.2 134.3 380.7 132.9 380.8 131.8 381.5 131.6 382.3 132.0 383.0 132.7 383.3 133.8 383.5 134.7 383.4 135.5 383.1 136.0 382.5 136.0 381.9ZM95.3 397.8 99.3 398.0 105.8 400.5 108.2 400.7 109.8 400.6 110.5 400.3 111.6 399.0 112.0 397.7 111.7 395.1 111.3 393.9 109.3 392.1 107.6 391.2 104.6 390.4 102.9 390.0 100.0 389.9 96.8 390.1 94.9 390.8 94.2 391.2 93.5 393.4 92.9 397.1 93.3 397.4ZM108.4 413.4 113.9 415.4 119.8 416.0 122.3 415.9 125.3 415.5 126.2 415.2 127.7 414.2 128.3 413.3 128.7 410.3 129.1 409.0 132.9 398.9 133.6 393.0 133.6 392.3 133.0 391.5 132.0 390.5 130.9 390.0 129.2 390.2 128.4 390.6 128.0 391.1 125.1 395.9 122.7 400.5 122.2 401.9 121.1 406.7 119.8 408.4 118.1 409.6 116.3 409.6 113.1 409.2 107.1 407.7 104.4 408.3 104.1 406.4 103.3 404.9 102.7 404.2 102.0 404.2 99.4 404.9 94.0 407.6 88.0 409.9 85.1 411.4 84.8 411.6 84.7 412.1 84.9 413.6 85.9 414.5 87.3 415.4 90.8 416.7 92.4 417.6 93.4 419.2 94.4 421.3 96.2 426.8 97.7 427.9 99.2 428.5 100.2 428.3 101.7 427.6 102.5 426.8 102.7 426.2 104.1 413.3ZM105.8 420.4 106.3 423.3 106.8 424.7 108.1 425.2 109.7 425.3 111.6 424.2 113.4 422.8 114.1 420.9 114.2 419.8 113.6 419.6 110.2 419.7 105.9 420.0ZM134.3 422.6 132.2 422.3 129.9 422.9 128.9 423.5 128.1 424.5 127.8 425.1 127.8 425.9 128.6 426.7 129.9 427.1 131.8 427.0 133.3 426.5 134.8 425.4 135.4 424.3 135.3 423.3ZM96.0 441.2 97.3 442.0 99.3 442.8 101.1 442.8 102.7 442.5 106.8 438.9 110.3 436.3 111.0 436.1 111.8 436.0 116.5 436.6 118.2 436.2 119.2 435.7 119.8 435.2 120.5 433.7 121.0 432.2 120.9 431.5 119.8 429.7 118.9 429.0 116.6 428.5 113.1 428.4 103.2 429.6 100.9 432.0 96.8 433.7 95.4 435.1 94.5 436.3 94.4 437.1 94.8 438.8 95.4 440.5ZM125.3 436.3 132.6 440.1 135.0 441.0 138.1 441.4 139.3 441.5 140.4 440.5 140.9 439.6 140.5 438.4 138.4 435.6 136.6 434.1 134.7 433.0 130.5 432.9 128.3 433.2 125.7 434.9 125.4 435.7ZM135.2 445.8 134.0 445.3 132.4 444.9 130.7 444.8 129.0 444.9 127.4 445.3 125.9 446.1 125.2 446.7 125.1 447.6 125.4 448.3 125.9 448.7 127.4 449.5 130.1 450.0 132.4 449.9 134.8 449.2 136.2 448.1 136.3 447.6 136.3 447.0ZM102.3 452.4 101.8 451.9 101.4 451.9 101.0 452.1 100.6 452.7 100.5 453.5 100.5 454.2 100.8 454.7 101.2 455.1 101.9 455.0 102.4 454.3 102.5 453.3ZM92.0 464.0 91.6 463.5 91.1 463.4 90.6 463.5 90.2 464.0 90.0 464.8 90.0 465.5 90.3 466.1 90.7 466.5 91.4 466.6 92.0 466.0 92.2 465.0ZM108.5 468.6 108.0 468.1 107.3 467.8 106.5 467.9 106.0 468.3 105.6 468.9 105.5 469.7 105.6 470.5 106.1 471.2 106.6 471.6 107.3 471.6 108.2 471.1 108.7 469.9ZM162.6 300.1 162.0 299.7 161.3 299.8 160.9 300.4 161.0 301.1 161.6 301.5 162.3 301.4 162.7 300.8ZM150.3 308.0 151.4 311.8 152.4 312.2 153.5 312.3 154.6 311.0 155.9 309.1 157.7 305.2 157.8 303.2 157.6 301.3 157.3 300.3 155.7 299.7 153.8 299.5 151.7 300.4 150.4 301.2 150.1 301.6 149.9 303.0ZM173.1 307.1 172.4 306.1 171.7 306.5 171.3 307.7 171.3 309.3 171.7 310.4 172.2 310.9 172.8 310.7 173.2 309.7 173.3 311.1 173.5 311.8 173.7 311.9 176.5 311.8 179.9 311.3 182.9 310.5 185.3 309.6 188.3 308.0 191.8 305.4 192.9 304.4 193.7 303.0 194.5 301.3 194.7 300.2 192.9 298.2 190.4 296.4 187.9 295.8 185.3 295.7 183.4 296.5 179.5 298.6 175.7 300.8 173.9 302.2 173.5 302.8 173.3 303.8ZM145.4 307.8 145.1 306.7 144.4 306.1 143.6 306.2 142.6 307.1 141.9 308.4 141.6 309.6 141.7 310.9 142.2 311.7 142.7 311.9 143.2 311.8 144.4 310.9 145.1 309.6ZM162.1 314.2 161.6 313.7 160.8 313.5 160.0 313.7 159.5 314.2 159.1 314.9 159.1 315.7 159.3 316.5 159.9 317.2 160.5 317.5 161.1 317.5 162.1 316.8 162.5 315.5ZM168.8 317.9 168.4 317.5 168.0 317.5 167.6 317.6 167.3 318.2 167.2 319.5 167.9 320.3 168.5 320.2 168.9 319.6 169.0 318.7ZM145.7 339.6 146.5 340.5 147.8 341.3 153.1 342.0 157.3 343.4 162.7 344.7 168.0 346.7 171.6 346.5 172.3 346.3 172.7 346.0 172.7 344.6 172.5 342.7 170.6 342.3 166.4 342.3 162.5 341.5 160.3 340.7 158.2 339.1 157.9 338.6 157.9 338.0 158.3 336.9 159.1 335.8 160.0 335.0 163.3 333.4 162.8 332.2 161.4 331.8 159.6 331.6 156.1 333.6 154.5 334.2 149.1 334.9 147.4 336.1 146.1 337.4 145.7 338.6ZM153.3 350.2 152.4 349.8 151.5 350.0 151.1 350.9 151.3 351.8 152.2 352.2 153.1 352.0 153.5 351.1ZM157.5 356.4 160.6 359.0 162.7 360.2 163.9 360.7 165.4 360.6 171.1 359.6 177.9 358.0 180.1 357.3 181.5 355.3 182.1 353.8 182.1 351.4 182.0 350.2 180.9 348.4 179.6 346.9 178.4 346.2 177.2 346.0 173.3 349.5 168.8 352.0 167.1 352.4 161.2 352.5 158.3 353.6 157.5 354.1 157.3 354.6 157.2 355.9ZM144.0 373.7 144.8 374.7 145.8 375.5 150.3 376.1 153.1 375.9 155.4 375.5 155.7 375.0 155.9 374.1 155.8 373.4 153.3 372.0 151.3 371.5 148.2 371.0 146.4 371.3 143.9 372.4 143.8 373.0ZM171.6 373.3 171.0 372.6 170.0 371.8 169.3 371.5 168.1 371.5 167.0 371.8 166.3 372.3 165.2 373.7 164.6 375.1 164.5 376.2 164.6 378.3 165.4 380.1 166.0 380.8 167.0 381.6 168.1 381.9 169.6 381.7 171.0 380.8 171.8 379.7 172.4 378.3 172.5 376.7 172.4 375.1ZM141.8 386.4 142.6 387.9 143.1 388.4 143.5 388.5 146.9 388.8 149.2 388.5 152.7 387.7 153.6 386.9 154.7 385.6 155.1 384.4 154.8 383.2 154.0 381.8 152.4 381.1 150.9 380.7 149.5 380.6 143.6 380.9 142.6 381.5 142.0 382.3 141.6 385.0ZM171.5 387.4 170.5 386.7 169.1 386.8 168.2 387.5 168.0 388.1 168.0 388.6 168.5 389.3 169.1 389.6 169.9 389.7 170.7 389.6 171.3 389.3 171.8 388.6 171.8 387.9ZM155.7 395.6 161.0 400.9 161.8 401.5 164.5 402.5 165.8 402.1 166.6 401.5 165.9 399.1 165.0 397.4 162.6 394.4 161.0 393.3 158.4 392.2 156.7 392.6 155.4 393.4 155.3 394.7ZM168.5 400.0 168.0 405.0 168.6 408.0 169.5 410.7 171.2 412.2 173.2 413.5 177.3 414.7 180.1 415.8 181.2 416.0 182.2 414.7 182.6 413.8 182.4 410.7 181.8 406.3 179.7 395.6 179.3 393.8 178.6 392.8 177.7 391.8 177.1 391.5 173.2 394.1 169.9 395.0 168.9 395.4 168.7 396.4ZM142.3 407.9 141.1 406.6 139.6 405.9 138.4 405.9 137.6 406.0 136.1 406.9 135.3 407.9 134.9 408.7 134.6 410.5 134.9 412.3 135.8 413.8 136.8 414.6 138.4 415.1 140.0 415.0 141.5 414.1 142.5 412.7 143.0 411.0 143.0 409.6ZM146.9 418.5 158.6 418.5 160.2 418.3 161.1 417.6 162.0 416.4 162.5 413.9 162.6 411.4 161.9 410.4 160.6 409.1 159.6 408.3 159.0 408.1 157.1 407.8 154.4 407.6 150.3 408.8 149.6 409.2 149.0 409.9 144.1 418.0 145.1 418.3ZM173.0 419.0 172.2 418.3 171.3 418.0 170.0 418.2 169.1 418.8 168.6 419.7 168.4 420.8 168.6 421.9 169.1 422.8 170.0 423.4 171.0 423.6 172.0 423.4 172.9 422.8 173.4 421.9 173.6 420.8 173.5 420.0ZM145.2 434.0 147.2 434.5 149.5 434.7 151.8 433.6 154.1 432.1 158.0 428.1 162.6 424.1 162.9 422.3 162.7 420.8 160.8 420.0 158.5 419.6 156.3 420.6 153.5 422.6 148.9 426.5 144.2 431.7 144.1 431.9 144.2 432.5ZM165.1 429.9 164.6 429.5 163.8 429.3 163.0 429.5 162.5 429.9 162.2 430.6 162.2 431.4 162.4 432.1 162.9 432.8 163.5 433.1 164.1 433.1 165.1 432.5 165.4 431.2ZM153.7 440.2 155.4 440.2 156.9 440.0 154.4 439.8 151.9 440.0ZM174.1 445.7 173.3 444.6 172.1 444.1 170.8 444.3 169.7 445.4 169.1 447.0 169.1 448.6 169.7 450.2 170.8 451.3 171.5 451.5 172.6 451.4 173.3 451.0 173.9 450.2 174.4 448.9 174.5 447.8 174.4 446.7ZM156.3 453.2 155.2 453.0 154.2 453.0 153.3 453.3 152.2 454.0 151.6 454.7 151.3 455.7 151.3 456.4 151.7 457.2 152.8 457.9 154.0 458.1 155.2 457.8 156.6 457.0 157.3 456.0 157.6 454.8 157.1 453.8ZM132.9 468.8 137.6 469.9 142.1 471.1 143.3 470.2 143.7 469.2 143.4 466.9 143.1 466.0 142.8 465.8 139.3 464.8 134.0 462.8 132.8 463.1 131.9 463.8 132.1 467.3 132.5 468.6ZM222.4 280.1 224.5 281.0 228.0 281.8 233.8 282.1 238.2 281.6 239.7 281.2 240.1 280.7 241.3 278.6 241.6 277.5 241.6 276.8 241.3 276.5 239.4 276.3 235.9 276.2 227.2 276.2 221.7 276.5 221.3 276.8 221.1 277.3 221.3 278.0ZM242.3 294.3 241.8 294.0 241.3 294.7 241.3 295.7 241.8 296.4 242.2 296.3 242.5 295.7 242.5 295.1ZM208.5 297.8 207.6 297.4 206.7 297.6 206.3 298.5 206.5 299.4 207.4 299.8 208.3 299.6 208.7 298.7ZM175.4 318.5 179.9 319.7 183.1 319.8 186.4 319.7 195.1 317.1 199.4 316.3 200.6 316.6 202.3 317.7 205.3 318.3 207.4 318.3 210.5 317.5 211.9 317.0 213.1 316.1 214.9 314.2 215.1 313.9 215.1 313.1 214.5 311.2 212.8 310.4 210.8 310.0 204.2 311.9 202.6 312.1 201.9 311.9 201.2 311.2 199.0 307.1 197.8 306.2 196.7 305.9 192.1 308.6 182.0 312.3 178.5 314.2 176.6 315.5 175.9 316.2 175.4 318.0ZM178.4 328.9 179.4 329.7 181.2 330.5 184.4 330.9 187.9 331.1 195.9 330.5 202.7 329.2 207.5 329.0 208.3 329.2 208.9 329.5 211.1 331.9 212.9 332.5 214.3 332.6 214.7 332.6 215.7 331.9 217.8 329.4 218.8 326.3 219.0 324.6 218.4 322.8 217.9 322.0 216.9 321.5 214.1 320.8 212.7 320.8 206.8 321.4 199.9 320.0 196.2 319.6 193.8 319.5 190.0 319.8 188.0 320.0 184.5 321.0 182.1 321.8 180.8 322.4 179.5 323.6 178.2 325.2 178.0 327.8ZM187.6 340.8 191.3 342.5 193.9 343.0 198.7 343.6 205.8 343.4 208.6 343.0 211.9 342.0 213.2 340.6 213.7 339.5 213.4 339.1 211.3 337.9 207.9 336.3 204.0 335.5 200.0 335.0 195.9 335.5 193.0 336.1 191.3 336.6 189.5 337.6 187.6 338.9 187.4 339.9ZM192.0 352.5 193.8 354.4 194.9 355.3 198.4 356.7 206.9 359.3 210.2 359.5 212.6 359.4 213.3 359.3 215.0 358.5 219.2 355.4 223.3 351.3 224.2 350.0 224.5 349.2 223.5 348.1 221.8 347.0 217.3 346.3 213.8 346.0 208.1 346.0 200.3 346.4 196.1 347.0 194.4 347.7 192.0 349.1 191.5 349.6 191.4 350.7 191.6 351.8ZM176.7 366.7 178.7 367.5 179.7 367.6 182.3 366.7 184.3 365.8 185.3 365.1 186.9 363.2 187.3 362.4 186.8 361.7 185.7 361.0 183.7 361.3 181.3 361.9 178.9 363.7 176.8 365.5 176.6 366.3ZM207.0 375.5 210.0 375.9 213.5 376.1 225.4 374.9 225.9 373.9 226.0 373.0 221.6 371.3 221.1 370.7 221.5 369.8 224.0 368.2 226.1 367.2 229.8 366.7 235.1 366.7 235.8 366.3 236.6 365.3 235.5 364.2 234.1 363.3 231.8 362.7 227.1 362.4 223.7 362.6 220.4 363.0 217.7 364.2 215.3 365.6 212.5 369.8 211.2 370.3 208.3 371.1 205.9 372.8 205.4 373.5 206.2 374.9ZM196.5 368.4 194.3 367.7 192.6 367.6 190.7 367.8 188.9 368.3 187.3 369.0 185.7 370.1 185.1 371.0 185.1 371.9 185.6 372.6 186.2 373.0 188.1 373.5 191.1 373.5 193.5 372.9 196.0 371.7 196.7 371.1 197.3 370.2 197.4 369.7 197.2 369.1ZM242.2 382.2 241.8 381.6 241.4 381.6 241.0 381.9 240.6 382.7 240.6 383.5 240.7 384.5 241.0 385.1 241.4 385.4 241.9 385.2 242.4 384.3 242.4 383.3ZM235.9 383.4 235.0 382.8 234.1 382.5 232.1 382.5 231.2 382.8 230.3 383.4 230.0 383.9 229.9 384.6 230.3 385.4 231.2 386.0 232.8 386.3 234.1 386.3 235.2 385.8 236.1 385.1 236.3 384.2ZM183.8 384.0 185.5 385.2 186.6 385.7 193.4 386.3 199.6 387.7 205.6 389.7 208.5 391.3 209.5 391.6 214.7 389.0 221.4 387.0 223.5 385.8 224.4 385.0 222.1 383.5 218.8 381.9 216.9 381.6 206.1 380.8 204.4 380.3 199.8 377.9 194.2 377.3 192.4 377.3 189.9 377.8 187.4 378.4 186.2 378.9 184.9 380.1 183.6 381.7 183.4 383.2ZM201.0 403.2 202.9 403.4 205.3 403.2 209.9 401.5 211.1 400.8 213.6 398.9 214.4 398.1 214.3 397.6 213.2 396.1 210.8 395.5 209.0 395.6 205.9 396.7 203.8 397.9 201.4 399.7 200.5 400.6 200.4 401.5 200.7 402.7ZM189.9 404.3 188.9 403.7 188.1 403.7 187.6 404.3 187.4 405.5 187.6 407.0 188.2 408.0 189.1 409.0 189.9 409.2 190.4 409.0 190.8 408.7 191.0 407.3 190.8 405.8ZM204.9 423.6 206.9 424.8 208.2 425.3 214.9 425.8 222.9 425.3 225.9 424.0 226.6 423.5 226.6 423.1 226.2 420.6 225.6 419.4 223.0 417.6 220.7 416.4 218.9 415.8 214.5 415.1 212.1 415.0 209.6 415.6 205.1 417.1 203.7 417.8 202.3 419.1 202.0 419.7 202.4 420.6 204.1 422.9ZM194.8 426.1 194.0 425.7 193.2 425.9 192.8 426.7 193.0 427.5 193.8 427.9 194.6 427.7 195.0 426.9ZM191.5 430.2 191.1 429.7 190.6 429.6 190.1 429.7 189.7 430.2 189.5 431.0 189.5 431.7 189.8 432.3 190.2 432.7 190.9 432.8 191.5 432.2 191.7 431.2ZM207.9 465.6 207.4 464.0 206.5 463.3 205.1 463.4 203.6 464.4 202.3 466.2 201.8 467.9 201.8 469.9 202.5 471.2 203.4 471.6 204.2 471.5 205.1 471.1 206.0 470.4 206.9 469.4 207.5 468.1 207.8 466.9ZM188.4 473.3 187.7 472.7 186.7 472.5 186.0 472.5 185.1 472.8 184.6 473.3 184.2 474.1 184.1 474.9 184.3 475.7 185.1 476.6 186.0 476.9 187.0 476.9 187.9 476.6 188.5 475.9 188.9 475.1 188.8 474.1Z" fill="#c28585"/><path d="M222.4 277.7 223.2 279.2 224.8 279.8 228.1 280.6 232.9 280.9 236.9 280.6 238.8 280.3 239.7 279.1 240.3 277.6 231.5 277.3ZM206.8 373.7 207.4 374.3 207.9 374.5 213.5 374.9 224.7 373.9 224.7 373.7 221.2 372.5 220.2 371.7 219.9 371.0 219.9 370.2 220.7 368.9 223.4 367.1 225.8 366.0 229.6 365.5 234.5 365.5 235.0 365.4 233.2 364.2 229.1 363.6 225.1 363.6 220.8 364.2 218.2 365.3 216.1 366.5 214.0 369.8 213.2 370.7 212.2 371.2 208.9 372.2ZM231.1 384.4 231.9 385.0 233.1 385.1 234.3 385.0 235.1 384.4 234.3 383.8 233.1 383.7 231.9 383.8ZM203.3 419.8 204.5 421.5 205.6 422.6 207.4 423.7 209.2 424.2 214.9 424.6 220.5 424.3 223.2 423.9 225.4 422.9 224.8 420.4 223.5 419.3 219.5 417.2 215.9 416.5 213.0 416.2 211.3 416.4 205.5 418.3 204.4 418.8ZM184.6 383.1 186.9 384.5 193.6 385.1 199.9 386.5 206.1 388.6 209.4 390.4 214.2 387.9 220.3 386.1 222.4 385.0 218.5 383.1 205.9 382.0 203.9 381.4 199.5 379.1 194.2 378.5 191.4 378.7 187.3 379.7 186.4 380.3 184.8 382.0ZM192.7 350.0 192.7 351.1 192.9 351.8 194.6 353.5 196.0 354.5 206.3 357.9 207.9 358.2 211.5 358.3 213.5 357.9 217.2 355.5 221.2 351.9 222.4 350.6 223.1 349.4 221.4 348.2 218.5 347.6 213.7 347.2 206.4 347.2 200.5 347.6 196.4 348.2 194.9 348.8ZM179.3 328.1 181.6 329.3 187.9 329.9 195.7 329.3 202.5 328.0 207.7 327.8 208.7 328.0 209.6 328.6 211.7 330.9 214.3 331.4 215.5 330.4 216.8 328.8 217.4 326.9 217.8 325.0 217.2 323.0 213.9 322.0 212.8 322.0 206.7 322.6 197.1 320.9 194.6 320.7 191.5 320.8 187.4 321.4 181.9 323.1 180.4 324.5 179.3 325.7ZM176.6 317.7 180.7 318.5 186.2 318.5 194.8 316.0 199.3 315.1 200.6 315.3 202.7 316.5 206.7 317.1 209.1 316.7 211.4 316.0 213.5 314.0 213.9 313.5 213.9 313.2 213.6 312.1 210.8 311.2 204.4 313.1 202.6 313.3 201.6 313.1 201.0 312.7 200.2 311.9 198.1 307.8 196.9 307.2 192.6 309.7 181.9 313.7 177.3 316.4 176.9 316.8ZM201.8 402.1 205.1 402.0 208.5 400.8 210.5 399.8 213.0 397.8 212.5 397.1 210.1 396.6 207.4 397.4 205.0 398.5 202.9 400.0 201.6 401.1ZM188.6 340.0 190.9 341.0 193.0 341.6 197.9 342.3 201.2 342.4 206.6 342.2 209.3 341.6 211.2 341.0 212.3 339.8 207.5 337.5 203.8 336.6 200.0 336.2 196.1 336.7 192.5 337.5 189.3 339.1 188.6 339.6ZM207.5 298.6 207.5 298.6 207.5 298.6ZM206.7 465.7 206.4 464.7 205.9 464.4 204.9 464.9 204.0 465.8 203.2 467.1 202.9 468.5 203.0 469.6 203.4 470.3 203.8 470.4 204.5 470.1 205.6 469.0 206.5 467.4ZM186.2 371.5 187.0 372.0 188.2 372.3 189.8 372.4 191.5 372.2 193.1 371.8 194.6 371.2 195.6 370.5 196.2 369.7 195.4 369.2 194.2 368.9 192.6 368.8 190.9 369.0 189.3 369.4 187.8 370.0 186.8 370.7ZM172.5 308.1 172.5 308.8 173.3 308.5 174.1 309.0 174.4 309.5 174.5 310.8 178.8 310.3 183.2 309.2 188.3 306.6 191.0 304.5 192.2 303.2 193.5 300.5 192.1 299.1 189.8 297.5 186.8 296.9 185.6 296.9 185.0 297.1 180.1 299.6 175.5 302.5 174.6 303.3 174.2 307.7 173.5 308.2ZM188.6 404.9 188.6 405.7 188.8 406.6 189.2 407.4 189.8 407.9 189.8 407.1 189.6 406.2 189.2 405.4ZM187.5 474.1 186.8 473.7 185.9 473.8 185.3 474.3 185.3 475.1 186.1 475.7 187.1 475.6 187.7 474.9ZM178.0 366.1 179.6 366.4 181.8 365.6 184.2 364.5 185.9 362.6 185.5 362.2 184.7 362.3 181.9 363.0ZM170.0 396.2 169.2 404.9 169.8 407.7 170.5 410.1 171.9 411.3 173.8 412.4 177.7 413.5 180.7 414.7 181.3 413.8 181.4 413.2 180.8 407.4 178.3 394.8 177.7 393.5 177.1 392.9 173.8 395.2ZM158.4 355.6 160.8 357.7 164.1 359.5 166.2 359.2 172.6 358.1 179.4 356.3 180.1 355.3 180.8 353.9 180.9 352.2 180.8 350.5 179.1 348.1 177.5 347.2 174.0 350.4 169.4 353.0 167.2 353.6 161.4 353.7 158.5 354.9ZM173.0 446.2 172.4 445.4 171.7 445.3 171.0 445.7 170.5 446.4 170.3 447.5 170.3 448.7 170.9 449.8 171.5 450.3 172.4 450.2 173.1 449.2 173.3 447.8ZM172.1 419.7 171.6 419.3 171.0 419.2 170.4 419.3 169.9 419.7 169.6 420.3 169.6 421.0 169.7 421.6 170.2 422.2 171.3 422.4 172.1 421.9 172.4 420.8ZM146.9 339.1 148.2 340.1 153.5 340.8 157.6 342.2 163.0 343.5 167.7 345.3 169.5 345.5 171.5 345.2 171.5 343.7 166.3 343.5 162.2 342.7 159.8 341.8 157.3 340.0 156.7 339.0 156.7 338.0 157.0 337.0 157.6 335.7 158.8 334.4 161.4 333.0 160.0 332.8 156.7 334.6 154.9 335.4 149.5 336.0 147.2 337.9ZM170.6 374.0 169.4 372.9 168.3 372.7 167.1 373.2 166.1 374.7 165.7 376.7 165.9 378.4 166.6 379.7 167.8 380.6 168.7 380.7 169.4 380.5 170.4 379.7 170.9 378.7 171.3 377.6 171.3 376.3 171.1 375.0ZM170.6 388.1 169.8 387.9 169.2 388.2 169.4 388.5 170.0 388.5 170.5 388.4ZM156.5 394.0 156.6 394.8 162.1 400.3 164.5 401.3 165.3 401.0 164.3 398.5 161.4 395.0 158.3 393.4ZM164.1 430.6 163.7 430.5 163.4 430.9 163.4 431.6 163.8 431.9 164.2 431.5ZM145.3 432.1 145.9 433.0 148.9 433.5 149.6 433.4 152.0 432.0 153.8 430.7 157.2 427.2 161.4 423.7 161.7 422.9 161.7 421.6 160.4 421.1 158.7 420.8 156.1 422.2 154.2 423.5 150.8 426.4 147.9 429.3ZM145.8 417.2 156.9 417.4 159.7 417.2 160.3 416.8 160.9 415.9 161.3 413.7 161.4 411.7 159.9 410.0 158.7 409.3 154.5 408.8 151.5 409.6 150.3 410.3ZM161.2 314.9 160.7 314.7 160.3 315.1 160.3 315.8 160.7 316.3 161.0 316.3 161.3 315.9 161.3 315.4ZM151.2 302.1 151.1 304.2 151.4 307.8 152.4 310.9 153.0 311.1 154.9 308.5 156.6 304.8 156.7 304.0 156.4 301.5 156.3 301.1 156.1 301.0 154.0 300.7 152.3 301.4ZM155.8 454.3 154.7 454.2 153.3 454.6 152.6 455.5 152.5 456.3 153.2 456.7 153.9 456.9 155.5 456.4 156.1 455.8 156.4 455.1 156.3 454.7ZM145.0 373.1 146.3 374.4 149.0 374.8 150.3 374.9 153.0 374.7 154.6 374.5 154.7 374.1 152.4 373.0 148.2 372.2 147.4 372.2ZM142.9 386.0 143.8 387.3 146.1 387.6 148.1 387.5 152.1 386.7 153.9 384.5 153.2 382.7 151.3 382.1 149.4 381.8 144.4 382.0 143.8 382.2 143.1 382.7 142.9 384.3ZM152.3 351.0 152.3 351.0 152.3 351.0ZM127.0 285.3 127.3 286.2 129.9 287.2 133.6 288.0 136.8 288.3 143.1 287.4 146.3 286.2 147.1 285.8 147.3 285.5 141.7 283.4 139.1 282.7 136.8 282.4 133.7 282.9 130.6 283.7ZM142.9 310.7 143.5 310.2 144.0 309.2 144.2 308.1 144.1 307.3 143.5 307.8 143.0 308.8 142.8 309.9ZM133.1 464.3 133.5 467.8 137.9 468.7 141.9 469.9 142.5 469.3 142.1 466.8 138.9 465.9 134.2 464.0 133.9 464.0ZM141.3 408.5 140.4 407.6 139.4 407.1 138.0 407.2 136.9 407.8 136.0 409.1 135.8 410.5 136.0 411.9 136.7 413.0 137.4 413.6 138.5 413.9 139.6 413.8 140.7 413.2 141.5 412.2 141.8 410.9 141.8 409.8ZM134.6 365.2 135.0 365.2 135.4 364.4 138.7 357.1 139.8 354.1 139.6 352.7 138.9 352.9 138.3 354.2 134.5 363.8 134.4 364.3ZM116.6 336.5 118.2 337.6 121.8 338.0 127.1 336.8 134.0 336.8 137.8 336.4 138.7 336.2 139.4 335.4 138.4 334.8 137.1 334.7 132.8 334.8 127.2 335.4 121.4 334.1 118.7 334.7ZM118.3 325.8 122.0 325.0 124.0 323.8 127.4 321.0 130.1 317.5 131.6 315.2 133.1 312.3 134.0 310.0 135.9 304.7 139.2 298.6 139.8 295.8 139.3 295.4 138.6 295.0 136.9 295.6 136.6 297.8 136.1 299.3 133.5 303.0 130.9 306.4 129.4 309.2 125.3 312.5 118.3 319.9 117.8 321.5 117.5 324.3 117.8 325.1ZM126.6 435.7 134.6 439.6 138.9 440.3 139.7 439.4 137.5 436.4 135.9 435.1 134.3 434.2 131.7 434.1 129.1 434.2ZM122.9 347.7 123.1 349.7 123.8 352.3 125.5 353.2 129.0 349.6 134.1 346.9 131.1 346.5 126.9 346.5 125.0 346.9ZM126.3 447.4 126.8 447.9 127.8 448.4 130.7 448.8 133.6 448.4 134.6 447.9 135.1 447.4 134.6 446.9 133.6 446.4 130.7 446.0 127.8 446.4 126.8 446.9ZM132.9 382.1 133.8 382.3 134.7 382.1 133.8 381.9ZM133.8 423.7 132.6 423.5 131.0 423.8 129.7 424.5 128.9 425.4 129.4 425.7 130.3 425.9 132.2 425.6 133.9 424.6 134.3 424.0ZM85.9 412.3 85.9 413.0 87.5 414.1 92.2 416.0 93.3 416.9 94.4 418.6 95.5 420.8 97.2 426.0 99.3 427.3 99.8 427.2 101.0 426.6 101.5 425.9 102.9 413.1 103.5 412.3 104.1 412.1 108.7 412.2 114.2 414.2 120.6 414.8 125.4 414.2 127.1 413.1 127.7 409.3 131.7 398.6 132.2 395.3 132.4 392.6 130.9 391.2 129.6 391.4 128.9 391.8 126.1 396.5 123.8 401.0 122.1 407.2 120.6 409.3 119.4 410.3 118.6 410.7 117.2 410.9 113.9 410.5 107.1 408.9 104.6 409.5 104.1 409.4 103.4 408.8 102.9 406.8 102.2 405.4 99.8 406.0 94.5 408.7 89.1 410.7ZM110.1 314.2 110.1 314.6 112.3 314.6 114.6 313.4 121.0 309.3 125.6 306.7 127.6 305.0 127.3 304.3 123.9 305.0 118.8 307.5 113.6 310.8ZM125.2 374.7 126.2 375.0 127.2 374.7 126.2 374.4ZM96.7 440.3 99.6 441.6 101.0 441.6 102.2 441.4 106.0 437.9 109.7 435.3 110.7 434.9 111.7 434.8 116.4 435.4 117.7 435.1 118.7 434.5 119.8 432.0 118.4 430.1 115.4 429.6 113.2 429.6 103.7 430.7 101.7 432.9 97.5 434.6 95.8 436.5 95.6 436.9 95.7 437.7 96.2 439.3ZM114.8 364.5 115.2 364.5 115.6 364.5 115.2 364.5ZM107.2 421.1 107.7 423.8 109.3 424.1 112.2 422.2 112.9 420.8ZM94.1 396.3 95.4 396.6 99.6 396.8 105.5 399.1 106.6 399.4 109.7 399.4 110.8 398.0 110.3 394.7 109.8 394.0 107.7 392.5 102.8 391.2 97.4 391.2 95.2 392.0ZM105.8 348.5 106.8 350.7 107.5 351.3 108.9 349.4 109.3 345.8 108.0 345.3 105.9 346.1ZM107.4 469.2 107.0 469.0 106.7 469.4 106.7 470.1 107.0 470.4 107.3 470.4 107.5 470.0ZM86.1 338.2 86.6 339.0 89.4 339.6 94.9 339.5 100.2 338.1 102.7 337.8 105.3 337.1 105.9 335.7 105.1 334.6 102.0 334.1 98.9 332.2 98.3 332.2 91.9 333.6 89.0 334.7 86.4 336.2ZM59.4 324.2 61.1 324.8 66.2 325.7 74.7 326.7 86.2 329.3 89.2 328.7 92.4 327.1 96.2 324.1 96.6 323.7 96.9 322.7 94.3 322.0 93.1 322.0 87.4 322.6 80.4 323.9 72.1 323.3 65.4 323.3 62.2 323.4ZM83.1 430.2 83.1 431.3 84.1 432.5 84.9 433.1 88.4 434.1 91.2 433.3 91.4 431.7 90.6 430.4 89.6 429.4 87.6 429.1 85.3 429.1ZM75.1 355.8 75.1 358.4 76.5 359.4 81.7 359.2 85.7 359.9 87.2 360.7 89.5 363.1 90.5 363.8 90.6 363.6 88.7 361.3 88.1 360.3 88.0 359.1 88.6 356.7 87.6 355.3 83.6 354.6 79.6 354.6 76.6 354.8ZM90.7 373.6 89.9 373.1 88.7 373.0 87.7 373.4 87.4 374.1 87.6 374.5 88.1 374.9 89.5 375.0 90.7 374.4 90.8 374.0ZM73.3 369.6 74.2 372.0 74.5 372.3 77.2 373.1 82.0 373.6 79.3 370.2 76.7 367.4 74.5 368.6ZM81.3 462.0 80.4 461.4 79.4 461.3 78.4 461.5 77.9 462.0 78.6 462.6 79.8 462.7 81.1 462.3ZM80.7 449.6 79.7 449.0 78.3 449.0 77.2 449.7 77.0 450.6 77.3 451.2 77.9 451.6 78.8 451.8 79.7 451.8 80.4 451.4 80.9 450.9 81.0 450.2ZM58.5 418.1 63.4 419.4 68.9 422.8 73.8 424.7 76.7 424.9 79.0 424.7 79.9 423.9 80.6 422.7 79.8 418.5 78.7 415.9 77.9 414.5 75.3 412.0 73.0 411.0 70.5 410.2 67.5 410.1 64.5 410.2 61.6 411.3 59.1 412.6 57.8 414.1 57.1 415.3 57.9 417.4ZM78.9 383.5 79.7 383.3 80.3 382.7 79.5 382.9ZM53.5 334.2 54.9 334.7 60.1 334.7 66.3 335.2 68.0 335.6 70.8 336.9 71.5 337.0 74.9 336.9 75.8 335.6 75.0 333.7 73.9 333.2 72.0 332.7 66.7 332.7 61.7 332.9 56.3 333.4ZM72.6 460.5 71.8 460.3 71.2 460.6 71.4 460.9 72.0 460.9 72.5 460.7ZM63.3 344.7 64.2 345.6 67.5 346.4 71.1 345.8 71.7 344.7 70.8 343.4 66.8 343.1 66.0 343.2 64.6 343.8 63.4 344.4ZM71.0 386.3 69.9 386.3 68.8 386.8 67.9 387.8 67.7 388.5 68.1 388.7 68.9 388.7 70.2 388.2 71.2 387.1 71.3 386.5ZM55.8 440.7 56.3 442.2 56.7 442.8 65.2 445.9 67.4 446.3 69.3 445.9 71.0 445.3 71.1 443.4 70.3 442.0 69.6 441.4 66.0 440.6 63.0 440.3 57.5 440.3ZM60.9 402.0 61.0 402.8 62.4 403.7 65.3 402.9 67.2 401.4 66.7 400.9 63.5 401.0 62.2 401.3ZM65.0 468.9 64.1 468.3 63.0 468.5 62.4 469.4 62.6 470.5 63.5 471.1 64.6 470.9 65.2 470.0ZM44.8 451.3 45.2 452.7 45.8 454.2 48.6 455.0 51.7 455.0 56.7 454.6 59.6 454.1 62.0 453.5 58.7 452.4 53.6 450.0 52.2 449.7 49.8 449.6 47.0 449.8 46.1 450.2ZM59.6 301.7 60.0 301.7 60.4 301.7 60.0 301.7ZM54.9 310.3 56.6 310.7 58.6 310.4 57.5 309.8ZM46.8 433.2 47.2 433.2 47.6 433.2 47.2 433.2ZM32.3 326.5 39.1 327.0 41.7 326.8 42.7 326.5 41.9 325.9 39.6 325.4 37.0 325.0 35.1 325.0 32.3 325.1ZM35.7 333.9 40.5 334.1 41.8 333.9 38.5 333.7ZM40.3 306.2 39.9 305.9 39.3 305.9 38.8 306.1 38.7 306.5 39.0 306.8 39.7 306.9 40.3 306.6Z" fill="#b67171" filter="url(#bl3)"/><path d="M225.1 278.7 228.3 279.4 232.9 279.7 237.8 279.3 238.2 279.2 238.5 278.7 231.5 278.5ZM209.1 373.4 213.5 373.7 220.0 373.1 219.1 372.2 218.7 371.1 218.8 369.7 219.4 368.5 221.8 366.7 224.4 365.2 225.8 364.8 221.1 365.3 218.8 366.4 216.9 367.4 215.0 370.5 214.0 371.7 212.7 372.3ZM204.9 420.0 205.9 421.3 206.7 421.9 208.5 422.8 210.3 423.2 214.9 423.4 218.9 423.3 222.4 422.9 224.1 422.3 223.7 420.9 220.7 419.0 219.1 418.3 215.7 417.7 213.0 417.4 211.5 417.6 207.2 418.9ZM185.9 382.6 187.3 383.3 193.7 383.9 200.2 385.4 206.5 387.5 209.4 389.1 213.8 386.7 219.8 385.0 217.7 384.1 208.5 383.5 204.8 383.0 203.3 382.4 199.1 380.2 195.2 379.7 192.7 379.7 188.1 380.7 187.2 381.2ZM193.8 350.7 193.9 351.1 194.2 351.5 195.9 353.1 198.1 354.1 206.6 356.7 208.0 357.0 211.4 357.1 213.0 356.8 216.4 354.6 218.5 352.8 221.6 349.6 221.0 349.3 219.6 349.0 214.8 348.4 205.1 348.4 196.7 349.4ZM180.4 327.4 182.4 328.2 187.9 328.7 195.6 328.1 202.4 326.8 207.7 326.6 209.5 327.1 210.6 327.9 212.3 329.8 213.9 330.2 215.7 328.2 216.6 325.0 216.3 323.9 213.7 323.2 206.6 323.8 197.9 322.2 195.2 321.9 192.8 321.9 188.5 322.4 182.5 324.2 180.4 326.2ZM178.6 317.0 181.8 317.4 186.1 317.3 194.5 314.8 199.2 313.9 201.0 314.2 203.1 315.4 206.6 315.9 210.8 314.9 212.7 313.1 212.6 312.9 210.8 312.4 204.6 314.2 202.6 314.5 201.3 314.2 200.2 313.7 199.4 312.8 196.9 308.5 193.2 310.8 182.9 314.5ZM203.7 400.9 205.3 400.7 208.1 399.7 209.3 399.1 211.0 397.9 209.9 397.8 207.9 398.5 205.6 399.6ZM190.7 339.7 193.3 340.5 199.8 341.2 206.5 341.0 210.4 340.1 207.9 338.9 206.4 338.4 202.1 337.6 200.0 337.4 193.6 338.4 192.3 338.8ZM204.1 468.9 205.1 467.5 205.5 465.9 204.5 467.3ZM188.3 371.1 189.8 371.2 191.3 371.0 192.8 370.7 194.1 370.1 192.6 370.0 191.1 370.2 189.6 370.5ZM175.1 308.4 175.6 309.5 179.4 308.9 183.3 307.8 187.1 305.9 189.5 304.2 191.0 302.9 192.1 300.8 189.3 298.6 186.7 298.1 185.4 298.2 180.7 300.7 177.0 302.8 175.8 303.8 175.5 307.4ZM171.1 397.1 170.9 400.2 170.4 404.8 171.5 409.4 174.3 411.3 178.0 412.4 180.2 413.3 179.6 407.6 177.0 394.6 176.9 394.5 174.1 396.3ZM160.0 355.5 161.9 356.9 164.2 358.3 172.7 356.8 178.7 355.3 179.6 353.6 179.7 350.9 178.6 349.3 177.8 348.6 174.7 351.4 172.0 353.1 169.7 354.2 167.3 354.8 161.6 354.9ZM171.8 446.6 171.5 447.8 171.8 449.0 172.1 447.8ZM148.1 338.7 148.7 339.0 153.7 339.6 156.1 340.4 155.6 339.4 155.5 338.5 155.5 337.6 156.0 336.3 154.2 336.7 150.0 337.2ZM171.1 420.4 170.9 420.4 170.8 420.7 171.0 421.2 171.2 420.9ZM169.6 374.6 168.9 374.0 168.2 373.9 167.4 374.6 167.0 375.7 166.9 376.7 167.1 378.0 167.6 379.0 168.3 379.5 168.8 379.5 169.3 379.1 170.0 377.7 170.1 376.0ZM158.1 394.6 162.6 399.1 163.5 399.7 162.6 398.1 160.6 395.9ZM147.0 432.0 149.0 432.3 152.6 430.2 156.4 426.3 160.5 422.9 160.5 422.4 158.8 422.0 155.4 424.1 151.2 427.7ZM147.9 416.1 159.2 416.1 159.8 415.3 160.2 412.1 158.6 410.6 157.7 410.3 154.6 410.0 151.9 410.8 151.2 411.0ZM152.3 302.8 152.5 307.0 153.0 309.1 154.1 307.5 155.4 304.5 155.3 302.1 154.2 301.9ZM154.0 455.6 154.4 455.5 154.8 455.4 154.4 455.5ZM147.6 373.4 149.1 373.7 150.5 373.7 148.1 373.4ZM144.0 385.6 144.4 386.2 144.5 386.2 146.9 386.4 148.8 386.2 151.5 385.6 152.6 384.3 152.4 383.7 150.0 383.0 144.2 383.3ZM129.0 285.6 131.4 286.4 136.8 287.1 142.1 286.4 144.5 285.6 140.6 284.3 136.9 283.6 131.6 284.6ZM134.3 465.3 134.5 466.8 138.2 467.5 141.2 468.5 141.1 467.8 138.5 467.1ZM140.3 409.2 139.7 408.6 139.0 408.3 138.2 408.4 137.4 409.0 137.1 409.8 137.0 410.7 137.2 411.6 137.9 412.4 138.5 412.7 139.1 412.7 140.2 412.0 140.5 411.2 140.6 410.5ZM118.4 336.4 121.7 336.8 124.5 336.1 121.4 335.3 119.3 335.7ZM118.7 324.3 118.9 324.6 121.5 323.8 123.3 322.8 126.6 320.1 129.2 316.8 130.5 314.7 132.4 310.9 134.8 304.3 138.1 298.2 138.5 296.3 138.0 296.4 137.8 298.2 137.0 300.0 134.5 303.7 131.9 307.0 130.3 309.9 126.1 313.4 119.3 320.6 119.0 321.7ZM129.1 435.5 135.0 438.5 138.0 439.0 136.4 437.0 134.0 435.4 130.6 435.3ZM124.2 348.5 124.8 351.4 125.2 351.8 128.0 348.8 130.0 347.7 126.5 347.7ZM128.7 447.4 130.7 447.6 132.7 447.4 130.7 447.2ZM87.6 412.7 88.4 413.3 92.7 415.0 94.1 415.9 94.9 417.0 96.1 419.3 97.3 422.1 98.2 425.3 99.3 426.0 99.9 425.8 100.4 425.5 100.5 424.8 101.8 412.9 102.2 411.8 103.0 411.2 104.1 410.9 108.8 411.0 114.5 413.0 119.9 413.6 122.1 413.5 124.8 413.2 126.0 412.5 126.6 408.9 130.5 398.3 131.2 393.0 130.5 392.4 130.2 392.4 129.9 392.5 129.4 393.2 126.8 397.7 124.9 401.5 123.7 406.6 123.2 407.8 121.5 410.1 120.1 411.2 119.1 411.8 117.3 412.1 114.9 411.9 111.8 411.4 107.0 410.1 104.8 410.6 103.9 410.6 103.0 410.2 102.4 409.5 101.6 406.7 99.8 407.4 95.0 409.8 90.1 411.6ZM112.8 313.1 116.3 311.0 120.4 308.3 124.2 306.1 120.0 308.2 116.7 310.2 114.3 311.7ZM96.8 437.2 97.5 439.4 99.8 440.4 101.7 440.3 105.3 437.0 107.4 435.4 109.3 434.1 110.5 433.7 111.8 433.6 116.5 434.2 117.8 433.8 118.5 432.1 117.8 431.2 113.8 430.8 104.3 431.8 102.2 434.0 98.2 435.6ZM108.6 422.2 108.7 422.8 109.1 422.9 110.5 422.0ZM95.6 395.4 98.0 395.4 100.0 395.7 106.4 398.1 109.2 398.2 109.6 397.7 109.2 395.1 108.5 394.5 106.8 393.4 102.6 392.4 98.1 392.4 96.4 392.8 96.1 393.1ZM107.0 348.1 107.4 349.4 107.8 348.7 108.1 346.5 107.0 346.9ZM87.3 337.9 90.0 338.5 94.7 338.3 100.0 336.9 104.1 336.2 104.5 336.1 104.6 335.8 104.5 335.7 101.4 335.1 98.4 333.4 90.9 335.2 87.4 337.0ZM66.0 324.5 74.9 325.6 86.2 328.1 88.6 327.7 89.7 327.2 92.2 325.9 95.2 323.5 93.6 323.2 90.9 323.4 80.4 325.1 72.1 324.5ZM76.3 356.4 76.3 357.8 76.9 358.3 81.9 358.0 84.4 358.4 86.8 359.1 87.4 356.8 87.0 356.3 82.9 355.7 77.3 355.9ZM84.3 430.8 85.2 432.0 87.7 432.8 88.5 432.9 90.2 432.4 90.2 432.0 89.1 430.5 85.5 430.3ZM74.7 370.0 75.1 371.2 76.9 371.8 79.4 372.2 76.4 368.8ZM78.2 450.4 79.0 450.6 79.8 450.4 79.0 450.2ZM58.4 415.5 59.1 417.1 64.0 418.3 69.5 421.8 72.8 423.1 74.6 423.6 78.5 423.6 79.4 422.5 78.7 418.9 77.2 415.6 74.6 413.0 71.6 411.8 69.7 411.3 64.7 411.4 62.1 412.4 59.8 413.6ZM65.3 333.9 68.3 334.5 71.3 335.8 74.0 335.8 74.3 335.7 74.5 335.5 74.2 334.6 71.9 333.9ZM65.4 344.8 67.5 345.2 70.3 344.7 70.2 344.5 69.6 344.4 66.9 344.3ZM57.3 441.5 57.5 441.9 58.5 442.3 66.6 445.1 68.0 445.0 69.9 444.5 70.0 443.9 69.3 442.7 68.3 442.3 63.8 441.5ZM62.7 402.5 63.3 402.3 63.7 402.1 63.3 402.2ZM64.0 469.6 63.7 469.5 63.6 469.8 63.9 469.9ZM46.1 451.7 46.6 453.3 48.8 453.8 51.6 453.8 57.7 453.3 52.7 451.0 47.6 450.9 47.2 451.0Z" fill="#aa5e5e" filter="url(#bl3)"/><path d="M215.4 372.2 217.5 372.0 217.3 370.5 217.6 368.9 216.2 371.3ZM207.0 420.5 209.2 421.6 213.0 422.0 217.2 422.0 222.2 421.5 218.6 419.6 214.1 418.9 211.8 418.9ZM188.4 382.1 193.9 382.5 199.7 383.8 206.9 386.1 209.5 387.5 212.2 386.0 213.9 385.3 207.0 384.7 204.4 384.3 202.6 383.7 199.0 381.7 197.4 381.4 193.5 381.1ZM195.9 351.2 196.9 352.1 197.7 352.4 205.9 355.1 208.1 355.6 211.4 355.7 212.4 355.6 214.8 354.0 216.7 352.6 219.0 350.3 213.7 349.8 205.2 349.8 197.7 350.6ZM181.9 326.7 184.8 327.1 188.7 327.3 195.4 326.7 202.2 325.4 206.1 325.2 197.7 323.6 195.1 323.3 192.9 323.3 188.7 323.8 185.6 324.6 183.2 325.4ZM207.4 325.2 209.1 325.5 210.2 325.9 211.4 326.7 213.1 328.6 213.5 328.7 214.5 327.5 215.2 325.0 213.3 324.6ZM183.1 316.0 186.4 315.8 192.1 314.0 197.7 312.7 196.5 310.4 192.9 312.4ZM195.6 339.4 198.9 339.8 205.6 339.6 200.0 338.8ZM176.8 307.9 181.8 306.9 184.6 305.6 187.9 303.7 189.8 302.1 190.4 301.1 188.7 299.8 186.7 299.5 185.9 299.5 183.8 300.6 177.1 304.5ZM172.4 398.3 171.8 404.7 172.7 408.6 174.9 410.1 178.6 411.1 178.1 407.0 176.1 396.8 174.6 397.6ZM163.4 356.2 164.5 356.8 165.8 356.7 172.1 355.5 177.8 354.1 178.3 353.3 178.3 351.3 177.8 350.6 176.3 351.9 174.7 353.1 171.5 354.9 169.3 355.8 167.4 356.2ZM153.6 338.2 153.9 338.2 154.1 338.3 154.1 338.1ZM168.5 375.6 168.3 376.7 168.5 377.8 168.7 376.7ZM152.1 428.7 152.0 428.8 152.2 428.6ZM150.5 414.7 158.5 414.7 158.8 412.6 157.9 411.8 155.0 411.4 153.9 411.6 152.1 412.2ZM153.8 304.9 154.1 304.1 154.1 303.5 153.7 303.6ZM145.5 384.6 145.4 384.9 146.9 385.0 150.2 384.5ZM134.2 285.4 136.8 285.7 139.4 285.4 136.9 285.0ZM120.2 322.8 121.7 322.2 125.6 319.2 128.6 315.1 130.4 311.8 127.5 314.1 121.6 320.0 120.5 321.4ZM139.1 409.9 138.7 409.7 138.4 410.3 138.4 410.9 138.8 411.3 139.2 410.7ZM91.1 412.7 93.9 414.0 95.0 414.9 95.9 416.0 97.9 419.8 99.2 423.8 100.4 412.6 100.7 411.6 101.5 410.6 100.9 409.6 100.7 408.5 95.6 411.1ZM121.2 412.2 124.7 411.7 125.3 408.5 129.0 398.5 129.5 395.8 126.0 402.5 125.0 406.8 124.5 408.4 123.2 410.3ZM98.6 438.4 100.1 439.0 101.1 439.0 104.9 435.5 107.3 433.7 108.8 432.8 105.0 433.2 104.0 434.3 103.0 435.2 99.0 436.8 98.3 437.5ZM112.6 432.3 116.3 432.8 116.8 432.7 116.9 432.4 114.3 432.2ZM97.3 393.9 100.4 394.3 106.3 396.6 108.1 396.9 107.9 395.8 106.7 394.9 105.6 394.6 102.0 393.8 99.0 393.7ZM90.1 337.1 94.5 336.9 99.5 335.6 98.3 334.8 92.6 336.1ZM83.6 326.1 86.0 326.7 87.1 326.5 88.6 326.2 91.3 324.7 87.8 325.2ZM59.9 415.6 60.1 415.9 63.1 416.6 64.6 417.1 70.1 420.5 73.2 421.8 74.3 422.1 75.6 422.2 77.7 422.3 77.9 422.1 77.3 419.3 76.0 416.4 74.0 414.3 72.1 413.4 69.6 412.7 65.0 412.8 60.8 414.6ZM64.9 443.1 66.9 443.7 67.7 443.6 66.8 443.4ZM48.2 452.3 49.4 452.4 52.2 452.3 49.8 452.2Z" fill="#9e4c4c" filter="url(#bl3)"/><path d="M61.8 301.1 60.6 300.5 59.4 300.5 58.3 301.0 58.0 301.8 58.2 302.3 59.0 302.8 60.6 302.9 61.4 302.6 61.9 302.1 62.0 301.6ZM41.2 305.5 40.7 305.0 39.9 304.7 38.5 304.9 37.6 305.8 37.5 306.4 37.6 307.0 38.2 307.7 38.9 308.1 39.7 308.1 40.5 307.9 41.1 307.5 41.5 306.9 41.5 306.1ZM48.9 311.2 53.9 311.2 56.3 311.9 57.0 311.9 59.7 311.2 60.2 310.1 58.2 308.8 57.0 308.6 54.8 309.0 52.1 310.6ZM57.9 324.7 59.7 325.6 62.0 326.2 66.9 327.1 73.6 327.8 80.4 329.2 85.1 330.4 86.3 330.5 89.6 329.9 93.5 327.8 97.4 324.6 98.0 323.1 98.1 322.1 97.8 321.8 96.3 321.3 93.8 320.8 87.2 321.4 80.3 322.7 72.2 322.1 62.8 322.1 60.2 322.7 58.3 323.4 57.9 324.1ZM31.9 327.6 38.4 328.2 41.8 328.0 43.2 327.6 44.3 326.4 42.7 325.0 40.9 324.5 37.1 323.8 32.6 323.8 31.4 324.1 31.1 324.9 31.2 327.2ZM31.3 334.6 36.3 335.2 41.2 335.3 42.3 335.0 43.3 334.1 42.8 332.9 38.4 332.5 31.3 333.3 31.0 333.9ZM52.2 334.9 54.7 335.9 60.0 335.9 66.9 336.6 70.4 338.0 71.5 338.2 75.4 338.0 76.4 337.0 77.0 335.7 76.6 334.3 75.8 332.8 73.5 331.8 71.2 331.5 64.1 331.5 56.1 332.2 53.8 332.8 52.3 333.4 52.0 334.1ZM62.2 345.2 63.7 346.7 65.5 347.3 67.5 347.6 69.9 347.3 71.9 346.7 72.6 345.7 72.9 344.6 72.3 343.4 71.3 342.3 69.9 342.1 66.8 341.9 64.9 342.4 62.5 343.6 62.2 344.3ZM74.0 358.9 75.0 359.9 76.3 360.7 81.7 360.4 85.4 361.1 86.5 361.7 88.7 364.1 90.9 365.3 91.5 364.5 91.9 363.5 91.8 363.1 89.3 360.0 89.2 359.2 89.8 356.8 89.8 356.2 88.8 354.8 88.1 354.2 87.7 354.0 83.0 353.3 76.3 353.6 74.9 354.4 74.0 355.3 73.8 357.1ZM73.6 373.1 75.8 374.0 79.0 374.6 81.6 374.8 83.8 374.4 82.6 372.3 80.9 370.3 78.4 367.4 76.8 366.1 74.2 367.4 72.1 369.2 72.1 369.7 72.5 371.1 73.1 372.6ZM80.6 381.5 79.3 381.7 78.2 382.4 77.7 383.5 77.8 384.0 78.1 384.4 78.8 384.7 79.5 384.7 80.3 384.4 81.0 383.8 81.4 383.2 81.5 382.4 81.2 381.9ZM71.3 385.1 70.2 385.0 69.3 385.2 67.6 386.2 67.0 386.9 66.5 387.9 66.5 388.8 66.9 389.4 67.9 389.9 69.1 389.9 70.3 389.5 71.4 388.8 72.2 387.8 72.5 386.6 72.2 385.7ZM61.3 394.0 60.1 393.6 58.9 393.6 57.8 393.8 57.2 394.3 57.5 394.6 58.2 394.9 59.9 395.0 61.4 394.6 61.6 394.3ZM50.5 393.9 49.7 393.6 48.9 393.6 48.0 393.8 47.7 394.3 48.4 394.9 49.5 395.0 50.6 394.6 50.7 394.3ZM59.9 403.4 61.9 404.9 63.2 404.8 65.8 403.9 67.5 402.7 68.6 401.5 68.2 400.7 67.3 399.8 65.2 399.7 62.8 399.8 61.1 400.5 59.9 401.3 59.7 402.3ZM57.6 419.1 62.9 420.5 68.4 423.9 71.0 425.0 73.6 425.9 76.7 426.1 79.4 425.9 80.8 424.6 81.8 423.0 81.5 420.7 81.0 418.2 79.8 415.3 78.8 413.8 75.9 411.0 73.4 409.9 70.7 409.0 67.5 408.9 64.2 409.0 61.1 410.2 58.3 411.6 56.8 413.4 55.9 415.2 56.1 416.4 56.9 418.0ZM82.1 431.9 83.2 433.4 84.0 434.0 86.1 434.8 88.4 435.3 90.4 434.9 92.1 434.1 92.5 432.8 92.6 431.7 92.4 431.0 91.6 429.7 90.2 428.3 88.8 428.0 85.7 427.9 84.0 428.3 82.0 429.4 81.8 430.9ZM48.9 432.6 47.8 432.0 46.6 432.0 45.5 432.6 45.3 433.4 45.6 433.9 46.2 434.3 47.8 434.4 48.5 434.1 49.0 433.6 49.1 433.1ZM55.7 443.6 63.5 446.7 66.8 447.5 69.6 447.1 71.8 446.3 72.2 445.6 72.4 443.8 71.7 441.8 70.5 440.5 68.9 440.0 65.0 439.3 60.2 439.0 56.7 439.1 55.7 439.4 54.6 440.1 54.7 441.0 55.2 442.6ZM81.5 448.8 80.6 448.1 79.7 447.8 78.7 447.8 77.4 448.1 76.7 448.6 76.0 449.4 75.8 450.4 76.0 451.4 76.9 452.4 78.0 452.9 79.3 453.0 80.6 452.7 81.5 452.0 82.2 450.9 82.1 449.7ZM44.9 455.1 46.7 455.8 49.2 456.2 55.3 455.9 58.8 455.5 61.9 454.8 63.0 454.4 63.2 453.5 63.1 452.6 62.8 452.4 59.2 451.3 53.2 448.6 51.1 448.5 47.3 448.5 46.6 448.6 45.5 449.2 44.2 450.2 43.6 450.9 44.0 453.0ZM73.4 459.7 72.3 459.1 70.9 459.3 70.1 460.0 70.0 461.0 70.5 461.7 71.1 462.0 71.9 462.1 72.9 461.9 73.4 461.5 73.8 460.9 73.8 460.2ZM81.9 460.8 81.1 460.3 80.2 460.1 78.4 460.2 77.7 460.5 77.0 461.2 76.7 461.7 76.7 462.3 77.3 463.2 78.1 463.7 79.6 463.9 80.8 463.8 81.8 463.3 82.4 462.5 82.5 461.7ZM66.0 468.2 65.3 467.5 64.3 467.1 63.3 467.1 62.3 467.5 61.6 468.2 61.2 469.2 61.2 470.2 61.6 471.2 62.3 471.9 63.3 472.3 64.3 472.3 65.3 471.9 66.0 471.2 66.4 470.2 66.4 469.2ZM126.4 287.0 128.0 287.8 130.1 288.6 134.7 289.4 137.7 289.5 142.6 288.7 145.9 287.7 147.9 286.7 148.5 285.6 148.6 284.9 146.9 284.0 142.0 282.2 139.4 281.5 136.8 281.2 133.5 281.7 130.2 282.5 126.7 284.1 125.7 284.9 125.8 285.8ZM109.4 315.7 111.7 315.8 113.5 315.4 117.6 313.0 121.6 310.3 126.3 307.6 127.9 306.3 128.8 305.3 128.2 303.6 127.8 303.1 127.5 303.1 123.5 303.8 118.9 306.1 114.4 308.8 112.2 310.3 109.2 313.3 108.9 313.7 108.9 314.4ZM87.8 310.5 89.5 311.1 91.0 311.1 92.3 310.9 93.0 310.4 91.8 309.8 89.8 309.7 88.5 309.9 87.8 310.3ZM128.7 308.0 128.0 308.9 125.0 311.2 123.0 313.1 118.8 317.5 117.0 319.7 116.4 322.3 116.3 324.8 117.0 326.2 117.8 326.9 118.5 327.0 120.3 326.7 122.4 326.1 123.7 325.4 128.3 321.8 131.1 318.2 132.6 315.8 134.1 312.8 135.2 310.4 137.0 305.2 140.3 299.1 140.8 297.0 141.0 295.7 140.5 294.8 138.7 293.8 137.2 294.1 135.8 294.9 135.5 297.6 135.0 298.7 132.5 302.3 129.9 305.7ZM84.9 338.4 85.8 339.9 87.7 340.5 90.5 340.9 95.1 340.7 100.5 339.3 102.9 339.0 105.9 338.2 106.6 337.4 107.1 335.6 106.6 334.5 105.7 333.5 102.4 332.9 99.4 331.1 98.1 331.0 90.7 332.7 87.5 334.2 85.4 335.5 85.0 336.9ZM117.9 338.8 121.9 339.2 127.3 338.0 134.1 338.0 138.0 337.6 139.6 337.1 140.4 336.2 140.9 335.2 139.6 334.1 138.7 333.6 138.1 333.6 132.7 333.6 127.3 334.2 121.9 332.9 119.9 333.1 118.6 333.4 117.7 333.9 116.3 335.1 115.1 336.5 116.5 338.0ZM104.6 348.8 105.9 351.6 107.0 352.4 107.8 352.7 108.9 351.5 110.0 349.8 110.4 347.4 110.5 345.2 109.4 344.5 108.0 344.1 106.4 344.6 105.2 345.2 104.8 345.6 104.6 346.7ZM121.7 347.9 122.3 351.4 122.9 353.1 124.4 354.1 125.8 354.5 129.7 350.6 134.7 348.0 136.4 346.3 131.9 345.3 126.1 345.3 123.7 346.0 121.9 346.9ZM137.9 352.1 133.2 364.0 133.3 364.8 133.7 366.1 134.7 366.4 135.5 366.3 136.0 365.8 137.9 361.8 140.3 356.2 141.0 353.8 140.9 352.5 140.5 351.5 138.7 351.6ZM116.8 363.8 115.6 363.3 114.4 363.4 113.5 363.9 113.3 364.7 113.6 365.2 114.2 365.6 115.2 365.7 116.0 365.6 116.6 365.3 117.1 364.8 117.1 364.3ZM91.6 372.8 90.8 372.2 90.0 371.9 89.1 371.8 87.9 371.9 87.2 372.3 86.5 373.0 86.2 373.8 86.3 374.6 87.0 375.6 87.9 376.1 89.1 376.2 90.3 376.1 91.2 375.6 91.9 374.6 92.0 373.6ZM128.0 373.8 126.7 373.2 125.3 373.3 124.2 374.0 124.0 375.0 124.4 375.6 125.1 376.0 126.2 376.2 127.1 376.1 127.8 375.7 128.4 375.1 128.4 374.4ZM135.6 381.2 134.3 380.7 132.9 380.8 131.8 381.5 131.6 382.3 132.0 383.0 132.7 383.3 133.8 383.5 134.7 383.4 135.5 383.1 136.0 382.5 136.0 381.9ZM95.3 397.8 99.3 398.0 105.8 400.5 108.2 400.7 109.8 400.6 110.5 400.3 111.6 399.0 112.0 397.7 111.7 395.1 111.3 393.9 109.3 392.1 107.6 391.2 104.6 390.4 102.9 390.0 100.0 389.9 96.8 390.1 94.9 390.8 94.2 391.2 93.5 393.4 92.9 397.1 93.3 397.4ZM108.4 413.4 113.9 415.4 119.8 416.0 122.3 415.9 125.3 415.5 126.2 415.2 127.7 414.2 128.3 413.3 128.7 410.3 129.1 409.0 132.9 398.9 133.6 393.0 133.6 392.3 133.0 391.5 132.0 390.5 130.9 390.0 129.2 390.2 128.4 390.6 128.0 391.1 125.1 395.9 122.7 400.5 122.2 401.9 121.1 406.7 119.8 408.4 118.1 409.6 116.3 409.6 113.1 409.2 107.1 407.7 104.4 408.3 104.1 406.4 103.3 404.9 102.7 404.2 102.0 404.2 99.4 404.9 94.0 407.6 88.0 409.9 85.1 411.4 84.8 411.6 84.7 412.1 84.9 413.6 85.9 414.5 87.3 415.4 90.8 416.7 92.4 417.6 93.4 419.2 94.4 421.3 96.2 426.8 97.7 427.9 99.2 428.5 100.2 428.3 101.7 427.6 102.5 426.8 102.7 426.2 104.1 413.3ZM105.8 420.4 106.3 423.3 106.8 424.7 108.1 425.2 109.7 425.3 111.6 424.2 113.4 422.8 114.1 420.9 114.2 419.8 113.6 419.6 110.2 419.7 105.9 420.0ZM134.3 422.6 132.2 422.3 129.9 422.9 128.9 423.5 128.1 424.5 127.8 425.1 127.8 425.9 128.6 426.7 129.9 427.1 131.8 427.0 133.3 426.5 134.8 425.4 135.4 424.3 135.3 423.3ZM96.0 441.2 97.3 442.0 99.3 442.8 101.1 442.8 102.7 442.5 106.8 438.9 110.3 436.3 111.0 436.1 111.8 436.0 116.5 436.6 118.2 436.2 119.2 435.7 119.8 435.2 120.5 433.7 121.0 432.2 120.9 431.5 119.8 429.7 118.9 429.0 116.6 428.5 113.1 428.4 103.2 429.6 100.9 432.0 96.8 433.7 95.4 435.1 94.5 436.3 94.4 437.1 94.8 438.8 95.4 440.5ZM125.3 436.3 132.6 440.1 135.0 441.0 138.1 441.4 139.3 441.5 140.4 440.5 140.9 439.6 140.5 438.4 138.4 435.6 136.6 434.1 134.7 433.0 130.5 432.9 128.3 433.2 125.7 434.9 125.4 435.7ZM135.2 445.8 134.0 445.3 132.4 444.9 130.7 444.8 129.0 444.9 127.4 445.3 125.9 446.1 125.2 446.7 125.1 447.6 125.4 448.3 125.9 448.7 127.4 449.5 130.1 450.0 132.4 449.9 134.8 449.2 136.2 448.1 136.3 447.6 136.3 447.0ZM102.3 452.4 101.8 451.9 101.4 451.9 101.0 452.1 100.6 452.7 100.5 453.5 100.5 454.2 100.8 454.7 101.2 455.1 101.9 455.0 102.4 454.3 102.5 453.3ZM92.0 464.0 91.6 463.5 91.1 463.4 90.6 463.5 90.2 464.0 90.0 464.8 90.0 465.5 90.3 466.1 90.7 466.5 91.4 466.6 92.0 466.0 92.2 465.0ZM108.5 468.6 108.0 468.1 107.3 467.8 106.5 467.9 106.0 468.3 105.6 468.9 105.5 469.7 105.6 470.5 106.1 471.2 106.6 471.6 107.3 471.6 108.2 471.1 108.7 469.9ZM162.6 300.1 162.0 299.7 161.3 299.8 160.9 300.4 161.0 301.1 161.6 301.5 162.3 301.4 162.7 300.8ZM150.3 308.0 151.4 311.8 152.4 312.2 153.5 312.3 154.6 311.0 155.9 309.1 157.7 305.2 157.8 303.2 157.6 301.3 157.3 300.3 155.7 299.7 153.8 299.5 151.7 300.4 150.4 301.2 150.1 301.6 149.9 303.0ZM173.1 307.1 172.4 306.1 171.7 306.5 171.3 307.7 171.3 309.3 171.7 310.4 172.2 310.9 172.8 310.7 173.2 309.7 173.3 311.1 173.5 311.8 173.7 311.9 176.5 311.8 179.9 311.3 182.9 310.5 185.3 309.6 188.3 308.0 191.8 305.4 192.9 304.4 193.7 303.0 194.5 301.3 194.7 300.2 192.9 298.2 190.4 296.4 187.9 295.8 185.3 295.7 183.4 296.5 179.5 298.6 175.7 300.8 173.9 302.2 173.5 302.8 173.3 303.8ZM145.4 307.8 145.1 306.7 144.4 306.1 143.6 306.2 142.6 307.1 141.9 308.4 141.6 309.6 141.7 310.9 142.2 311.7 142.7 311.9 143.2 311.8 144.4 310.9 145.1 309.6ZM162.1 314.2 161.6 313.7 160.8 313.5 160.0 313.7 159.5 314.2 159.1 314.9 159.1 315.7 159.3 316.5 159.9 317.2 160.5 317.5 161.1 317.5 162.1 316.8 162.5 315.5ZM168.8 317.9 168.4 317.5 168.0 317.5 167.6 317.6 167.3 318.2 167.2 319.5 167.9 320.3 168.5 320.2 168.9 319.6 169.0 318.7ZM145.7 339.6 146.5 340.5 147.8 341.3 153.1 342.0 157.3 343.4 162.7 344.7 168.0 346.7 171.6 346.5 172.3 346.3 172.7 346.0 172.7 344.6 172.5 342.7 170.6 342.3 166.4 342.3 162.5 341.5 160.3 340.7 158.2 339.1 157.9 338.6 157.9 338.0 158.3 336.9 159.1 335.8 160.0 335.0 163.3 333.4 162.8 332.2 161.4 331.8 159.6 331.6 156.1 333.6 154.5 334.2 149.1 334.9 147.4 336.1 146.1 337.4 145.7 338.6ZM153.3 350.2 152.4 349.8 151.5 350.0 151.1 350.9 151.3 351.8 152.2 352.2 153.1 352.0 153.5 351.1ZM157.5 356.4 160.6 359.0 162.7 360.2 163.9 360.7 165.4 360.6 171.1 359.6 177.9 358.0 180.1 357.3 181.5 355.3 182.1 353.8 182.1 351.4 182.0 350.2 180.9 348.4 179.6 346.9 178.4 346.2 177.2 346.0 173.3 349.5 168.8 352.0 167.1 352.4 161.2 352.5 158.3 353.6 157.5 354.1 157.3 354.6 157.2 355.9ZM144.0 373.7 144.8 374.7 145.8 375.5 150.3 376.1 153.1 375.9 155.4 375.5 155.7 375.0 155.9 374.1 155.8 373.4 153.3 372.0 151.3 371.5 148.2 371.0 146.4 371.3 143.9 372.4 143.8 373.0ZM171.6 373.3 171.0 372.6 170.0 371.8 169.3 371.5 168.1 371.5 167.0 371.8 166.3 372.3 165.2 373.7 164.6 375.1 164.5 376.2 164.6 378.3 165.4 380.1 166.0 380.8 167.0 381.6 168.1 381.9 169.6 381.7 171.0 380.8 171.8 379.7 172.4 378.3 172.5 376.7 172.4 375.1ZM141.8 386.4 142.6 387.9 143.1 388.4 143.5 388.5 146.9 388.8 149.2 388.5 152.7 387.7 153.6 386.9 154.7 385.6 155.1 384.4 154.8 383.2 154.0 381.8 152.4 381.1 150.9 380.7 149.5 380.6 143.6 380.9 142.6 381.5 142.0 382.3 141.6 385.0ZM171.5 387.4 170.5 386.7 169.1 386.8 168.2 387.5 168.0 388.1 168.0 388.6 168.5 389.3 169.1 389.6 169.9 389.7 170.7 389.6 171.3 389.3 171.8 388.6 171.8 387.9ZM155.7 395.6 161.0 400.9 161.8 401.5 164.5 402.5 165.8 402.1 166.6 401.5 165.9 399.1 165.0 397.4 162.6 394.4 161.0 393.3 158.4 392.2 156.7 392.6 155.4 393.4 155.3 394.7ZM168.5 400.0 168.0 405.0 168.6 408.0 169.5 410.7 171.2 412.2 173.2 413.5 177.3 414.7 180.1 415.8 181.2 416.0 182.2 414.7 182.6 413.8 182.4 410.7 181.8 406.3 179.7 395.6 179.3 393.8 178.6 392.8 177.7 391.8 177.1 391.5 173.2 394.1 169.9 395.0 168.9 395.4 168.7 396.4ZM142.3 407.9 141.1 406.6 139.6 405.9 138.4 405.9 137.6 406.0 136.1 406.9 135.3 407.9 134.9 408.7 134.6 410.5 134.9 412.3 135.8 413.8 136.8 414.6 138.4 415.1 140.0 415.0 141.5 414.1 142.5 412.7 143.0 411.0 143.0 409.6ZM146.9 418.5 158.6 418.5 160.2 418.3 161.1 417.6 162.0 416.4 162.5 413.9 162.6 411.4 161.9 410.4 160.6 409.1 159.6 408.3 159.0 408.1 157.1 407.8 154.4 407.6 150.3 408.8 149.6 409.2 149.0 409.9 144.1 418.0 145.1 418.3ZM173.0 419.0 172.2 418.3 171.3 418.0 170.0 418.2 169.1 418.8 168.6 419.7 168.4 420.8 168.6 421.9 169.1 422.8 170.0 423.4 171.0 423.6 172.0 423.4 172.9 422.8 173.4 421.9 173.6 420.8 173.5 420.0ZM145.2 434.0 147.2 434.5 149.5 434.7 151.8 433.6 154.1 432.1 158.0 428.1 162.6 424.1 162.9 422.3 162.7 420.8 160.8 420.0 158.5 419.6 156.3 420.6 153.5 422.6 148.9 426.5 144.2 431.7 144.1 431.9 144.2 432.5ZM165.1 429.9 164.6 429.5 163.8 429.3 163.0 429.5 162.5 429.9 162.2 430.6 162.2 431.4 162.4 432.1 162.9 432.8 163.5 433.1 164.1 433.1 165.1 432.5 165.4 431.2ZM153.7 440.2 155.4 440.2 156.9 440.0 154.4 439.8 151.9 440.0ZM174.1 445.7 173.3 444.6 172.1 444.1 170.8 444.3 169.7 445.4 169.1 447.0 169.1 448.6 169.7 450.2 170.8 451.3 171.5 451.5 172.6 451.4 173.3 451.0 173.9 450.2 174.4 448.9 174.5 447.8 174.4 446.7ZM156.3 453.2 155.2 453.0 154.2 453.0 153.3 453.3 152.2 454.0 151.6 454.7 151.3 455.7 151.3 456.4 151.7 457.2 152.8 457.9 154.0 458.1 155.2 457.8 156.6 457.0 157.3 456.0 157.6 454.8 157.1 453.8ZM132.9 468.8 137.6 469.9 142.1 471.1 143.3 470.2 143.7 469.2 143.4 466.9 143.1 466.0 142.8 465.8 139.3 464.8 134.0 462.8 132.8 463.1 131.9 463.8 132.1 467.3 132.5 468.6ZM222.4 280.1 224.5 281.0 228.0 281.8 233.8 282.1 238.2 281.6 239.7 281.2 240.1 280.7 241.3 278.6 241.6 277.5 241.6 276.8 241.3 276.5 239.4 276.3 235.9 276.2 227.2 276.2 221.7 276.5 221.3 276.8 221.1 277.3 221.3 278.0ZM242.3 294.3 241.8 294.0 241.3 294.7 241.3 295.7 241.8 296.4 242.2 296.3 242.5 295.7 242.5 295.1ZM208.5 297.8 207.6 297.4 206.7 297.6 206.3 298.5 206.5 299.4 207.4 299.8 208.3 299.6 208.7 298.7ZM175.4 318.5 179.9 319.7 183.1 319.8 186.4 319.7 195.1 317.1 199.4 316.3 200.6 316.6 202.3 317.7 205.3 318.3 207.4 318.3 210.5 317.5 211.9 317.0 213.1 316.1 214.9 314.2 215.1 313.9 215.1 313.1 214.5 311.2 212.8 310.4 210.8 310.0 204.2 311.9 202.6 312.1 201.9 311.9 201.2 311.2 199.0 307.1 197.8 306.2 196.7 305.9 192.1 308.6 182.0 312.3 178.5 314.2 176.6 315.5 175.9 316.2 175.4 318.0ZM178.4 328.9 179.4 329.7 181.2 330.5 184.4 330.9 187.9 331.1 195.9 330.5 202.7 329.2 207.5 329.0 208.3 329.2 208.9 329.5 211.1 331.9 212.9 332.5 214.3 332.6 214.7 332.6 215.7 331.9 217.8 329.4 218.8 326.3 219.0 324.6 218.4 322.8 217.9 322.0 216.9 321.5 214.1 320.8 212.7 320.8 206.8 321.4 199.9 320.0 196.2 319.6 193.8 319.5 190.0 319.8 188.0 320.0 184.5 321.0 182.1 321.8 180.8 322.4 179.5 323.6 178.2 325.2 178.0 327.8ZM187.6 340.8 191.3 342.5 193.9 343.0 198.7 343.6 205.8 343.4 208.6 343.0 211.9 342.0 213.2 340.6 213.7 339.5 213.4 339.1 211.3 337.9 207.9 336.3 204.0 335.5 200.0 335.0 195.9 335.5 193.0 336.1 191.3 336.6 189.5 337.6 187.6 338.9 187.4 339.9ZM192.0 352.5 193.8 354.4 194.9 355.3 198.4 356.7 206.9 359.3 210.2 359.5 212.6 359.4 213.3 359.3 215.0 358.5 219.2 355.4 223.3 351.3 224.2 350.0 224.5 349.2 223.5 348.1 221.8 347.0 217.3 346.3 213.8 346.0 208.1 346.0 200.3 346.4 196.1 347.0 194.4 347.7 192.0 349.1 191.5 349.6 191.4 350.7 191.6 351.8ZM176.7 366.7 178.7 367.5 179.7 367.6 182.3 366.7 184.3 365.8 185.3 365.1 186.9 363.2 187.3 362.4 186.8 361.7 185.7 361.0 183.7 361.3 181.3 361.9 178.9 363.7 176.8 365.5 176.6 366.3ZM207.0 375.5 210.0 375.9 213.5 376.1 225.4 374.9 225.9 373.9 226.0 373.0 221.6 371.3 221.1 370.7 221.5 369.8 224.0 368.2 226.1 367.2 229.8 366.7 235.1 366.7 235.8 366.3 236.6 365.3 235.5 364.2 234.1 363.3 231.8 362.7 227.1 362.4 223.7 362.6 220.4 363.0 217.7 364.2 215.3 365.6 212.5 369.8 211.2 370.3 208.3 371.1 205.9 372.8 205.4 373.5 206.2 374.9ZM196.5 368.4 194.3 367.7 192.6 367.6 190.7 367.8 188.9 368.3 187.3 369.0 185.7 370.1 185.1 371.0 185.1 371.9 185.6 372.6 186.2 373.0 188.1 373.5 191.1 373.5 193.5 372.9 196.0 371.7 196.7 371.1 197.3 370.2 197.4 369.7 197.2 369.1ZM242.2 382.2 241.8 381.6 241.4 381.6 241.0 381.9 240.6 382.7 240.6 383.5 240.7 384.5 241.0 385.1 241.4 385.4 241.9 385.2 242.4 384.3 242.4 383.3ZM235.9 383.4 235.0 382.8 234.1 382.5 232.1 382.5 231.2 382.8 230.3 383.4 230.0 383.9 229.9 384.6 230.3 385.4 231.2 386.0 232.8 386.3 234.1 386.3 235.2 385.8 236.1 385.1 236.3 384.2ZM183.8 384.0 185.5 385.2 186.6 385.7 193.4 386.3 199.6 387.7 205.6 389.7 208.5 391.3 209.5 391.6 214.7 389.0 221.4 387.0 223.5 385.8 224.4 385.0 222.1 383.5 218.8 381.9 216.9 381.6 206.1 380.8 204.4 380.3 199.8 377.9 194.2 377.3 192.4 377.3 189.9 377.8 187.4 378.4 186.2 378.9 184.9 380.1 183.6 381.7 183.4 383.2ZM201.0 403.2 202.9 403.4 205.3 403.2 209.9 401.5 211.1 400.8 213.6 398.9 214.4 398.1 214.3 397.6 213.2 396.1 210.8 395.5 209.0 395.6 205.9 396.7 203.8 397.9 201.4 399.7 200.5 400.6 200.4 401.5 200.7 402.7ZM189.9 404.3 188.9 403.7 188.1 403.7 187.6 404.3 187.4 405.5 187.6 407.0 188.2 408.0 189.1 409.0 189.9 409.2 190.4 409.0 190.8 408.7 191.0 407.3 190.8 405.8ZM204.9 423.6 206.9 424.8 208.2 425.3 214.9 425.8 222.9 425.3 225.9 424.0 226.6 423.5 226.6 423.1 226.2 420.6 225.6 419.4 223.0 417.6 220.7 416.4 218.9 415.8 214.5 415.1 212.1 415.0 209.6 415.6 205.1 417.1 203.7 417.8 202.3 419.1 202.0 419.7 202.4 420.6 204.1 422.9ZM194.8 426.1 194.0 425.7 193.2 425.9 192.8 426.7 193.0 427.5 193.8 427.9 194.6 427.7 195.0 426.9ZM191.5 430.2 191.1 429.7 190.6 429.6 190.1 429.7 189.7 430.2 189.5 431.0 189.5 431.7 189.8 432.3 190.2 432.7 190.9 432.8 191.5 432.2 191.7 431.2ZM207.9 465.6 207.4 464.0 206.5 463.3 205.1 463.4 203.6 464.4 202.3 466.2 201.8 467.9 201.8 469.9 202.5 471.2 203.4 471.6 204.2 471.5 205.1 471.1 206.0 470.4 206.9 469.4 207.5 468.1 207.8 466.9ZM188.4 473.3 187.7 472.7 186.7 472.5 186.0 472.5 185.1 472.8 184.6 473.3 184.2 474.1 184.1 474.9 184.3 475.7 185.1 476.6 186.0 476.9 187.0 476.9 187.9 476.6 188.5 475.9 188.9 475.1 188.8 474.1Z" fill="none" stroke="#141010" stroke-width="1.65" stroke-linejoin="round"/><path d="M93.8 324.0 93.1 323.5 91.8 323.5 90.3 323.9 88.6 324.7 87.1 325.7 86.0 326.9 85.4 328.0 85.4 328.8 86.1 329.3 87.4 329.3 88.9 328.9 90.6 328.1 92.1 327.1 93.2 325.9 93.8 324.8Z" fill="#8e1010" stroke="#141010" stroke-width="1.35" stroke-linejoin="round"/><path d="M72.5 335.8 72.3 335.0 71.8 334.4 71.1 334.0 70.2 333.8 69.3 334.0 68.6 334.4 68.1 335.0 67.9 335.8 68.1 336.6 68.6 337.2 69.3 337.6 70.2 337.8 71.1 337.6 71.8 337.2 72.3 336.6Z" fill="#8e1010" stroke="#141010" stroke-width="1.35" stroke-linejoin="round"/><path d="M96.4 335.8 96.2 335.0 95.6 334.2 94.8 333.8 93.8 333.6 92.8 333.8 92.0 334.2 91.4 335.0 91.2 335.8 91.4 336.6 92.0 337.4 92.8 337.8 93.8 338.0 94.8 337.8 95.6 337.4 96.2 336.6Z" fill="#8e1010" stroke="#141010" stroke-width="1.35" stroke-linejoin="round"/><path d="M129.2 312.9 128.2 312.6 126.7 312.9 125.1 313.8 123.6 315.3 122.3 317.0 121.5 318.7 121.4 320.1 121.8 321.1 122.8 321.4 124.3 321.1 125.9 320.2 127.4 318.7 128.7 317.0 129.5 315.3 129.6 313.9Z" fill="#8e1010" stroke="#141010" stroke-width="1.35" stroke-linejoin="round"/><path d="M150.9 338.5 150.5 337.7 149.6 337.4 148.7 337.7 148.3 338.5 148.7 339.3 149.6 339.6 150.5 339.3Z" fill="#6a0a0a" stroke="#141010" stroke-width="1.35" stroke-linejoin="round"/><path d="M173.2 304.9 174.7 303.2 176.9 301.4 180.0 299.8 182.2 299.2 185.9 298.5 189.0 298.8 190.2 299.0 191.0 299.4 191.9 300.0 192.3 300.6 191.9 301.6 190.6 303.8 189.7 304.7 188.2 305.9 185.9 307.5 182.2 309.5 180.6 310.2 178.1 310.9 175.8 311.2 174.0 310.6 173.0 309.9 172.7 309.6 172.6 308.3Z" fill="#8e1010" stroke="#141010" stroke-width="1.35" stroke-linejoin="round"/><path d="M184.4 304.2 183.7 303.5 182.6 303.2 181.1 303.4 179.5 303.9 178.1 304.8 177.1 305.8 176.5 306.9 176.6 307.8 177.3 308.5 178.4 308.8 179.9 308.6 181.5 308.1 182.9 307.2 183.9 306.2 184.5 305.1Z" fill="#6e0a0a" stroke="#141010" stroke-width="1.35" stroke-linejoin="round"/><path d="M178.0 316.5 179.6 315.2 181.7 313.9 185.4 312.4 187.6 311.6 191.2 311.2 192.6 311.9 193.4 312.8 192.6 314.1 191.2 315.5 182.2 318.8 180.0 319.2 179.0 319.2 178.2 318.0Z" fill="#8e1010" stroke="#141010" stroke-width="1.35" stroke-linejoin="round"/><path d="M187.8 314.5 187.4 314.1 186.7 313.9 184.6 314.3 182.7 315.4 182.2 316.0 182.2 316.5 182.6 316.9 183.3 317.1 185.4 316.7 187.3 315.6 187.8 315.0Z" fill="#6e0a0a" stroke="#141010" stroke-width="1.35" stroke-linejoin="round"/><path d="M212.2 314.4 212.0 313.6 211.5 313.0 210.7 312.6 209.8 312.4 208.9 312.6 208.1 313.0 207.6 313.6 207.4 314.4 207.6 315.2 208.1 315.8 208.9 316.2 209.8 316.4 210.7 316.2 211.5 315.8 212.0 315.2Z" fill="#8e1010" stroke="#141010" stroke-width="1.35" stroke-linejoin="round"/><path d="M179.6 326.1 181.5 324.5 183.8 322.9 186.4 321.7 189.1 320.8 192.4 320.4 195.5 320.3 198.0 321.2 198.7 321.8 198.8 322.2 198.7 323.4 198.4 324.6 197.6 325.3 193.4 327.2 188.0 328.7 183.3 329.3 181.6 329.1 179.6 328.2 179.3 327.2Z" fill="#8e1010" stroke="#141010" stroke-width="1.35" stroke-linejoin="round"/><path d="M187.8 325.8 187.4 325.3 186.6 324.9 185.6 324.8 184.5 325.0 183.4 325.4 182.5 326.0 182.1 326.7 182.0 327.4 182.4 327.9 183.2 328.3 184.2 328.4 185.3 328.2 186.4 327.8 187.3 327.2 187.7 326.5Z" fill="#6e0a0a" stroke="#141010" stroke-width="1.35" stroke-linejoin="round"/><path d="M195.7 323.2 195.3 322.6 194.5 322.2 193.5 322.0 192.3 322.2 191.2 322.6 190.4 323.3 189.9 324.0 189.9 324.8 190.3 325.4 191.1 325.8 192.1 326.0 193.3 325.8 194.4 325.4 195.2 324.7 195.7 324.0Z" fill="#6e0a0a" stroke="#141010" stroke-width="1.35" stroke-linejoin="round"/><path d="M192.8 339.9 194.9 338.5 197.6 337.2 199.2 336.9 202.2 336.7 204.6 337.1 208.2 338.3 209.6 339.4 210.3 340.1 210.3 340.4 208.5 341.3 206.1 342.0 201.7 342.4 198.9 342.5 194.4 342.0 193.2 341.0 192.7 340.2Z" fill="#8e1010" stroke="#141010" stroke-width="1.35" stroke-linejoin="round"/><path d="M203.8 339.6 203.6 339.1 202.9 338.8 200.8 338.4 198.7 338.8 198.0 339.1 197.8 339.6 198.0 340.1 198.7 340.4 200.8 340.8 202.9 340.4 203.6 340.1Z" fill="#3a0606" stroke="#141010" stroke-width="1.35" stroke-linejoin="round"/><path d="M108.4 395.6 108.2 394.9 107.8 394.3 107.2 393.9 106.4 393.8 105.6 393.9 105.0 394.3 104.6 394.9 104.4 395.6 104.6 396.3 105.0 396.9 105.6 397.3 106.4 397.4 107.2 397.3 107.8 396.9 108.2 396.3Z" fill="#8e1010" stroke="#141010" stroke-width="1.35" stroke-linejoin="round"/><path d="M70.3 415.9 70.2 414.7 69.3 413.5 67.8 412.4 65.8 411.6 63.7 411.3 61.8 411.4 60.4 412.1 59.7 413.1 59.8 414.3 60.7 415.5 62.2 416.6 64.2 417.4 66.3 417.7 68.2 417.6 69.6 416.9Z" fill="#8e1010" stroke="#141010" stroke-width="1.35" stroke-linejoin="round"/><path d="M77.3 422.4 77.4 421.6 77.1 420.9 76.5 420.3 75.6 419.8 74.7 419.6 73.8 419.7 73.1 420.1 72.7 420.6 72.6 421.4 72.9 422.1 73.5 422.7 74.4 423.2 75.3 423.4 76.2 423.3 76.9 422.9Z" fill="#8e1010" stroke="#141010" stroke-width="1.35" stroke-linejoin="round"/><path d="M100.7 415.6 100.0 413.6 99.3 412.3 98.2 411.6 97.7 411.6 97.1 411.9 96.6 412.5 96.3 413.5 96.2 415.1 96.3 416.4 96.7 417.7 97.3 419.1 97.9 419.9 98.6 420.4 99.3 420.4 99.7 420.3 100.5 419.2 100.8 417.8Z" fill="#8e1010" stroke="#141010" stroke-width="1.35" stroke-linejoin="round"/><path d="M171.6 377.2 171.4 376.3 170.9 375.5 170.1 375.0 169.2 374.8 168.3 375.0 167.5 375.5 167.0 376.3 166.8 377.2 167.0 378.1 167.5 378.9 168.3 379.4 169.2 379.6 170.1 379.4 170.9 378.9 171.4 378.1Z" fill="#8e1010" stroke="#141010" stroke-width="1.35" stroke-linejoin="round"/><path d="M118.7 411.4 118.4 410.9 117.7 410.5 115.2 410.1 112.7 410.5 112.0 410.9 111.7 411.4 112.0 411.9 112.7 412.3 115.2 412.7 117.7 412.3 118.4 411.9Z" fill="#6a0a0a" stroke="#141010" stroke-width="1.35" stroke-linejoin="round"/><path d="M141.6 409.8 141.4 409.0 140.9 408.2 140.1 407.8 139.2 407.6 138.3 407.8 137.5 408.2 137.0 409.0 136.8 409.8 137.0 410.6 137.5 411.4 138.3 411.8 139.2 412.0 140.1 411.8 140.9 411.4 141.4 410.6Z" fill="#8e1010" stroke="#141010" stroke-width="1.35" stroke-linejoin="round"/><path d="M217.2 354.6 216.9 353.6 215.6 352.6 213.7 351.7 211.2 351.0 208.8 350.8 206.6 351.0 205.1 351.5 204.4 352.4 204.7 353.4 206.0 354.4 207.9 355.3 210.4 356.0 212.8 356.2 215.0 356.0 216.5 355.5Z" fill="#8e1010" stroke="#141010" stroke-width="1.35" stroke-linejoin="round"/><path d="M216.1 373.1 215.9 372.3 215.2 371.5 214.1 371.1 212.9 370.9 211.7 371.1 210.6 371.5 209.9 372.3 209.7 373.1 209.9 373.9 210.6 374.7 211.7 375.1 212.9 375.3 214.1 375.1 215.2 374.7 215.9 373.9Z" fill="#8e1010" stroke="#141010" stroke-width="1.35" stroke-linejoin="round"/><path d="M215.8 386.8 215.7 386.1 215.0 385.5 212.4 384.0 208.4 382.6 203.5 381.5 198.6 380.9 194.3 380.8 191.4 381.3 190.5 381.7 190.2 382.2 190.3 382.9 191.0 383.5 193.6 385.0 197.6 386.4 202.5 387.5 207.4 388.1 211.7 388.2 214.6 387.7 215.5 387.3Z" fill="#8e1010" stroke="#141010" stroke-width="1.35" stroke-linejoin="round"/><path d="M178.5 404.4 178.3 403.2 177.7 402.1 176.8 401.4 175.7 401.2 174.6 401.4 173.7 402.1 173.1 403.2 172.9 404.4 173.1 405.6 173.7 406.7 174.6 407.4 175.7 407.6 176.8 407.4 177.7 406.7 178.3 405.6Z" fill="#8e1010" stroke="#141010" stroke-width="1.35" stroke-linejoin="round"/><path d="M69.5 443.3 69.3 442.7 68.9 442.2 67.5 441.8 66.1 442.2 65.7 442.7 65.5 443.3 65.7 443.9 66.1 444.4 67.5 444.8 68.9 444.4 69.3 443.9Z" fill="#6a0a0a" stroke="#141010" stroke-width="1.35" stroke-linejoin="round"/><path d="M52.6 451.6 52.4 451.0 52.0 450.5 50.6 450.1 49.2 450.5 48.8 451.0 48.6 451.6 48.8 452.2 49.2 452.7 50.6 453.1 52.0 452.7 52.4 452.2Z" fill="#8e1010" stroke="#141010" stroke-width="1.35" stroke-linejoin="round"/><path d="M136.6 436.8 136.5 436.3 136.1 436.0 134.8 435.6 133.5 436.0 133.1 436.3 133.0 436.8 133.1 437.3 133.5 437.6 134.8 438.0 136.1 437.6 136.5 437.3Z" fill="#500808" stroke="#141010" stroke-width="1.35" stroke-linejoin="round"/><path d="M158.1 422.7 157.4 422.5 156.4 422.6 155.2 423.2 154.0 424.1 152.9 425.2 152.1 426.3 151.8 427.2 151.9 427.9 152.6 428.1 153.6 428.0 154.8 427.4 156.0 426.5 157.1 425.4 157.9 424.3 158.2 423.4Z" fill="#8e1010" stroke="#141010" stroke-width="1.35" stroke-linejoin="round"/><path d="M213.8 420.5 213.6 419.9 212.9 419.4 211.9 419.1 210.8 419.0 209.7 419.1 208.7 419.4 208.0 419.9 207.8 420.5 208.0 421.1 208.7 421.6 209.7 421.9 210.8 422.0 211.9 421.9 212.9 421.6 213.6 421.1Z" fill="#300505" stroke="#141010" stroke-width="1.35" stroke-linejoin="round"/><g fill="#141010"><circle cx="71.5" cy="297.6" r="1.05"/><circle cx="71.2" cy="310.8" r="1.3499999999999999"/><circle cx="87.7" cy="317.1" r="0.65"/><circle cx="72.2" cy="326.6" r="0.9500000000000001"/><circle cx="136.5" cy="285.1" r="1.05"/><circle cx="119.9" cy="308.1" r="0.9500000000000001"/><circle cx="152.3" cy="307.4" r="0.75"/><circle cx="155.7" cy="323.9" r="1.05"/><circle cx="149.4" cy="327" r="1.05"/><circle cx="207.5" cy="298.6" r="0.75"/><circle cx="216.5" cy="301.3" r="1.56"/><circle cx="213.5" cy="304" r="1.05"/><circle cx="94.1" cy="355.5" r="1.05"/><circle cx="85" cy="391.2" r="1.05"/><circle cx="56" cy="404.1" r="1.15"/><circle cx="78.3" cy="404.1" r="1.05"/><circle cx="151.4" cy="385.5" r="0.75"/><circle cx="119.9" cy="388.2" r="1.05"/><circle cx="151.9" cy="410.5" r="0.9500000000000001"/><circle cx="158.4" cy="395" r="0.75"/><circle cx="161.1" cy="397" r="0.75"/><circle cx="238.3" cy="372.6" r="1.05"/><circle cx="209.2" cy="398.3" r="0.75"/><circle cx="88.4" cy="431.2" r="1.3499999999999999"/><circle cx="81.6" cy="440.4" r="0.75"/><circle cx="78.7" cy="444" r="0.75"/><circle cx="123.5" cy="424.4" r="1.45"/><circle cx="104" cy="452.8" r="1.45"/><circle cx="181.4" cy="419.7" r="1.05"/><circle cx="187.2" cy="424.1" r="1.05"/><circle cx="183.8" cy="427.1" r="0.9500000000000001"/><circle cx="200" cy="447.1" r="1.25"/></g></g>

<rect x="33.0" y="278.7" width="209.2" height="209.5" fill="none" stroke="#a4a4a4" stroke-width="0.9"/>
<text x="35.50" y="498.20" text-anchor="middle" class="tk">-91.8</text>
<text x="60.49" y="498.20" text-anchor="middle" class="tk">-91.7</text>
<text x="85.47" y="498.20" text-anchor="middle" class="tk">-91.6</text>
<text x="110.46" y="498.20" text-anchor="middle" class="tk">-91.5</text>
<text x="135.45" y="498.20" text-anchor="middle" class="tk">-91.4</text>
<text x="160.44" y="498.20" text-anchor="middle" class="tk">-91.3</text>
<text x="185.42" y="498.20" text-anchor="middle" class="tk">-91.2</text>
<text x="210.41" y="498.20" text-anchor="middle" class="tk">-91.1</text>
<text x="235.40" y="498.20" text-anchor="middle" class="tk">-91</text>
<text x="30.30" y="285.80" text-anchor="end" class="tk">37.2</text>
<text x="30.30" y="317.38" text-anchor="end" class="tk">37.1</text>
<text x="30.30" y="348.97" text-anchor="end" class="tk">37</text>
<text x="30.30" y="380.55" text-anchor="end" class="tk">36.9</text>
<text x="30.30" y="412.13" text-anchor="end" class="tk">36.8</text>
<text x="30.30" y="443.72" text-anchor="end" class="tk">36.7</text>
<text x="30.30" y="475.30" text-anchor="end" class="tk">36.6</text>
<path d="M35.50 488.2v-2M35.50 278.7v2M60.49 488.2v-2M60.49 278.7v2M85.47 488.2v-2M85.47 278.7v2M110.46 488.2v-2M110.46 278.7v2M135.45 488.2v-2M135.45 278.7v2M160.44 488.2v-2M160.44 278.7v2M185.42 488.2v-2M185.42 278.7v2M210.41 488.2v-2M210.41 278.7v2M235.40 488.2v-2M235.40 278.7v2M33.0 282.70h2M242.2 282.70h-2M33.0 314.28h2M242.2 314.28h-2M33.0 345.87h2M242.2 345.87h-2M33.0 377.45h2M242.2 377.45h-2M33.0 409.03h2M242.2 409.03h-2M33.0 440.62h2M242.2 440.62h-2M33.0 472.20h2M242.2 472.20h-2" stroke="#9a9a9a" stroke-width="0.8" fill="none"/>
<text x="137.60" y="511.70" text-anchor="middle" class="al">Lon (<tspan font-size="6.6" dy="-3.4">o</tspan><tspan dy="3.4">E)</tspan></text>
<text transform="translate(11.40,383.95) rotate(-90)" text-anchor="middle" class="al">Lat (<tspan font-size="6.6" dy="-3.4">o</tspan><tspan dy="3.4">N)</tspan></text>
<text transform="translate(33.00,272.00) scale(0.95,1)" class="ti">(c) MAE<tspan dx="4.5" font-style="italic" style="font-size:13px">v</tspan><tspan font-style="italic" style="font-size:9.5px" dy="3.6">int</tspan></text>
<rect x="249.2" y="279.2" width="9.40" height="209.40" fill="url(#cbg)" stroke="#a0a0a0" stroke-width="0.8"/>
<text x="261.00" y="281.40" class="tk" style="font-size:6.6px">0.25</text>
<text x="261.00" y="323.28" class="tk" style="font-size:6.6px">0.2</text>
<text x="261.00" y="365.16" class="tk" style="font-size:6.6px">0.15</text>
<text x="261.00" y="407.04" class="tk" style="font-size:6.6px">0.1</text>
<text x="261.00" y="448.92" class="tk" style="font-size:6.6px">0.05</text>
<text x="261.00" y="490.80" class="tk" style="font-size:6.6px">0</text>
<path d="M258.6 279.20h-1.5M258.6 321.08h-1.5M258.6 362.96h-1.5M258.6 404.84h-1.5M258.6 446.72h-1.5M258.6 488.60h-1.5" stroke="#888" stroke-width="0.6"/>
<clipPath id="clipd"><rect x="305.0" y="278.3" width="209.0" height="209.7"/></clipPath>
<rect x="305.0" y="278.3" width="209.0" height="209.7" fill="#f0eeee"/>
<g clip-path="url(#clipd)"><g filter="url(#bl4)"><g fill="#ebe1e2"><path d="M380.0 289.1 385.5 286.8 392.2 285.1 399.7 284.8 407.9 285.3 409.6 286.1 410.0 287.1 410.7 292.1 410.6 295.1 410.0 297.3 408.3 298.5 400.3 301.3 372.2 323.9 367.5 327.3 362.0 330.7 359.8 331.7 357.8 332.2 353.5 332.1 351.7 331.7 349.7 330.7 345.0 327.3 343.5 325.7 341.6 321.9 341.2 319.9 341.5 318.6 343.1 318.1 349.0 317.9 351.7 317.5 357.9 314.9 363.8 311.5 365.9 309.7 370.2 305.2 376.9 297.0 378.0 295.2 379.0 290.4Z"/><path d="M402.4 301.3 404.4 300.0 406.7 299.2 408.7 298.9 410.0 299.3 410.6 301.0 410.9 303.7 410.7 306.8 410.0 309.4 408.3 311.8 405.7 314.6 397.9 321.6 383.8 332.7 382.1 333.8 378.7 335.3 376.0 335.8 375.1 335.3 374.3 334.3 373.8 333.0 374.0 331.7 375.3 330.1 392.2 313.5 400.2 303.6Z"/><path d="M390.2 325.7 394.9 322.1 397.8 320.5 400.3 319.6 405.7 319.0 408.3 319.6 410.0 321.6 410.7 326.8 411.0 334.7 410.7 342.7 410.0 347.9 408.3 349.9 405.6 350.6 400.3 350.0 398.3 349.1 396.0 347.6 392.2 343.9 389.7 339.0 388.2 333.8 388.5 329.5 389.2 327.4Z"/><ellipse cx="310" cy="324.6" rx="5" ry="3.5"/><ellipse cx="332" cy="331.7" rx="5" ry="6"/><ellipse cx="345" cy="341" rx="4" ry="4"/><ellipse cx="378" cy="351.7" rx="5" ry="4"/><ellipse cx="360" cy="365.5" rx="7" ry="4"/><ellipse cx="403" cy="362" rx="7" ry="9"/><ellipse cx="353" cy="377" rx="8" ry="6"/><ellipse cx="331" cy="379" rx="7" ry="5"/><ellipse cx="329.3" cy="346" rx="2.5" ry="2.5"/><ellipse cx="339.5" cy="350" rx="3" ry="3"/><path d="M410.0 287.1 412.1 284.7 415.4 283.9 425.5 284.0 433.5 284.5 436.4 285.1 438.5 286.2 440.4 287.8 441.8 289.6 442.5 291.2 442.2 293.1 441.2 295.7 439.8 298.0 438.4 299.3 436.8 299.3 432.2 297.6 430.3 297.3 426.0 298.7 423.8 299.9 422.2 301.3 421.1 303.3 418.1 311.5 410.7 321.6 410.3 321.6 410.0 319.6 409.3 303.5 409.3 293.6Z"/><path d="M436.4 301.3 438.0 300.1 440.7 298.8 446.5 297.3 452.6 297.5 464.3 299.4 467.0 300.3 468.8 301.3 469.9 302.9 470.8 305.1 471.1 307.4 470.9 309.4 469.6 311.4 467.4 313.8 462.7 317.5 457.6 319.2 452.6 319.6 450.6 319.0 446.2 316.7 442.9 314.2 439.5 311.0 438.4 309.4 436.6 305.2 436.1 303.0Z"/><ellipse cx="486" cy="303" rx="8" ry="6"/><path d="M485.1 315.5 487.0 314.3 489.8 313.3 495.2 312.5 500.3 313.7 502.8 314.9 504.3 316.5 504.8 319.2 504.7 323.0 504.1 326.9 503.3 329.7 501.8 331.7 499.6 333.5 495.2 335.8 493.3 335.9 490.9 335.5 488.7 334.8 487.1 333.8 484.5 330.2 483.0 325.7 483.3 320.3 484.0 317.5Z"/><path d="M456.7 317.5 461.8 315.8 464.5 315.3 466.8 315.5 468.9 316.8 473.4 321.4 474.9 323.6 475.9 325.9 477.0 331.6 476.9 333.8 476.0 335.6 472.7 338.9 470.9 339.9 468.8 340.3 466.0 340.4 460.7 339.9 450.6 335.8 442.3 334.5 440.4 333.8 439.2 332.6 438.4 330.9 438.0 329.1 438.4 327.7 440.1 326.7 448.5 323.6Z"/><path d="M414.1 321.6 416.5 321.3 419.8 321.7 426.2 323.6 431.7 327.1 434.4 329.5 436.4 331.7 437.9 334.4 440.2 341.3 440.4 343.9 439.7 345.8 438.2 347.7 436.2 349.2 434.3 350.0 431.8 350.1 428.3 349.7 424.9 349.0 422.2 348.0 420.0 346.5 417.8 344.3 414.1 339.9 411.4 335.9 410.4 333.7 410.0 331.7 410.3 329.2 411.2 326.1 412.5 323.3Z"/><ellipse cx="456.7" cy="348" rx="10" ry="5"/><path d="M483.0 350.0 485.5 348.1 489.0 346.1 492.6 344.6 495.2 343.9 497.1 344.2 499.1 345.2 500.6 346.6 501.3 348.0 501.0 349.6 498.7 354.2 495.2 358.2 489.4 362.9 487.1 364.2 484.9 364.5 482.3 364.2 480.2 363.4 479.0 362.2 479.1 359.8 480.0 356.3 481.4 352.7Z"/><path d="M448.5 368.2 450.2 366.4 453.0 364.0 458.7 360.1 463.9 357.6 466.6 356.6 468.8 356.1 471.0 356.1 475.7 357.2 476.9 358.1 476.8 359.7 475.8 361.9 472.9 366.2 468.2 369.6 462.7 372.3 456.2 373.9 452.9 374.4 450.6 374.3 449.3 373.4 448.4 371.8 448.1 369.9Z"/><ellipse cx="420" cy="361" rx="6" ry="5"/><ellipse cx="431" cy="378" rx="9" ry="8"/><ellipse cx="466" cy="378" rx="8" ry="6"/><ellipse cx="495" cy="378" rx="9" ry="6"/><path d="M321.2 400.2 322.7 398.6 325.4 396.8 331.4 394.1 334.5 393.4 345.6 392.1 354.8 388.7 357.7 388.1 365.0 388.6 371.9 390.1 374.1 391.5 378.2 395.3 380.1 396.2 382.3 395.7 387.8 392.9 390.2 392.1 392.5 392.2 400.3 394.1 405.7 394.0 408.3 394.5 410.0 396.2 410.7 401.1 411.0 408.6 410.7 415.9 410.0 420.5 408.3 421.5 405.7 420.8 400.3 418.5 392.5 416.7 390.2 416.5 384.9 417.0 382.2 417.6 380.1 418.5 378.4 420.0 376.7 422.1 374.0 426.6 373.4 428.9 372.5 434.7 371.9 436.7 370.8 438.1 367.5 440.4 365.9 440.8 364.1 440.5 359.5 438.3 357.7 436.7 356.2 434.3 348.9 419.2 345.6 414.4 340.7 410.8 335.4 408.3 332.9 408.1 327.3 408.6 325.3 408.3 323.7 406.8 322.2 404.6 321.2 402.1Z"/><ellipse cx="369" cy="430" rx="7" ry="14"/><ellipse cx="336" cy="430" rx="5" ry="4"/><path d="M329.3 455.0 334.0 449.5 337.1 446.6 339.5 444.9 341.5 444.6 352.6 448.6 357.7 450.9 362.5 454.9 364.7 457.3 365.9 459.0 365.8 460.2 364.9 461.5 363.4 462.5 361.8 463.1 359.4 463.3 340.1 463.2 335.2 462.8 330.7 461.8 329.3 461.1 328.6 460.0 328.4 458.5 328.6 456.7Z"/><ellipse cx="403" cy="428" rx="8" ry="7"/><path d="M384.1 453.0 385.5 451.8 387.7 451.0 390.2 450.7 392.2 450.9 394.0 451.9 400.3 457.0 408.3 459.7 410.0 461.1 410.7 463.6 410.9 467.3 410.6 470.8 410.0 473.3 408.8 474.6 406.8 475.6 402.4 476.3 396.2 475.4 392.7 474.4 390.2 473.3 388.5 471.8 387.1 469.7 385.1 465.1 383.9 458.7 383.7 455.3Z"/><ellipse cx="380" cy="461" rx="4" ry="5"/><ellipse cx="323" cy="451" rx="2" ry="2"/><path d="M410.0 396.2 412.1 393.4 415.5 393.7 422.2 396.2 428.4 397.0 434.3 398.2 452.4 405.1 454.6 406.3 456.6 407.9 461.0 412.2 464.3 417.0 468.8 426.6 470.3 435.2 470.9 436.7 472.1 436.7 473.9 435.8 475.7 434.4 476.9 432.7 477.5 430.2 478.2 423.0 479.0 420.5 480.5 419.0 482.6 417.8 487.1 416.5 493.4 416.7 496.9 417.4 499.2 418.5 500.4 420.8 501.2 424.3 501.5 427.9 501.3 430.7 500.4 432.8 498.7 435.1 495.2 438.8 489.8 443.5 489.1 444.9 489.8 446.3 498.7 453.9 500.4 455.6 501.3 457.0 501.4 458.5 501.1 460.4 500.3 462.0 499.2 463.1 497.3 463.6 491.6 463.6 489.1 463.1 484.0 460.4 479.0 457.0 472.7 451.6 470.9 450.9 469.0 451.7 462.7 457.0 458.4 459.8 456.2 460.9 454.6 461.1 453.4 459.9 452.4 457.7 447.9 446.4 446.5 444.9 444.1 444.0 440.8 443.3 434.3 442.8 431.4 443.0 424.8 444.2 422.2 444.9 420.0 445.9 415.7 448.4 411.6 449.5 410.6 448.5 410.0 444.9 409.5 435.2 409.2 420.3 409.2 405.6Z"/><path d="M481.0 386.0 482.7 384.7 485.4 384.1 491.1 384.0 496.8 385.2 499.6 386.5 501.3 388.1 501.6 391.0 501.2 395.2 500.3 399.4 499.2 402.3 497.7 404.0 495.4 405.3 493.1 406.1 491.1 406.3 489.1 405.6 486.7 404.2 484.5 402.3 483.0 400.2 482.0 397.1 481.1 392.9 480.7 388.7Z"/><ellipse cx="462" cy="388" rx="8" ry="4"/><ellipse cx="436" cy="458" rx="8" ry="6"/><ellipse cx="459" cy="470" rx="3.5" ry="3"/><ellipse cx="421" cy="471" rx="5" ry="3"/><ellipse cx="468" cy="472" rx="2" ry="2"/></g><g fill="#e4d3d5"><path d="M386.1 297.3 390.6 295.4 392.7 295.1 394.2 295.2 395.3 296.1 396.2 297.8 396.6 299.7 396.3 301.3 394.6 302.7 386.1 307.4 381.0 311.2 376.0 315.5 368.0 323.7 364.2 327.1 360.9 329.3 359.8 329.7 358.9 329.3 358.0 328.3 357.5 327.0 357.7 325.7 359.0 324.1 365.9 317.5 383.9 299.2Z"/><ellipse cx="418" cy="293" rx="4" ry="6" transform="rotate(30 418 293)"/><ellipse cx="454.7" cy="308.4" rx="6" ry="5"/><ellipse cx="487" cy="303" rx="3" ry="3"/><ellipse cx="491.1" cy="325.7" rx="5" ry="6"/><ellipse cx="460.7" cy="333.8" rx="5" ry="4"/><ellipse cx="464.8" cy="321.6" rx="4" ry="5"/><ellipse cx="430.3" cy="329.7" rx="3.5" ry="3.5"/><ellipse cx="491.1" cy="352" rx="5" ry="3.5" transform="rotate(-30 491.1 352)"/><ellipse cx="335" cy="401" rx="6" ry="4"/><ellipse cx="366" cy="400" rx="5" ry="4"/><ellipse cx="395" cy="409" rx="10" ry="4"/><ellipse cx="398.3" cy="469.2" rx="5" ry="3"/><ellipse cx="416" cy="404" rx="4" ry="4"/><ellipse cx="432.3" cy="407.3" rx="4" ry="4"/><ellipse cx="418" cy="424.6" rx="4" ry="4"/><ellipse cx="487.1" cy="430.7" rx="4" ry="4"/><ellipse cx="458.7" cy="449" rx="4" ry="4"/></g><g fill="#dcc4c6"><ellipse cx="491.5" cy="326.5" rx="2.5" ry="2.5"/></g><g fill="#f2f1f1"><ellipse cx="434" cy="417" rx="4" ry="7"/><ellipse cx="428" cy="430" rx="6" ry="6"/><ellipse cx="474" cy="427" rx="4" ry="7"/></g></g></g>
<rect x="305.0" y="278.3" width="209.0" height="209.7" filter="url(#motpd)" opacity="0.12"/>
<rect x="305.0" y="278.3" width="209.0" height="209.7" fill="none" stroke="#a4a4a4" stroke-width="0.9"/>
<text x="307.50" y="498.00" text-anchor="middle" class="tk">-91.8</text>
<text x="332.46" y="498.00" text-anchor="middle" class="tk">-91.7</text>
<text x="357.43" y="498.00" text-anchor="middle" class="tk">-91.6</text>
<text x="382.39" y="498.00" text-anchor="middle" class="tk">-91.5</text>
<text x="407.35" y="498.00" text-anchor="middle" class="tk">-91.4</text>
<text x="432.31" y="498.00" text-anchor="middle" class="tk">-91.3</text>
<text x="457.27" y="498.00" text-anchor="middle" class="tk">-91.2</text>
<text x="482.24" y="498.00" text-anchor="middle" class="tk">-91.1</text>
<text x="507.20" y="498.00" text-anchor="middle" class="tk">-91</text>
<text x="302.30" y="285.40" text-anchor="end" class="tk">37.2</text>
<text x="302.30" y="317.02" text-anchor="end" class="tk">37.1</text>
<text x="302.30" y="348.63" text-anchor="end" class="tk">37</text>
<text x="302.30" y="380.25" text-anchor="end" class="tk">36.9</text>
<text x="302.30" y="411.87" text-anchor="end" class="tk">36.8</text>
<text x="302.30" y="443.48" text-anchor="end" class="tk">36.7</text>
<text x="302.30" y="475.10" text-anchor="end" class="tk">36.6</text>
<path d="M307.50 488.0v-2M307.50 278.3v2M332.46 488.0v-2M332.46 278.3v2M357.43 488.0v-2M357.43 278.3v2M382.39 488.0v-2M382.39 278.3v2M407.35 488.0v-2M407.35 278.3v2M432.31 488.0v-2M432.31 278.3v2M457.27 488.0v-2M457.27 278.3v2M482.24 488.0v-2M482.24 278.3v2M507.20 488.0v-2M507.20 278.3v2M305.0 282.30h2M514.0 282.30h-2M305.0 313.92h2M514.0 313.92h-2M305.0 345.53h2M514.0 345.53h-2M305.0 377.15h2M514.0 377.15h-2M305.0 408.77h2M514.0 408.77h-2M305.0 440.38h2M514.0 440.38h-2M305.0 472.00h2M514.0 472.00h-2" stroke="#9a9a9a" stroke-width="0.8" fill="none"/>
<text x="409.50" y="511.50" text-anchor="middle" class="al">Lon (<tspan font-size="6.6" dy="-3.4">o</tspan><tspan dy="3.4">E)</tspan></text>
<text transform="translate(283.40,383.65) rotate(-90)" text-anchor="middle" class="al">Lat (<tspan font-size="6.6" dy="-3.4">o</tspan><tspan dy="3.4">N)</tspan></text>
<text transform="translate(305.60,272.20) scale(0.95,1)" class="ti">(d) MAE<tspan dx="4.5" font-style="italic" style="font-size:13px">v</tspan><tspan font-style="italic" style="font-size:9.5px" dy="3.6">anen</tspan></text>
<rect x="521.2" y="279.0" width="9.80" height="209.20" fill="url(#cbg)" stroke="#a0a0a0" stroke-width="0.8"/>
<text x="533.40" y="281.20" class="tk" style="font-size:6.6px">0.25</text>
<text x="533.40" y="323.04" class="tk" style="font-size:6.6px">0.2</text>
<text x="533.40" y="364.88" class="tk" style="font-size:6.6px">0.15</text>
<text x="533.40" y="406.72" class="tk" style="font-size:6.6px">0.1</text>
<text x="533.40" y="448.56" class="tk" style="font-size:6.6px">0.05</text>
<text x="533.40" y="490.40" class="tk" style="font-size:6.6px">0</text>
<path d="M531.0 279.00h-1.5M531.0 320.84h-1.5M531.0 362.68h-1.5M531.0 404.52h-1.5M531.0 446.36h-1.5M531.0 488.20h-1.5" stroke="#888" stroke-width="0.6"/>
</svg></body></html>
